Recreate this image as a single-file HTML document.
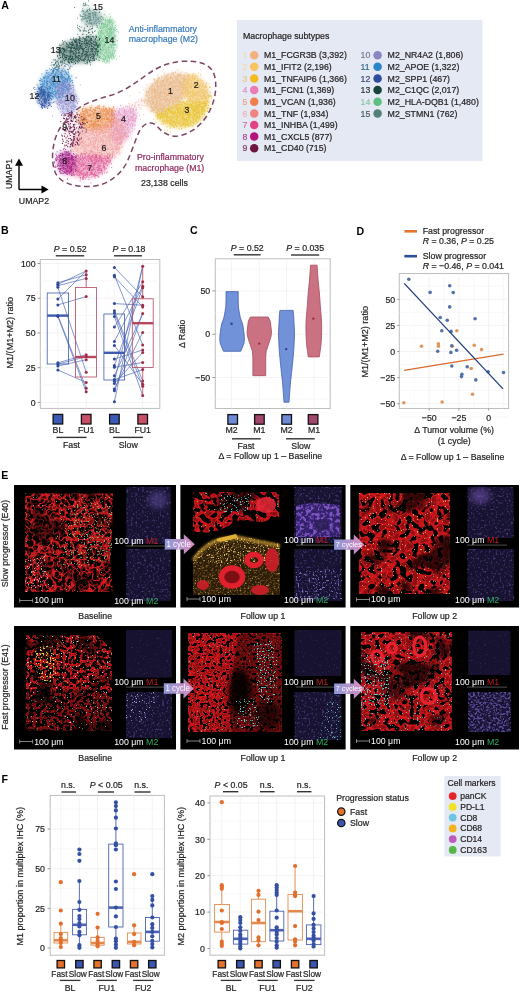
<!DOCTYPE html>
<html><head><meta charset="utf-8"><title>Figure</title>
<style>html,body{margin:0;padding:0;background:#fff;}svg{display:block;}</style></head>
<body><svg width="520" height="994" viewBox="0 0 520 994" font-family="'Liberation Sans', Arial, sans-serif">
<defs><linearGradient id="ag" x1="0" x2="1" y1="0" y2="0"><stop offset="0" stop-color="#8e98d8"/><stop offset="1" stop-color="#d88cbe"/></linearGradient><filter id="blur1" x="-20%" y="-20%" width="140%" height="140%"><feGaussianBlur stdDeviation="1.5"/></filter><filter id="blur2" x="-50%" y="-50%" width="200%" height="200%"><feGaussianBlur stdDeviation="3"/></filter><filter id="f1" x="0" y="0" width="1" height="1" color-interpolation-filters="sRGB"><feTurbulence type="fractalNoise" baseFrequency="0.3" numOctaves="2" seed="3"/><feColorMatrix type="matrix" values="0 0 0 0 0.55 0 0 0 0 0.06 0 0 0 0 0.07 1 0 0 0 0"/><feComponentTransfer><feFuncA type="table" tableValues="0 0 0 0 0 0 0 0 0 0 0 0 0 0 0 0 0 0 0 0 0 0.16 0.31 0.47 0.62 0.75 0.75 0.75 0.75 0.75 0.75 0.75 0.75 0.75 0.75 0.75 0.75 0.75 0.75 0.75 0.75"/></feComponentTransfer></filter><filter id="f2" x="0" y="0" width="1" height="1" color-interpolation-filters="sRGB"><feTurbulence type="fractalNoise" baseFrequency="0.15" numOctaves="2" seed="10"/><feColorMatrix type="matrix" values="0 0 0 0 0.93 0 0 0 0 0.13 0 0 0 0 0.15 1 0 0 0 0"/><feComponentTransfer><feFuncA type="table" tableValues="0 0 0 0 0 0 0 0 0 0 0 0 0 0 0 0 0.18 0.41 0.64 0.86 0.91 0.68 0.45 0.23 0 0 0 0 0 0 0 0 0 0 0 0 0 0 0 0 0"/></feComponentTransfer></filter><filter id="f3" x="0" y="0" width="1" height="1" color-interpolation-filters="sRGB"><feTurbulence type="fractalNoise" baseFrequency="0.75" numOctaves="1" seed="53"/><feColorMatrix type="matrix" values="0 0 0 0 0.55 0 0 0 0 0.75 0 0 0 0 0.5 0 1 0 0 0"/><feComponentTransfer><feFuncA type="table" tableValues="0 0 0 0 0 0 0 0 0 0 0 0 0 0 0 0 0 0 0 0 0 0 0 0 0 0 0 0 0.14 0.5 0.85 0.85 0.85 0.85 0.85 0.85 0.85 0.85 0.85 0.85 0.85"/></feComponentTransfer></filter><filter id="f4" x="0" y="0" width="1" height="1" color-interpolation-filters="sRGB"><feTurbulence type="fractalNoise" baseFrequency="0.035" numOctaves="2" seed="93"/><feColorMatrix type="matrix" values="0 0 0 0 0 0 0 0 0 0 0 0 0 0 0 1 0 0 0 0"/><feComponentTransfer><feFuncA type="table" tableValues="0 0 0 0 0 0 0 0 0 0 0 0 0 0 0 0 0 0 0 0 0 0 0 0 0 0.13 0.25 0.38 0.5 0.5 0.5 0.5 0.5 0.5 0.5 0.5 0.5 0.5 0.5 0.5 0.5"/></feComponentTransfer></filter><filter id="f5" x="0" y="0" width="1" height="1" color-interpolation-filters="sRGB"><feTurbulence type="fractalNoise" baseFrequency="0.7" numOctaves="1" seed="61"/><feColorMatrix type="matrix" values="0 0 0 0 0.55 0 0 0 0 0.8 0 0 0 0 0.5 0 1 0 0 0"/><feComponentTransfer><feFuncA type="table" tableValues="0 0 0 0 0 0 0 0 0 0 0 0 0 0 0 0 0 0 0 0 0 0 0 0 0 0.05 0.3 0.55 0.8 0.8 0.8 0.8 0.8 0.8 0.8 0.8 0.8 0.8 0.8 0.8 0.8"/></feComponentTransfer></filter><filter id="f6" x="0" y="0" width="1" height="1" color-interpolation-filters="sRGB"><feTurbulence type="fractalNoise" baseFrequency="0.7" numOctaves="1" seed="62"/><feColorMatrix type="matrix" values="0 0 0 0 0.8 0 0 0 0 0.85 0 0 0 0 0.85 0 1 0 0 0"/><feComponentTransfer><feFuncA type="table" tableValues="0 0 0 0 0 0 0 0 0 0 0 0 0 0 0 0 0 0 0 0 0 0 0 0 0 0.25 0.5 0.75 0.8 0.8 0.8 0.8 0.8 0.8 0.8 0.8 0.8 0.8 0.8 0.8 0.8"/></feComponentTransfer></filter><filter id="f7" x="0" y="0" width="1" height="1" color-interpolation-filters="sRGB"><feTurbulence type="fractalNoise" baseFrequency="0.45" numOctaves="2" seed="21"/><feColorMatrix type="matrix" values="0 0 0 0 0.42 0 0 0 0 0.34 0 0 0 0 0.7 0 0 1 0 0"/><feComponentTransfer><feFuncA type="table" tableValues="0 0 0 0 0 0 0 0 0 0 0 0 0 0 0 0 0 0 0 0 0 0 0 0.04 0.11 0.18 0.25 0.32 0.39 0.46 0.5 0.5 0.5 0.5 0.5 0.5 0.5 0.5 0.5 0.5 0.5"/></feComponentTransfer></filter><filter id="f8" x="0" y="0" width="1" height="1" color-interpolation-filters="sRGB"><feTurbulence type="fractalNoise" baseFrequency="0.45" numOctaves="2" seed="22"/><feColorMatrix type="matrix" values="0 0 0 0 0.42 0 0 0 0 0.34 0 0 0 0 0.7 0 0 1 0 0"/><feComponentTransfer><feFuncA type="table" tableValues="0 0 0 0 0 0 0 0 0 0 0 0 0 0 0 0 0 0 0 0 0 0 0 0.04 0.11 0.18 0.25 0.32 0.39 0.46 0.5 0.5 0.5 0.5 0.5 0.5 0.5 0.5 0.5 0.5 0.5"/></feComponentTransfer></filter><filter id="f9" x="0" y="0" width="1" height="1" color-interpolation-filters="sRGB"><feTurbulence type="fractalNoise" baseFrequency="0.18" numOctaves="1" seed="5"/><feColorMatrix type="matrix" values="0 0 0 0 0.84 0 0 0 0 0.09 0 0 0 0 0.11 1 0 0 0 0"/><feComponentTransfer><feFuncA type="table" tableValues="0 0 0 0 0 0 0 0 0 0 0 0 0 0 0 0 0 0 0 0 0 0.08 0.47 0.87 0.95 0.95 0.95 0.95 0.95 0.95 0.95 0.95 0.95 0.95 0.95 0.95 0.95 0.95 0.95 0.95 0.95"/></feComponentTransfer></filter><filter id="f10" x="0" y="0" width="1" height="1" color-interpolation-filters="sRGB"><feTurbulence type="fractalNoise" baseFrequency="0.18" numOctaves="1" seed="5"/><feColorMatrix type="matrix" values="0 0 0 0 0.3 0 0 0 0 0.02 0 0 0 0 0.03 1 0 0 0 0"/><feComponentTransfer><feFuncA type="table" tableValues="0 0 0 0 0 0 0 0 0 0 0 0 0 0 0 0 0 0 0 0 0 0 0 0 0 0.04 0.21 0.39 0.5 0.5 0.5 0.5 0.5 0.5 0.5 0.5 0.5 0.5 0.5 0.5 0.5"/></feComponentTransfer></filter><filter id="f11" x="0" y="0" width="1" height="1" color-interpolation-filters="sRGB"><feTurbulence type="fractalNoise" baseFrequency="0.18" numOctaves="1" seed="338"/><feColorMatrix type="matrix" values="0 0 0 0 0.84 0 0 0 0 0.09 0 0 0 0 0.11 1 0 0 0 0"/><feComponentTransfer><feFuncA type="table" tableValues="0 0 0 0 0 0 0 0 0 0 0 0 0 0 0 0 0 0 0 0 0 0.08 0.47 0.87 0.95 0.95 0.95 0.95 0.95 0.95 0.95 0.95 0.95 0.95 0.95 0.95 0.95 0.95 0.95 0.95 0.95"/></feComponentTransfer></filter><filter id="f12" x="0" y="0" width="1" height="1" color-interpolation-filters="sRGB"><feTurbulence type="fractalNoise" baseFrequency="0.18" numOctaves="1" seed="338"/><feColorMatrix type="matrix" values="0 0 0 0 0.3 0 0 0 0 0.02 0 0 0 0 0.03 1 0 0 0 0"/><feComponentTransfer><feFuncA type="table" tableValues="0 0 0 0 0 0 0 0 0 0 0 0 0 0 0 0 0 0 0 0 0 0 0 0 0 0.04 0.21 0.39 0.5 0.5 0.5 0.5 0.5 0.5 0.5 0.5 0.5 0.5 0.5 0.5 0.5"/></feComponentTransfer></filter><filter id="f13" x="0" y="0" width="1" height="1" color-interpolation-filters="sRGB"><feTurbulence type="fractalNoise" baseFrequency="0.75" numOctaves="1" seed="55"/><feColorMatrix type="matrix" values="0 0 0 0 0.55 0 0 0 0 0.75 0 0 0 0 0.5 0 1 0 0 0"/><feComponentTransfer><feFuncA type="table" tableValues="0 0 0 0 0 0 0 0 0 0 0 0 0 0 0 0 0 0 0 0 0 0 0 0 0 0 0 0 0.14 0.5 0.85 0.85 0.85 0.85 0.85 0.85 0.85 0.85 0.85 0.85 0.85"/></feComponentTransfer></filter><filter id="f14" x="0" y="0" width="1" height="1" color-interpolation-filters="sRGB"><feTurbulence type="fractalNoise" baseFrequency="0.035" numOctaves="2" seed="95"/><feColorMatrix type="matrix" values="0 0 0 0 0 0 0 0 0 0 0 0 0 0 0 1 0 0 0 0"/><feComponentTransfer><feFuncA type="table" tableValues="0 0 0 0 0 0 0 0 0 0 0 0 0 0 0 0 0 0 0 0 0 0 0 0.09 0.23 0.38 0.52 0.67 0.7 0.7 0.7 0.7 0.7 0.7 0.7 0.7 0.7 0.7 0.7 0.7 0.7"/></feComponentTransfer></filter><filter id="f15" x="0" y="0" width="1" height="1" color-interpolation-filters="sRGB"><feTurbulence type="fractalNoise" baseFrequency="0.7" numOctaves="1" seed="63"/><feColorMatrix type="matrix" values="0 0 0 0 0.45 0 0 0 0 0.85 0 0 0 0 0.85 0 1 0 0 0"/><feComponentTransfer><feFuncA type="table" tableValues="0 0 0 0 0 0 0 0 0 0 0 0 0 0 0 0 0 0 0 0 0 0 0 0 0 0.28 0.56 0.84 0.9 0.9 0.9 0.9 0.9 0.9 0.9 0.9 0.9 0.9 0.9 0.9 0.9"/></feComponentTransfer></filter><filter id="f16" x="0" y="0" width="1" height="1" color-interpolation-filters="sRGB"><feTurbulence type="fractalNoise" baseFrequency="0.5" numOctaves="2" seed="9"/><feColorMatrix type="matrix" values="0 0 0 0 0.5 0 0 0 0 0.38 0 0 0 0 0.14 1 0 0 0 0"/><feComponentTransfer><feFuncA type="table" tableValues="0 0 0 0 0 0 0 0 0 0 0 0 0 0 0 0 0 0 0 0 0.08 0.17 0.26 0.36 0.45 0.54 0.6 0.6 0.6 0.6 0.6 0.6 0.6 0.6 0.6 0.6 0.6 0.6 0.6 0.6 0.6"/></feComponentTransfer></filter><filter id="f17" x="0" y="0" width="1" height="1" color-interpolation-filters="sRGB"><feTurbulence type="fractalNoise" baseFrequency="0.6" numOctaves="1" seed="19"/><feColorMatrix type="matrix" values="0 0 0 0 0.9 0 0 0 0 0.7 0 0 0 0 0.3 0 1 0 0 0"/><feComponentTransfer><feFuncA type="table" tableValues="0 0 0 0 0 0 0 0 0 0 0 0 0 0 0 0 0 0 0 0 0 0 0 0 0 0 0.07 0.25 0.42 0.59 0.7 0.7 0.7 0.7 0.7 0.7 0.7 0.7 0.7 0.7 0.7"/></feComponentTransfer></filter><filter id="f18" x="0" y="0" width="1" height="1" color-interpolation-filters="sRGB"><feTurbulence type="fractalNoise" baseFrequency="0.7" numOctaves="1" seed="29"/><feColorMatrix type="matrix" values="0 0 0 0 0.98 0 0 0 0 0.88 0 0 0 0 0.5 0 1 0 0 0"/><feComponentTransfer><feFuncA type="table" tableValues="0 0 0 0 0 0 0 0 0 0 0 0 0 0 0 0 0 0 0 0 0 0 0 0 0 0.05 0.3 0.55 0.8 0.8 0.8 0.8 0.8 0.8 0.8 0.8 0.8 0.8 0.8 0.8 0.8"/></feComponentTransfer></filter><filter id="f19" x="0" y="0" width="1" height="1" color-interpolation-filters="sRGB"><feTurbulence type="fractalNoise" baseFrequency="0.45" numOctaves="2" seed="23"/><feColorMatrix type="matrix" values="0 0 0 0 0.42 0 0 0 0 0.34 0 0 0 0 0.7 0 0 1 0 0"/><feComponentTransfer><feFuncA type="table" tableValues="0 0 0 0 0 0 0 0 0 0 0 0 0 0 0 0 0 0 0 0 0 0 0 0.04 0.11 0.18 0.25 0.32 0.39 0.46 0.5 0.5 0.5 0.5 0.5 0.5 0.5 0.5 0.5 0.5 0.5"/></feComponentTransfer></filter><filter id="f20" x="0" y="0" width="1" height="1" color-interpolation-filters="sRGB"><feTurbulence type="fractalNoise" baseFrequency="0.3" numOctaves="3" seed="71"/><feColorMatrix type="matrix" values="0 0 0 0 0.56 0 0 0 0 0.38 0 0 0 0 0.84 1 0 0 0 0"/><feComponentTransfer><feFuncA type="table" tableValues="0 0 0 0 0 0 0 0 0 0 0 0 0 0 0 0 0 0 0 0.1 0.2 0.3 0.4 0.5 0.6 0.7 0.8 0.8 0.8 0.8 0.8 0.8 0.8 0.8 0.8 0.8 0.8 0.8 0.8 0.8 0.8"/></feComponentTransfer></filter><filter id="f21" x="0" y="0" width="1" height="1" color-interpolation-filters="sRGB"><feTurbulence type="fractalNoise" baseFrequency="0.45" numOctaves="2" seed="24"/><feColorMatrix type="matrix" values="0 0 0 0 0.42 0 0 0 0 0.34 0 0 0 0 0.7 0 0 1 0 0"/><feComponentTransfer><feFuncA type="table" tableValues="0 0 0 0 0 0 0 0 0 0 0 0 0 0 0 0 0 0 0 0 0 0 0 0.04 0.11 0.18 0.25 0.32 0.39 0.46 0.5 0.5 0.5 0.5 0.5 0.5 0.5 0.5 0.5 0.5 0.5"/></feComponentTransfer></filter><filter id="f22" x="0" y="0" width="1" height="1" color-interpolation-filters="sRGB"><feTurbulence type="fractalNoise" baseFrequency="0.55" numOctaves="1" seed="72"/><feColorMatrix type="matrix" values="0 0 0 0 0.55 0 0 0 0 0.5 0 0 0 0 0.85 0 0 1 0 0"/><feComponentTransfer><feFuncA type="table" tableValues="0 0 0 0 0 0 0 0 0 0 0 0 0 0 0 0 0 0 0 0 0 0 0 0 0 0.2 0.4 0.6 0.8 0.8 0.8 0.8 0.8 0.8 0.8 0.8 0.8 0.8 0.8 0.8 0.8"/></feComponentTransfer></filter><filter id="f23" x="0" y="0" width="1" height="1" color-interpolation-filters="sRGB"><feTurbulence type="fractalNoise" baseFrequency="0.16" numOctaves="1" seed="7"/><feColorMatrix type="matrix" values="0 0 0 0 0.84 0 0 0 0 0.09 0 0 0 0 0.11 1 0 0 0 0"/><feComponentTransfer><feFuncA type="table" tableValues="0 0 0 0 0 0 0 0 0 0 0 0 0 0 0 0 0 0 0 0 0.32 0.71 0.95 0.95 0.95 0.95 0.95 0.95 0.95 0.95 0.95 0.95 0.95 0.95 0.95 0.95 0.95 0.95 0.95 0.95 0.95"/></feComponentTransfer></filter><filter id="f24" x="0" y="0" width="1" height="1" color-interpolation-filters="sRGB"><feTurbulence type="fractalNoise" baseFrequency="0.16" numOctaves="1" seed="7"/><feColorMatrix type="matrix" values="0 0 0 0 0.3 0 0 0 0 0.02 0 0 0 0 0.03 1 0 0 0 0"/><feComponentTransfer><feFuncA type="table" tableValues="0 0 0 0 0 0 0 0 0 0 0 0 0 0 0 0 0 0 0 0 0 0 0 0 0.14 0.32 0.5 0.5 0.5 0.5 0.5 0.5 0.5 0.5 0.5 0.5 0.5 0.5 0.5 0.5 0.5"/></feComponentTransfer></filter><filter id="f25" x="0" y="0" width="1" height="1" color-interpolation-filters="sRGB"><feTurbulence type="fractalNoise" baseFrequency="0.16" numOctaves="1" seed="340"/><feColorMatrix type="matrix" values="0 0 0 0 0.84 0 0 0 0 0.09 0 0 0 0 0.11 1 0 0 0 0"/><feComponentTransfer><feFuncA type="table" tableValues="0 0 0 0 0 0 0 0 0 0 0 0 0 0 0 0 0 0 0 0 0.32 0.71 0.95 0.95 0.95 0.95 0.95 0.95 0.95 0.95 0.95 0.95 0.95 0.95 0.95 0.95 0.95 0.95 0.95 0.95 0.95"/></feComponentTransfer></filter><filter id="f26" x="0" y="0" width="1" height="1" color-interpolation-filters="sRGB"><feTurbulence type="fractalNoise" baseFrequency="0.16" numOctaves="1" seed="340"/><feColorMatrix type="matrix" values="0 0 0 0 0.3 0 0 0 0 0.02 0 0 0 0 0.03 1 0 0 0 0"/><feComponentTransfer><feFuncA type="table" tableValues="0 0 0 0 0 0 0 0 0 0 0 0 0 0 0 0 0 0 0 0 0 0 0 0 0.14 0.32 0.5 0.5 0.5 0.5 0.5 0.5 0.5 0.5 0.5 0.5 0.5 0.5 0.5 0.5 0.5"/></feComponentTransfer></filter><filter id="f27" x="0" y="0" width="1" height="1" color-interpolation-filters="sRGB"><feTurbulence type="fractalNoise" baseFrequency="0.75" numOctaves="1" seed="57"/><feColorMatrix type="matrix" values="0 0 0 0 0.85 0 0 0 0 0.8 0 0 0 0 0.45 0 1 0 0 0"/><feComponentTransfer><feFuncA type="table" tableValues="0 0 0 0 0 0 0 0 0 0 0 0 0 0 0 0 0 0 0 0 0 0 0 0 0 0 0 0.21 0.57 0.85 0.85 0.85 0.85 0.85 0.85 0.85 0.85 0.85 0.85 0.85 0.85"/></feComponentTransfer></filter><filter id="f28" x="0" y="0" width="1" height="1" color-interpolation-filters="sRGB"><feTurbulence type="fractalNoise" baseFrequency="0.035" numOctaves="2" seed="97"/><feColorMatrix type="matrix" values="0 0 0 0 0 0 0 0 0 0 0 0 0 0 0 1 0 0 0 0"/><feComponentTransfer><feFuncA type="table" tableValues="0 0 0 0 0 0 0 0 0 0 0 0 0 0 0 0 0 0 0 0 0 0 0 0.09 0.23 0.38 0.52 0.67 0.7 0.7 0.7 0.7 0.7 0.7 0.7 0.7 0.7 0.7 0.7 0.7 0.7"/></feComponentTransfer></filter><filter id="f29" x="0" y="0" width="1" height="1" color-interpolation-filters="sRGB"><feTurbulence type="fractalNoise" baseFrequency="0.45" numOctaves="2" seed="25"/><feColorMatrix type="matrix" values="0 0 0 0 0.42 0 0 0 0 0.34 0 0 0 0 0.7 0 0 1 0 0"/><feComponentTransfer><feFuncA type="table" tableValues="0 0 0 0 0 0 0 0 0 0 0 0 0 0 0 0 0 0 0 0 0 0 0 0.04 0.11 0.18 0.25 0.32 0.39 0.46 0.5 0.5 0.5 0.5 0.5 0.5 0.5 0.5 0.5 0.5 0.5"/></feComponentTransfer></filter><filter id="f30" x="0" y="0" width="1" height="1" color-interpolation-filters="sRGB"><feTurbulence type="fractalNoise" baseFrequency="0.45" numOctaves="2" seed="26"/><feColorMatrix type="matrix" values="0 0 0 0 0.42 0 0 0 0 0.34 0 0 0 0 0.7 0 0 1 0 0"/><feComponentTransfer><feFuncA type="table" tableValues="0 0 0 0 0 0 0 0 0 0 0 0 0 0 0 0 0 0 0 0 0 0 0 0.04 0.11 0.18 0.25 0.32 0.39 0.46 0.5 0.5 0.5 0.5 0.5 0.5 0.5 0.5 0.5 0.5 0.5"/></feComponentTransfer></filter><filter id="f31" x="0" y="0" width="1" height="1" color-interpolation-filters="sRGB"><feTurbulence type="fractalNoise" baseFrequency="0.3" numOctaves="1" seed="13"/><feColorMatrix type="matrix" values="0 0 0 0 0.84 0 0 0 0 0.09 0 0 0 0 0.11 1 0 0 0 0"/><feComponentTransfer><feFuncA type="table" tableValues="0 0 0 0 0 0 0 0 0 0 0 0 0 0 0 0 0 0 0 0 0 0 0.32 0.71 0.95 0.95 0.95 0.95 0.95 0.95 0.95 0.95 0.95 0.95 0.95 0.95 0.95 0.95 0.95 0.95 0.95"/></feComponentTransfer></filter><filter id="f32" x="0" y="0" width="1" height="1" color-interpolation-filters="sRGB"><feTurbulence type="fractalNoise" baseFrequency="0.3" numOctaves="1" seed="13"/><feColorMatrix type="matrix" values="0 0 0 0 0.3 0 0 0 0 0.02 0 0 0 0 0.03 1 0 0 0 0"/><feComponentTransfer><feFuncA type="table" tableValues="0 0 0 0 0 0 0 0 0 0 0 0 0 0 0 0 0 0 0 0 0 0 0 0 0 0 0.14 0.32 0.5 0.5 0.5 0.5 0.5 0.5 0.5 0.5 0.5 0.5 0.5 0.5 0.5"/></feComponentTransfer></filter><filter id="f33" x="0" y="0" width="1" height="1" color-interpolation-filters="sRGB"><feTurbulence type="fractalNoise" baseFrequency="0.3" numOctaves="1" seed="346"/><feColorMatrix type="matrix" values="0 0 0 0 0.84 0 0 0 0 0.09 0 0 0 0 0.11 1 0 0 0 0"/><feComponentTransfer><feFuncA type="table" tableValues="0 0 0 0 0 0 0 0 0 0 0 0 0 0 0 0 0 0 0 0 0 0 0.32 0.71 0.95 0.95 0.95 0.95 0.95 0.95 0.95 0.95 0.95 0.95 0.95 0.95 0.95 0.95 0.95 0.95 0.95"/></feComponentTransfer></filter><filter id="f34" x="0" y="0" width="1" height="1" color-interpolation-filters="sRGB"><feTurbulence type="fractalNoise" baseFrequency="0.3" numOctaves="1" seed="346"/><feColorMatrix type="matrix" values="0 0 0 0 0.3 0 0 0 0 0.02 0 0 0 0 0.03 1 0 0 0 0"/><feComponentTransfer><feFuncA type="table" tableValues="0 0 0 0 0 0 0 0 0 0 0 0 0 0 0 0 0 0 0 0 0 0 0 0 0 0 0.14 0.32 0.5 0.5 0.5 0.5 0.5 0.5 0.5 0.5 0.5 0.5 0.5 0.5 0.5"/></feComponentTransfer></filter><filter id="f35" x="0" y="0" width="1" height="1" color-interpolation-filters="sRGB"><feTurbulence type="fractalNoise" baseFrequency="0.75" numOctaves="1" seed="63"/><feColorMatrix type="matrix" values="0 0 0 0 0.55 0 0 0 0 0.75 0 0 0 0 0.5 0 1 0 0 0"/><feComponentTransfer><feFuncA type="table" tableValues="0 0 0 0 0 0 0 0 0 0 0 0 0 0 0 0 0 0 0 0 0 0 0 0 0 0 0 0 0.14 0.5 0.85 0.85 0.85 0.85 0.85 0.85 0.85 0.85 0.85 0.85 0.85"/></feComponentTransfer></filter><filter id="f36" x="0" y="0" width="1" height="1" color-interpolation-filters="sRGB"><feTurbulence type="fractalNoise" baseFrequency="0.035" numOctaves="2" seed="103"/><feColorMatrix type="matrix" values="0 0 0 0 0 0 0 0 0 0 0 0 0 0 0 1 0 0 0 0"/><feComponentTransfer><feFuncA type="table" tableValues="0 0 0 0 0 0 0 0 0 0 0 0 0 0 0 0 0 0 0 0 0 0 0 0.09 0.23 0.38 0.52 0.67 0.7 0.7 0.7 0.7 0.7 0.7 0.7 0.7 0.7 0.7 0.7 0.7 0.7"/></feComponentTransfer></filter><filter id="f37" x="0" y="0" width="1" height="1" color-interpolation-filters="sRGB"><feTurbulence type="fractalNoise" baseFrequency="0.6" numOctaves="1" seed="64"/><feColorMatrix type="matrix" values="0 0 0 0 0.85 0 0 0 0 0.85 0 0 0 0 0.3 0 1 0 0 0"/><feComponentTransfer><feFuncA type="table" tableValues="0 0 0 0 0 0 0 0 0 0 0 0 0 0 0 0 0 0 0 0 0 0 0 0 0.16 0.55 0.95 0.95 0.95 0.95 0.95 0.95 0.95 0.95 0.95 0.95 0.95 0.95 0.95 0.95 0.95"/></feComponentTransfer></filter><filter id="f38" x="0" y="0" width="1" height="1" color-interpolation-filters="sRGB"><feTurbulence type="fractalNoise" baseFrequency="0.8" numOctaves="1" seed="65"/><feColorMatrix type="matrix" values="0 0 0 0 0.8 0 0 0 0 0.9 0 0 0 0 0.85 0 1 0 0 0"/><feComponentTransfer><feFuncA type="table" tableValues="0 0 0 0 0 0 0 0 0 0 0 0 0 0 0 0 0 0 0 0 0 0 0 0 0 0 0 0 0.15 0.53 0.9 0.9 0.9 0.9 0.9 0.9 0.9 0.9 0.9 0.9 0.9"/></feComponentTransfer></filter><filter id="f39" x="0" y="0" width="1" height="1" color-interpolation-filters="sRGB"><feTurbulence type="fractalNoise" baseFrequency="0.45" numOctaves="2" seed="31"/><feColorMatrix type="matrix" values="0 0 0 0 0.42 0 0 0 0 0.34 0 0 0 0 0.7 0 0 1 0 0"/><feComponentTransfer><feFuncA type="table" tableValues="0 0 0 0 0 0 0 0 0 0 0 0 0 0 0 0 0 0 0 0 0 0 0 0 0 0 0 0.03 0.09 0.14 0.19 0.25 0.3 0.3 0.3 0.3 0.3 0.3 0.3 0.3 0.3"/></feComponentTransfer></filter><filter id="f40" x="0" y="0" width="1" height="1" color-interpolation-filters="sRGB"><feTurbulence type="fractalNoise" baseFrequency="0.45" numOctaves="2" seed="32"/><feColorMatrix type="matrix" values="0 0 0 0 0.42 0 0 0 0 0.34 0 0 0 0 0.7 0 0 1 0 0"/><feComponentTransfer><feFuncA type="table" tableValues="0 0 0 0 0 0 0 0 0 0 0 0 0 0 0 0 0 0 0 0 0 0 0 0.04 0.11 0.18 0.25 0.32 0.39 0.46 0.5 0.5 0.5 0.5 0.5 0.5 0.5 0.5 0.5 0.5 0.5"/></feComponentTransfer></filter><filter id="f41" x="0" y="0" width="1" height="1" color-interpolation-filters="sRGB"><feTurbulence type="fractalNoise" baseFrequency="0.8" numOctaves="1" seed="73"/><feColorMatrix type="matrix" values="0 0 0 0 0.75 0 0 0 0 0.8 0 0 0 0 0.95 0 1 0 0 0"/><feComponentTransfer><feFuncA type="table" tableValues="0 0 0 0 0 0 0 0 0 0 0 0 0 0 0 0 0 0 0 0 0 0 0 0 0 0 0 0.29 0.57 0.8 0.8 0.8 0.8 0.8 0.8 0.8 0.8 0.8 0.8 0.8 0.8"/></feComponentTransfer></filter><filter id="f42" x="0" y="0" width="1" height="1" color-interpolation-filters="sRGB"><feTurbulence type="fractalNoise" baseFrequency="0.3" numOctaves="1" seed="15"/><feColorMatrix type="matrix" values="0 0 0 0 0.84 0 0 0 0 0.09 0 0 0 0 0.11 1 0 0 0 0"/><feComponentTransfer><feFuncA type="table" tableValues="0 0 0 0 0 0 0 0 0 0 0 0 0 0 0 0 0 0 0 0.08 0.47 0.87 0.95 0.95 0.95 0.95 0.95 0.95 0.95 0.95 0.95 0.95 0.95 0.95 0.95 0.95 0.95 0.95 0.95 0.95 0.95"/></feComponentTransfer></filter><filter id="f43" x="0" y="0" width="1" height="1" color-interpolation-filters="sRGB"><feTurbulence type="fractalNoise" baseFrequency="0.3" numOctaves="1" seed="15"/><feColorMatrix type="matrix" values="0 0 0 0 0.3 0 0 0 0 0.02 0 0 0 0 0.03 1 0 0 0 0"/><feComponentTransfer><feFuncA type="table" tableValues="0 0 0 0 0 0 0 0 0 0 0 0 0 0 0 0 0 0 0 0 0 0 0 0.04 0.21 0.39 0.5 0.5 0.5 0.5 0.5 0.5 0.5 0.5 0.5 0.5 0.5 0.5 0.5 0.5 0.5"/></feComponentTransfer></filter><filter id="f44" x="0" y="0" width="1" height="1" color-interpolation-filters="sRGB"><feTurbulence type="fractalNoise" baseFrequency="0.3" numOctaves="1" seed="348"/><feColorMatrix type="matrix" values="0 0 0 0 0.84 0 0 0 0 0.09 0 0 0 0 0.11 1 0 0 0 0"/><feComponentTransfer><feFuncA type="table" tableValues="0 0 0 0 0 0 0 0 0 0 0 0 0 0 0 0 0 0 0 0.08 0.47 0.87 0.95 0.95 0.95 0.95 0.95 0.95 0.95 0.95 0.95 0.95 0.95 0.95 0.95 0.95 0.95 0.95 0.95 0.95 0.95"/></feComponentTransfer></filter><filter id="f45" x="0" y="0" width="1" height="1" color-interpolation-filters="sRGB"><feTurbulence type="fractalNoise" baseFrequency="0.3" numOctaves="1" seed="348"/><feColorMatrix type="matrix" values="0 0 0 0 0.3 0 0 0 0 0.02 0 0 0 0 0.03 1 0 0 0 0"/><feComponentTransfer><feFuncA type="table" tableValues="0 0 0 0 0 0 0 0 0 0 0 0 0 0 0 0 0 0 0 0 0 0 0 0.04 0.21 0.39 0.5 0.5 0.5 0.5 0.5 0.5 0.5 0.5 0.5 0.5 0.5 0.5 0.5 0.5 0.5"/></feComponentTransfer></filter><filter id="f46" x="0" y="0" width="1" height="1" color-interpolation-filters="sRGB"><feTurbulence type="fractalNoise" baseFrequency="0.75" numOctaves="1" seed="65"/><feColorMatrix type="matrix" values="0 0 0 0 0.55 0 0 0 0 0.75 0 0 0 0 0.5 0 1 0 0 0"/><feComponentTransfer><feFuncA type="table" tableValues="0 0 0 0 0 0 0 0 0 0 0 0 0 0 0 0 0 0 0 0 0 0 0 0 0 0 0 0 0.14 0.5 0.85 0.85 0.85 0.85 0.85 0.85 0.85 0.85 0.85 0.85 0.85"/></feComponentTransfer></filter><filter id="f47" x="0" y="0" width="1" height="1" color-interpolation-filters="sRGB"><feTurbulence type="fractalNoise" baseFrequency="0.7" numOctaves="1" seed="66"/><feColorMatrix type="matrix" values="0 0 0 0 0.45 0 0 0 0 0.85 0 0 0 0 0.85 0 1 0 0 0"/><feComponentTransfer><feFuncA type="table" tableValues="0 0 0 0 0 0 0 0 0 0 0 0 0 0 0 0 0 0 0 0 0 0 0 0 0 0.32 0.64 0.9 0.9 0.9 0.9 0.9 0.9 0.9 0.9 0.9 0.9 0.9 0.9 0.9 0.9"/></feComponentTransfer></filter><filter id="f48" x="0" y="0" width="1" height="1" color-interpolation-filters="sRGB"><feTurbulence type="fractalNoise" baseFrequency="0.45" numOctaves="2" seed="33"/><feColorMatrix type="matrix" values="0 0 0 0 0.42 0 0 0 0 0.34 0 0 0 0 0.7 0 0 1 0 0"/><feComponentTransfer><feFuncA type="table" tableValues="0 0 0 0 0 0 0 0 0 0 0 0 0 0 0 0 0 0 0 0 0 0 0 0 0 0 0 0.03 0.09 0.14 0.19 0.25 0.3 0.3 0.3 0.3 0.3 0.3 0.3 0.3 0.3"/></feComponentTransfer></filter><filter id="f49" x="0" y="0" width="1" height="1" color-interpolation-filters="sRGB"><feTurbulence type="fractalNoise" baseFrequency="0.45" numOctaves="2" seed="34"/><feColorMatrix type="matrix" values="0 0 0 0 0.42 0 0 0 0 0.34 0 0 0 0 0.7 0 0 1 0 0"/><feComponentTransfer><feFuncA type="table" tableValues="0 0 0 0 0 0 0 0 0 0 0 0 0 0 0 0 0 0 0 0 0 0 0 0.04 0.11 0.18 0.25 0.32 0.39 0.46 0.5 0.5 0.5 0.5 0.5 0.5 0.5 0.5 0.5 0.5 0.5"/></feComponentTransfer></filter><filter id="f50" x="0" y="0" width="1" height="1" color-interpolation-filters="sRGB"><feTurbulence type="fractalNoise" baseFrequency="0.8" numOctaves="1" seed="74"/><feColorMatrix type="matrix" values="0 0 0 0 0.45 0 0 0 0 0.85 0 0 0 0 0.85 0 1 0 0 0"/><feComponentTransfer><feFuncA type="table" tableValues="0 0 0 0 0 0 0 0 0 0 0 0 0 0 0 0 0 0 0 0 0 0 0 0 0 0.05 0.3 0.55 0.8 0.8 0.8 0.8 0.8 0.8 0.8 0.8 0.8 0.8 0.8 0.8 0.8"/></feComponentTransfer></filter><filter id="f51" x="0" y="0" width="1" height="1" color-interpolation-filters="sRGB"><feTurbulence type="fractalNoise" baseFrequency="0.2" numOctaves="1" seed="17"/><feColorMatrix type="matrix" values="0 0 0 0 0.84 0 0 0 0 0.09 0 0 0 0 0.11 1 0 0 0 0"/><feComponentTransfer><feFuncA type="table" tableValues="0 0 0 0 0 0 0 0 0 0 0 0 0 0 0 0 0 0 0 0 0.32 0.71 0.95 0.95 0.95 0.95 0.95 0.95 0.95 0.95 0.95 0.95 0.95 0.95 0.95 0.95 0.95 0.95 0.95 0.95 0.95"/></feComponentTransfer></filter><filter id="f52" x="0" y="0" width="1" height="1" color-interpolation-filters="sRGB"><feTurbulence type="fractalNoise" baseFrequency="0.2" numOctaves="1" seed="17"/><feColorMatrix type="matrix" values="0 0 0 0 0.3 0 0 0 0 0.02 0 0 0 0 0.03 1 0 0 0 0"/><feComponentTransfer><feFuncA type="table" tableValues="0 0 0 0 0 0 0 0 0 0 0 0 0 0 0 0 0 0 0 0 0 0 0 0 0.14 0.32 0.5 0.5 0.5 0.5 0.5 0.5 0.5 0.5 0.5 0.5 0.5 0.5 0.5 0.5 0.5"/></feComponentTransfer></filter><filter id="f53" x="0" y="0" width="1" height="1" color-interpolation-filters="sRGB"><feTurbulence type="fractalNoise" baseFrequency="0.2" numOctaves="1" seed="350"/><feColorMatrix type="matrix" values="0 0 0 0 0.84 0 0 0 0 0.09 0 0 0 0 0.11 1 0 0 0 0"/><feComponentTransfer><feFuncA type="table" tableValues="0 0 0 0 0 0 0 0 0 0 0 0 0 0 0 0 0 0 0 0 0.32 0.71 0.95 0.95 0.95 0.95 0.95 0.95 0.95 0.95 0.95 0.95 0.95 0.95 0.95 0.95 0.95 0.95 0.95 0.95 0.95"/></feComponentTransfer></filter><filter id="f54" x="0" y="0" width="1" height="1" color-interpolation-filters="sRGB"><feTurbulence type="fractalNoise" baseFrequency="0.2" numOctaves="1" seed="350"/><feColorMatrix type="matrix" values="0 0 0 0 0.3 0 0 0 0 0.02 0 0 0 0 0.03 1 0 0 0 0"/><feComponentTransfer><feFuncA type="table" tableValues="0 0 0 0 0 0 0 0 0 0 0 0 0 0 0 0 0 0 0 0 0 0 0 0 0.14 0.32 0.5 0.5 0.5 0.5 0.5 0.5 0.5 0.5 0.5 0.5 0.5 0.5 0.5 0.5 0.5"/></feComponentTransfer></filter><filter id="f55" x="0" y="0" width="1" height="1" color-interpolation-filters="sRGB"><feTurbulence type="fractalNoise" baseFrequency="0.75" numOctaves="1" seed="67"/><feColorMatrix type="matrix" values="0 0 0 0 0.45 0 0 0 0 0.85 0 0 0 0 0.85 0 1 0 0 0"/><feComponentTransfer><feFuncA type="table" tableValues="0 0 0 0 0 0 0 0 0 0 0 0 0 0 0 0 0 0 0 0 0 0 0 0 0 0 0 0.2 0.53 0.8 0.8 0.8 0.8 0.8 0.8 0.8 0.8 0.8 0.8 0.8 0.8"/></feComponentTransfer></filter><filter id="f56" x="0" y="0" width="1" height="1" color-interpolation-filters="sRGB"><feTurbulence type="fractalNoise" baseFrequency="0.035" numOctaves="2" seed="107"/><feColorMatrix type="matrix" values="0 0 0 0 0 0 0 0 0 0 0 0 0 0 0 1 0 0 0 0"/><feComponentTransfer><feFuncA type="table" tableValues="0 0 0 0 0 0 0 0 0 0 0 0 0 0 0 0 0 0 0 0 0 0 0 0.09 0.23 0.38 0.52 0.67 0.7 0.7 0.7 0.7 0.7 0.7 0.7 0.7 0.7 0.7 0.7 0.7 0.7"/></feComponentTransfer></filter><filter id="f57" x="0" y="0" width="1" height="1" color-interpolation-filters="sRGB"><feTurbulence type="fractalNoise" baseFrequency="0.7" numOctaves="1" seed="67"/><feColorMatrix type="matrix" values="0 0 0 0 0.45 0 0 0 0 0.85 0 0 0 0 0.85 0 1 0 0 0"/><feComponentTransfer><feFuncA type="table" tableValues="0 0 0 0 0 0 0 0 0 0 0 0 0 0 0 0 0 0 0 0 0 0 0 0 0 0.32 0.64 0.9 0.9 0.9 0.9 0.9 0.9 0.9 0.9 0.9 0.9 0.9 0.9 0.9 0.9"/></feComponentTransfer></filter><filter id="f58" x="0" y="0" width="1" height="1" color-interpolation-filters="sRGB"><feTurbulence type="fractalNoise" baseFrequency="0.45" numOctaves="2" seed="35"/><feColorMatrix type="matrix" values="0 0 0 0 0.42 0 0 0 0 0.34 0 0 0 0 0.7 0 0 1 0 0"/><feComponentTransfer><feFuncA type="table" tableValues="0 0 0 0 0 0 0 0 0 0 0 0 0 0 0 0 0 0 0 0 0 0 0 0 0 0 0 0.03 0.09 0.14 0.19 0.25 0.3 0.3 0.3 0.3 0.3 0.3 0.3 0.3 0.3"/></feComponentTransfer></filter><filter id="f59" x="0" y="0" width="1" height="1" color-interpolation-filters="sRGB"><feTurbulence type="fractalNoise" baseFrequency="0.45" numOctaves="2" seed="36"/><feColorMatrix type="matrix" values="0 0 0 0 0.42 0 0 0 0 0.34 0 0 0 0 0.7 0 0 1 0 0"/><feComponentTransfer><feFuncA type="table" tableValues="0 0 0 0 0 0 0 0 0 0 0 0 0 0 0 0 0 0 0 0.1 0.19 0.29 0.38 0.48 0.57 0.67 0.76 0.8 0.8 0.8 0.8 0.8 0.8 0.8 0.8 0.8 0.8 0.8 0.8 0.8 0.8"/></feComponentTransfer></filter></defs>
<text x="1.2" y="8.9" font-size="10.6" fill="#000" font-weight="bold">A</text>
<filter id="ub" x="-20%" y="-20%" width="140%" height="140%"><feGaussianBlur stdDeviation="2"/></filter>
<g filter="url(#ub)">
<path d="M82.0 12.0L88.0 9.0L96.0 10.0L102.0 14.0L103.0 21.0L97.0 26.0L88.0 26.0L82.0 21.0Z" fill="#8bada8" opacity="0.7"/>
<path d="M83.0 3.0L86.0 3.0L87.0 8.0L85.0 9.0Z" fill="#789693" opacity="0.3"/>
<path d="M52.0 62.0L58.0 58.0L64.0 62.0L60.0 70.0L53.0 70.0Z" fill="#698b85" opacity="0.2"/>
<path d="M104.0 16.0L110.0 15.0L113.0 20.0L108.0 24.0L102.0 22.0Z" fill="#bbe3c6" opacity="0.25"/>
<path d="M79.0 26.0L88.0 24.0L93.0 30.0L92.0 38.0L82.0 40.0L78.0 34.0Z" fill="#6d8e88" opacity="0.12"/>
<path d="M98.0 28.0L104.0 22.0L110.0 18.0L114.0 22.0L116.0 32.0L116.0 45.0L114.0 56.0L107.0 62.0L99.0 60.0L97.0 48.0L97.0 36.0Z" fill="#a5d9b5" opacity="0.7"/>
<path d="M57.0 51.0L62.0 44.0L72.0 40.0L84.0 38.0L94.0 36.0L99.0 40.0L99.0 54.0L94.0 61.0L84.0 63.0L70.0 63.0L60.0 60.0Z" fill="#61817c" opacity="0.7"/>
<path d="M53.0 62.0L62.0 60.0L74.0 63.0L70.0 72.0L58.0 72.0Z" fill="#8ba5bc" opacity="0.12"/>
<path d="M40.0 80.0L46.0 72.0L56.0 69.0L66.0 71.0L72.0 78.0L70.0 90.0L60.0 98.0L46.0 100.0L38.0 94.0Z" fill="#77abd8" opacity="0.7"/>
<path d="M38.0 90.0L44.0 88.0L50.0 94.0L50.0 106.0L42.0 107.0L37.0 100.0Z" fill="#6d87bd" opacity="0.7"/>
<path d="M57.0 86.0L64.0 80.0L72.0 84.0L77.0 96.0L77.0 108.0L72.0 114.0L62.0 114.0L57.0 104.0Z" fill="#b0b0de" opacity="0.7"/>
<path d="M144.0 100.0L148.0 88.0L157.0 79.0L168.0 74.0L180.0 73.0L188.0 75.0L186.0 90.0L180.0 102.0L168.0 110.0L158.0 114.0L150.0 110.0Z" fill="#efcdab" opacity="0.85"/>
<path d="M186.0 75.0L194.0 75.0L203.0 80.0L209.0 88.0L210.0 99.0L198.0 103.0L186.0 100.0L182.0 90.0Z" fill="#f4d595" opacity="0.85"/>
<path d="M156.0 114.0L168.0 108.0L182.0 102.0L198.0 102.0L210.0 98.0L207.0 110.0L201.0 120.0L192.0 126.0L180.0 128.6L168.0 126.0L158.0 120.0Z" fill="#eed26b" opacity="0.85"/>
<path d="M128.0 104.0L138.0 100.0L146.0 98.0L146.0 106.0L136.0 110.0L128.0 110.0Z" fill="#f3cec7" opacity="0.15"/>
<path d="M110.0 112.0L122.0 108.0L134.0 108.0L137.0 114.0L134.0 128.0L127.0 140.0L118.0 146.0L112.0 140.0L112.0 124.0Z" fill="#ebb4d7" opacity="0.7"/>
<path d="M79.0 112.0L82.0 108.0L100.0 107.5L113.0 108.5L116.0 116.0L112.0 126.0L104.0 131.0L92.0 131.0L84.0 128.0L79.0 120.0Z" fill="#efad7e" opacity="0.7"/>
<path d="M80.0 128.0L96.0 129.0L108.0 125.0L116.0 118.0L125.0 126.0L125.0 140.0L119.0 153.0L110.0 160.0L96.0 158.0L80.0 156.0L72.0 150.0L74.0 140.0Z" fill="#f4bebc" opacity="0.7"/>
<path d="M62.0 160.0L74.0 156.0L90.0 154.0L104.0 156.0L112.0 158.0L106.0 170.0L96.0 177.0L80.0 178.0L66.0 174.0Z" fill="#e98fb8" opacity="0.7"/>
<path d="M57.0 158.0L60.0 152.0L68.0 150.0L75.0 156.0L76.0 166.0L72.0 174.0L62.0 174.0L57.0 166.0Z" fill="#bc64ad" opacity="0.7"/>
<path d="M64.0 114.0L72.0 112.0L82.0 116.0L84.0 128.0L80.0 140.0L74.0 148.0L66.0 146.0L63.0 132.0Z" fill="#965e7e" opacity="0.12"/>
</g>
<g fill="none" stroke-linecap="round">
<path stroke="#5a8a84" stroke-width="1.0" d="M87.8 11.5h0M96.8 10.3h0M92.9 15.5h0M82.9 18.7h0M80.3 15.9h0M90.3 20.0h0M82.6 16.6h0M94.8 23.0h0M95.7 13.0h0M99.7 11.2h0M83.3 10.7h0M89.4 20.2h0M87.6 17.5h0M95.5 15.7h0M93.1 10.6h0M81.3 11.7h0M95.6 14.7h0M89.3 16.6h0M89.4 13.6h0M98.6 19.7h0M86.9 21.2h0M92.8 19.8h0M96.1 15.0h0M91.0 19.8h0M85.9 17.7h0M82.8 19.1h0M98.6 18.8h0M99.3 12.3h0M96.1 20.9h0M93.4 16.9h0M95.4 30.8h0M87.7 21.4h0M97.2 25.6h0M100.2 17.3h0M89.4 20.0h0M83.2 16.6h0M82.4 10.8h0M85.1 16.4h0M90.3 23.8h0M82.5 17.0h0M92.8 25.1h0M101.7 23.7h0M90.3 18.4h0M90.5 23.3h0M81.4 16.4h0M85.9 18.5h0M95.0 13.7h0M81.3 19.5h0M89.6 20.4h0M99.4 23.4h0M95.0 14.3h0M105.6 20.4h0M102.7 23.3h0M90.3 13.6h0M87.4 20.8h0M85.0 12.0h0M88.9 5.8h0M83.4 14.1h0M94.2 12.1h0M88.2 18.1h0M90.3 14.3h0M89.7 17.9h0M90.4 14.2h0M93.2 12.6h0M95.0 24.0h0M98.6 21.8h0M87.2 15.7h0M86.3 22.0h0M91.1 20.1h0M88.8 13.9h0M96.4 23.9h0M99.4 21.4h0M86.0 14.7h0M89.4 9.5h0M85.1 12.5h0M90.4 20.2h0M103.1 18.1h0M104.3 14.3h0M86.8 11.2h0M88.7 13.1h0M97.0 23.3h0M100.4 18.0h0M95.5 21.9h0M81.8 19.9h0M101.4 24.3h0M97.2 18.7h0M80.6 15.9h0M89.1 23.7h0M89.5 21.8h0M95.0 11.9h0M84.6 13.8h0M85.2 24.1h0M100.6 21.3h0M90.1 16.0h0M103.5 23.9h0M93.5 23.9h0M91.2 22.6h0M96.8 12.7h0M85.4 15.1h0M89.5 22.2h0M88.3 16.0h0M90.8 17.3h0M99.1 20.0h0M94.1 23.1h0M94.8 17.1h0M90.5 10.9h0M85.2 17.8h0M97.0 19.8h0M96.2 25.1h0M91.9 24.5h0M83.8 18.7h0M84.9 16.1h0M96.1 20.0h0M91.5 23.4h0M101.5 16.6h0M95.9 17.0h0M93.9 20.0h0M93.5 17.5h0M91.8 23.7h0M99.2 24.0h0M87.4 17.9h0M84.7 18.2h0M87.3 12.0h0M82.0 21.1h0M101.4 30.8h0M86.4 18.9h0M95.2 12.6h0M90.5 16.7h0M85.4 15.2h0M94.7 15.2h0M89.2 14.0h0M93.5 18.2h0M80.0 14.7h0M95.3 19.3h0M83.1 11.3h0M87.3 10.5h0M90.3 26.4h0M99.1 12.4h0M94.0 21.8h0M93.3 14.6h0M97.1 22.5h0M92.3 12.7h0M97.2 27.5h0M89.4 8.4h0M92.9 13.8h0M86.3 11.4h0M77.5 18.2h0M88.4 16.8h0M102.2 17.3h0M92.8 13.4h0M89.6 10.4h0M96.8 17.5h0M84.9 19.1h0M98.8 17.3h0M91.9 23.0h0M88.8 18.8h0M97.2 26.2h0M88.2 23.8h0M98.1 19.4h0M89.5 16.1h0M87.3 21.5h0M87.2 10.8h0M101.6 19.5h0M85.3 14.8h0M88.3 17.0h0M83.2 14.0h0M86.5 24.3h0M103.2 19.3h0M89.1 14.7h0M83.3 11.8h0"/>
<path stroke="#3f6a66" stroke-width="1.0" d="M83.5 3.9h0M83.8 3.4h0M86.9 5.1h0M85.4 4.5h0M83.3 5.7h0M84.6 5.3h0M88.0 9.6h0M85.5 3.2h0M82.7 8.9h0M88.6 0.9h0M85.1 5.6h0M74.7 7.5h0"/>
<path stroke="#2a5a52" stroke-width="1.0" d="M51.8 62.5h0M62.8 61.7h0M58.0 66.7h0M54.2 60.0h0M55.6 62.9h0M53.7 71.4h0M61.9 76.8h0M54.0 68.5h0M55.7 63.5h0M60.6 61.4h0M64.2 63.5h0M56.8 65.0h0M54.5 68.0h0M53.6 65.2h0M61.2 62.1h0M59.2 68.7h0M58.0 60.2h0M60.6 62.9h0M61.9 70.4h0M58.2 63.6h0M58.2 62.4h0M59.5 65.9h0M55.5 59.8h0M56.8 66.7h0M61.9 61.1h0M57.6 61.6h0M53.5 69.9h0M53.2 64.6h0M56.5 61.3h0M58.3 64.5h0M58.1 66.8h0M56.2 67.2h0M51.2 65.2h0M55.5 62.8h0M53.3 70.3h0M54.8 64.5h0M58.8 68.1h0M60.4 61.7h0M61.7 65.7h0M59.3 65.9h0"/>
<path stroke="#9fd8ae" stroke-width="1.0" d="M105.5 18.4h0M107.6 21.1h0M101.1 20.7h0M104.2 23.7h0M109.5 18.8h0M106.7 17.1h0M106.7 20.9h0M105.2 11.2h0M109.5 14.3h0M105.4 24.9h0M102.3 20.4h0M107.1 21.0h0M108.3 21.4h0M104.3 14.9h0M107.8 19.5h0M99.8 19.2h0M109.7 20.0h0M105.1 18.5h0M102.4 16.9h0M107.6 22.4h0M103.2 17.7h0M109.3 22.3h0M105.7 15.9h0M109.2 20.0h0M104.0 20.9h0"/>
<path stroke="#2f5e56" stroke-width="1.0" d="M86.3 31.1h0M89.7 29.1h0M77.4 27.3h0M92.1 28.8h0M88.4 32.8h0M79.4 26.4h0M90.0 38.5h0M84.9 30.6h0M87.1 26.3h0M92.2 31.4h0M83.6 31.2h0M89.7 32.6h0M80.7 30.8h0M82.8 34.5h0M83.2 30.4h0M83.0 34.0h0M87.4 26.3h0M77.4 25.3h0M84.5 28.9h0M88.1 36.7h0M83.5 38.2h0M92.3 26.8h0M88.3 30.9h0M92.7 32.6h0M81.2 27.1h0M78.2 28.6h0M94.5 31.3h0M91.9 28.5h0M92.8 32.9h0M88.2 36.0h0M95.9 36.1h0M92.3 28.4h0M88.5 32.7h0M88.8 30.3h0M98.1 37.1h0M84.3 28.0h0M80.0 30.9h0M79.2 29.1h0M80.0 30.2h0M85.1 31.0h0M90.3 41.8h0M86.7 34.7h0M90.9 29.4h0M84.2 38.5h0M77.7 34.3h0"/>
<path stroke="#7fca96" stroke-width="1.0" d="M107.1 40.5h0M105.6 50.4h0M101.5 53.5h0M103.3 46.7h0M110.3 36.3h0M107.7 55.8h0M106.9 31.3h0M111.8 56.4h0M104.4 45.6h0M109.6 30.9h0M108.2 56.4h0M104.0 49.1h0M108.8 57.6h0M110.7 31.5h0M107.3 44.0h0M110.7 56.5h0M115.5 55.8h0M106.8 30.8h0M114.6 53.3h0M109.3 58.7h0M113.0 53.3h0M100.6 56.5h0M114.8 29.3h0M110.0 45.6h0M111.7 29.0h0M100.7 49.5h0M112.1 38.2h0M99.8 52.1h0M112.8 28.2h0M108.0 56.0h0M112.4 42.1h0M105.5 42.7h0M99.6 26.2h0M100.1 52.1h0M103.6 41.0h0M104.8 41.6h0M111.2 33.6h0M99.4 44.8h0M112.7 23.4h0M109.8 30.4h0M117.2 40.5h0M108.1 28.8h0M111.8 37.4h0M101.4 24.2h0M108.9 57.1h0M104.2 55.6h0M109.1 33.1h0M101.3 41.5h0M109.3 61.5h0M109.5 35.5h0M105.1 24.8h0M101.6 32.3h0M112.1 52.1h0M107.9 28.9h0M105.9 52.6h0M98.7 32.6h0M104.6 27.2h0M108.1 19.7h0M109.7 27.8h0M102.1 58.6h0M98.7 33.9h0M98.6 59.4h0M111.7 46.9h0M107.6 31.5h0M111.2 38.1h0M109.8 23.0h0M111.8 41.3h0M97.0 56.1h0M102.0 34.6h0M99.1 28.2h0M113.0 32.0h0M102.6 40.9h0M105.2 59.1h0M111.8 28.1h0M105.6 30.6h0M100.2 27.9h0M102.2 23.3h0M109.9 32.5h0M113.5 32.9h0M112.4 42.2h0M96.0 35.5h0M115.5 28.0h0M110.4 16.6h0M100.6 52.4h0M109.3 27.8h0M107.3 39.1h0M103.2 30.3h0M109.9 49.6h0M110.8 44.7h0M110.5 38.6h0M110.0 17.8h0M109.0 33.7h0M113.4 55.7h0M114.0 38.6h0M118.4 32.1h0M102.2 53.7h0M101.7 25.2h0M103.8 45.2h0M99.1 43.5h0M106.0 41.1h0M100.8 49.0h0M112.4 59.3h0M103.4 49.7h0M107.0 51.8h0M115.3 41.7h0M105.9 41.0h0M98.3 60.8h0M111.6 22.6h0M98.8 44.7h0M108.3 42.9h0M108.0 23.1h0M113.2 48.9h0M108.8 42.4h0M109.2 22.2h0M106.8 57.9h0M100.4 42.9h0M112.5 23.7h0M105.1 36.9h0M115.2 39.3h0M104.9 59.2h0M113.1 32.6h0M100.9 31.7h0M104.2 61.5h0M113.6 57.7h0M99.8 41.6h0M99.2 35.7h0M108.6 34.1h0M108.9 22.3h0M104.0 39.6h0M114.3 45.1h0M113.6 56.4h0M110.4 28.5h0M112.5 31.7h0M105.4 58.7h0M107.9 29.2h0M105.5 37.0h0M114.2 31.2h0M103.0 49.5h0M99.5 44.0h0M108.1 41.1h0M101.7 37.5h0M107.8 25.5h0M101.2 37.0h0M103.0 28.3h0M98.9 44.0h0M112.8 44.3h0M104.4 44.1h0M99.1 47.7h0M104.3 44.4h0M108.8 38.5h0M99.4 30.8h0M101.3 43.0h0M105.1 44.9h0M113.7 29.5h0M112.7 38.8h0M100.9 52.2h0M115.7 36.0h0M98.8 37.1h0M105.5 49.7h0M98.6 28.6h0M96.8 27.0h0M105.4 44.6h0M108.5 47.8h0M111.3 39.9h0M111.7 47.7h0M113.2 38.5h0M119.8 56.2h0M111.5 46.6h0M107.0 61.9h0M104.6 36.5h0M111.5 55.0h0M109.2 32.5h0M107.5 34.5h0M109.1 28.6h0M102.1 40.8h0M106.0 32.2h0M114.1 57.1h0M105.2 36.5h0M100.8 32.7h0M98.8 42.5h0M107.7 24.2h0M113.0 29.9h0M112.8 54.5h0M105.6 59.2h0M105.9 42.1h0M108.0 46.6h0M103.1 40.8h0M111.0 35.1h0M104.8 45.7h0M105.3 62.9h0M110.3 40.0h0M100.4 35.6h0M100.7 42.4h0M112.6 53.0h0M114.2 38.3h0M101.6 50.0h0M114.6 34.4h0M108.5 52.9h0M100.8 31.9h0M106.0 21.1h0M114.0 45.2h0M113.9 36.1h0M102.4 33.6h0M110.0 44.4h0M102.0 26.5h0M108.2 43.6h0M108.6 21.7h0M107.0 52.4h0M102.2 47.1h0M111.5 37.9h0M110.7 28.3h0M106.8 41.0h0M99.0 46.2h0M107.0 61.0h0M109.1 36.5h0M115.2 21.9h0M105.6 57.6h0M108.0 54.9h0M111.5 33.7h0M111.7 33.3h0M101.6 28.8h0M97.2 55.8h0M109.5 35.4h0M103.5 34.2h0M107.8 61.6h0M102.1 44.7h0M102.8 60.1h0M113.4 29.6h0M109.5 59.8h0M108.1 60.6h0M100.9 33.8h0M111.6 28.6h0M105.0 56.1h0M106.4 51.4h0M101.5 22.0h0M104.3 24.9h0M116.7 29.5h0M106.1 20.2h0M106.8 35.4h0M96.4 54.3h0M102.3 28.1h0M100.2 33.3h0M110.1 32.3h0M100.0 47.3h0M104.1 26.0h0M111.0 21.1h0M104.8 52.6h0M112.2 25.6h0M104.2 48.7h0M104.3 60.8h0M103.6 59.4h0M106.4 27.4h0M105.5 23.9h0M111.2 30.4h0M112.3 44.5h0M106.7 29.5h0M108.9 29.4h0M112.6 25.1h0M107.0 40.9h0M102.8 50.2h0M104.4 46.6h0M107.3 31.9h0M104.1 19.8h0M98.4 55.3h0M106.4 43.5h0M100.4 42.4h0M108.0 42.0h0M100.7 28.6h0M98.1 49.9h0M101.4 36.4h0M114.1 50.3h0M114.5 58.1h0M99.3 32.1h0M100.0 47.5h0M115.2 30.4h0M105.8 47.4h0M111.9 27.1h0M113.0 34.9h0M105.8 22.6h0M100.1 58.4h0M113.1 47.7h0M100.6 27.1h0M103.0 33.1h0M103.8 27.9h0M109.5 25.2h0M111.3 42.4h0M110.6 29.5h0M102.9 38.8h0M106.9 54.7h0M114.3 42.1h0M100.2 52.9h0M100.8 58.4h0M111.6 20.2h0M111.6 34.1h0M110.3 56.3h0M109.3 37.2h0M114.8 51.7h0M112.6 55.7h0M109.4 39.5h0M96.5 46.9h0M107.3 41.5h0M110.0 20.2h0M110.1 52.4h0M101.4 40.5h0M117.1 45.0h0M107.7 33.4h0M96.1 35.4h0M103.2 25.0h0M106.3 26.3h0M110.9 47.6h0M102.5 28.2h0M108.7 36.7h0M114.6 35.8h0M102.7 56.2h0M99.1 40.3h0M104.3 55.4h0M108.1 48.4h0M108.0 47.4h0M109.1 36.7h0M109.3 53.1h0M101.0 31.4h0M103.7 27.2h0M100.9 30.8h0M100.0 49.1h0M105.9 24.5h0M105.0 38.3h0M105.9 26.7h0M99.0 49.0h0M114.8 45.2h0M95.8 36.9h0M105.8 26.4h0M113.8 44.5h0M107.5 59.6h0M107.4 26.4h0M113.9 27.9h0M100.5 45.7h0M101.1 51.2h0M116.9 59.3h0M102.9 25.0h0M111.9 33.2h0M100.1 43.7h0M106.3 53.5h0M110.3 45.6h0M112.6 50.6h0M106.8 43.1h0M96.7 37.2h0M110.1 19.8h0M112.3 26.9h0M104.4 59.6h0M106.2 26.2h0M111.9 54.1h0M104.5 41.6h0M103.0 47.0h0M106.0 39.7h0M103.3 39.7h0M111.6 58.2h0M113.3 22.9h0M102.6 38.7h0M107.3 32.4h0M105.3 37.8h0M114.1 43.6h0M112.2 21.2h0M111.3 44.9h0M104.0 44.3h0M113.9 36.2h0M109.6 31.8h0M101.6 58.2h0M109.8 37.0h0M94.5 53.4h0M104.6 42.6h0M106.9 35.7h0M108.7 35.5h0M117.1 47.0h0M98.6 55.1h0M110.6 31.5h0M105.2 40.8h0M101.5 43.3h0M106.2 48.1h0M108.0 20.7h0M105.3 57.4h0M108.3 50.2h0M111.1 24.5h0M99.1 55.5h0M103.4 26.5h0M112.3 43.3h0M110.3 21.6h0M113.3 20.8h0M99.2 35.0h0M98.6 45.3h0M101.2 32.8h0M111.7 37.3h0M115.6 44.6h0M114.0 45.2h0M102.8 48.0h0M110.9 57.7h0M110.0 55.2h0M99.7 36.0h0M112.2 19.1h0M109.9 23.1h0M108.0 55.5h0M102.3 61.7h0M109.9 29.4h0M100.3 37.6h0M112.8 41.7h0M97.1 53.2h0M102.2 44.5h0M102.0 40.4h0M105.0 23.8h0M111.0 39.8h0M110.2 54.0h0M104.1 25.4h0M103.5 54.6h0M100.4 53.8h0M110.4 39.8h0M107.7 24.4h0M111.0 33.4h0M115.3 50.5h0M99.0 36.3h0M100.0 58.1h0M109.6 20.1h0M100.2 33.9h0M105.8 45.0h0M104.2 32.8h0M99.9 46.1h0M106.9 62.8h0M110.1 29.7h0M103.2 41.7h0M99.3 44.7h0M109.4 57.2h0M109.1 51.4h0M114.2 51.7h0M108.7 47.1h0M106.8 27.4h0M113.7 54.2h0M114.1 47.9h0M101.7 49.9h0M114.1 38.1h0M111.9 34.9h0M108.4 38.0h0M98.3 34.3h0M105.9 33.6h0M100.4 27.1h0M103.7 23.8h0M104.6 35.5h0M109.4 34.7h0M102.9 33.2h0M111.9 46.2h0M117.2 31.3h0M113.1 45.4h0M104.5 52.8h0M105.1 56.6h0M97.0 40.2h0M111.0 28.4h0M98.7 31.6h0M111.2 29.1h0M104.2 26.0h0M110.9 55.4h0M108.0 25.0h0M109.4 21.3h0M112.0 57.6h0M101.1 22.3h0M98.3 40.2h0M111.3 45.6h0M114.7 27.4h0M103.2 50.8h0M109.1 38.2h0M111.9 33.1h0M100.3 35.8h0M96.6 45.4h0M102.2 39.9h0M109.1 29.8h0M112.9 41.2h0M109.3 47.5h0M110.6 22.0h0M111.3 36.1h0M106.7 42.5h0M107.9 49.6h0M110.1 33.7h0M110.4 26.7h0M110.6 52.2h0M111.0 31.3h0M105.0 29.9h0M107.0 60.6h0M103.7 46.3h0M111.5 32.9h0M109.9 20.2h0M99.0 39.5h0M106.9 25.0h0M115.2 36.6h0M110.2 54.8h0M111.3 29.9h0M117.6 40.7h0M110.8 33.7h0M115.0 37.0h0M103.4 58.5h0M97.6 50.1h0M95.7 45.9h0M106.0 56.7h0M98.1 45.1h0M104.1 60.0h0M115.1 44.2h0M104.4 27.5h0M103.3 38.1h0M101.3 27.3h0M113.2 45.1h0M100.2 42.2h0M100.0 53.4h0M114.8 30.5h0M111.8 54.1h0M102.5 31.8h0M107.0 57.6h0M100.5 47.3h0M108.5 36.4h0M108.8 57.6h0M103.3 59.0h0M106.4 50.3h0M115.4 25.5h0M97.5 50.9h0M110.6 22.7h0M109.2 63.0h0"/>
<path stroke="#1e4c45" stroke-width="1.0" d="M71.5 42.6h0M64.2 48.8h0M99.4 38.7h0M93.4 44.4h0M64.7 56.8h0M70.7 39.2h0M75.1 56.5h0M94.4 49.0h0M85.0 59.3h0M100.0 44.8h0M94.7 59.6h0M66.3 43.8h0M69.2 52.2h0M64.2 66.1h0M75.4 51.6h0M94.2 58.3h0M69.3 58.4h0M86.8 54.3h0M91.6 40.3h0M85.5 47.0h0M89.6 40.2h0M80.7 45.9h0M92.3 46.7h0M94.3 60.1h0M94.0 42.0h0M92.7 58.5h0M84.8 54.6h0M79.4 45.7h0M71.0 56.4h0M89.5 60.7h0M66.3 46.5h0M91.9 40.5h0M85.7 43.7h0M71.5 48.5h0M69.9 56.2h0M92.0 48.7h0M90.6 57.7h0M68.0 61.5h0M79.6 40.3h0M81.5 55.0h0M78.1 50.8h0M72.9 60.3h0M92.5 36.5h0M73.0 45.6h0M92.1 48.5h0M58.8 51.9h0M75.8 54.1h0M79.6 60.6h0M89.3 46.2h0M66.3 55.5h0M91.4 45.7h0M72.4 44.8h0M84.3 58.3h0M67.1 44.9h0M66.8 57.2h0M63.9 52.0h0M79.9 53.3h0M98.0 51.7h0M88.8 41.0h0M92.7 49.8h0M89.6 60.6h0M73.0 60.2h0M76.4 60.9h0M79.0 61.3h0M80.0 38.5h0M84.9 54.6h0M72.7 51.5h0M69.6 43.9h0M74.5 47.8h0M86.1 56.6h0M68.1 45.4h0M78.4 39.4h0M80.5 59.2h0M64.6 51.4h0M85.0 51.9h0M88.0 56.0h0M68.6 58.4h0M98.4 46.0h0M90.1 55.3h0M62.2 50.7h0M84.0 61.0h0M72.6 56.6h0M71.9 47.6h0M81.5 43.8h0M69.9 50.6h0M62.3 48.2h0M78.0 62.9h0M77.4 61.5h0M75.5 39.1h0M79.6 40.8h0M87.0 63.9h0M73.8 44.6h0M74.5 46.1h0M85.8 44.6h0M63.3 58.6h0M93.1 56.2h0M70.7 52.9h0M98.7 45.6h0M74.5 42.2h0M83.8 52.7h0M87.2 62.8h0M60.2 47.2h0M93.4 56.3h0M82.7 53.6h0M72.3 62.5h0M80.6 47.9h0M93.5 58.0h0M77.5 47.0h0M74.6 58.9h0M70.4 50.6h0M97.6 51.9h0M79.8 43.6h0M72.9 51.4h0M90.7 41.8h0M72.1 45.6h0M68.4 62.6h0M79.5 43.0h0M71.6 58.8h0M64.9 57.0h0M57.4 55.7h0M88.3 57.9h0M81.4 60.3h0M76.6 40.8h0M90.5 57.5h0M94.4 56.1h0M82.5 59.9h0M89.8 55.2h0M65.1 50.1h0M84.6 60.8h0M75.5 63.4h0M75.8 45.0h0M67.0 44.1h0M86.0 40.8h0M69.9 52.1h0M68.9 47.0h0M74.8 55.0h0M84.6 48.5h0M91.7 50.7h0M74.5 47.3h0M96.2 51.3h0M72.9 51.9h0M91.8 48.6h0M75.4 55.2h0M85.1 55.8h0M74.9 61.9h0M86.4 39.1h0M72.2 41.6h0M96.1 58.8h0M92.2 60.4h0M70.3 57.6h0M66.8 50.9h0M58.9 58.8h0M77.7 44.1h0M95.5 39.0h0M99.4 57.2h0M64.9 54.9h0M81.1 59.2h0M82.2 49.4h0M96.3 37.5h0M90.9 36.4h0M95.6 49.8h0M87.1 40.5h0M88.0 51.7h0M63.0 48.3h0M85.8 40.9h0M83.8 43.2h0M71.2 61.6h0M74.0 52.6h0M88.2 59.4h0M78.5 59.6h0M71.9 62.3h0M76.9 39.5h0M91.5 38.7h0M98.3 51.1h0M89.6 37.0h0M82.9 43.6h0M66.6 58.7h0M62.6 56.7h0M90.9 34.5h0M75.7 48.9h0M87.1 55.1h0M70.6 59.7h0M96.3 37.0h0M63.5 48.7h0M73.3 39.4h0M96.2 50.2h0M89.3 44.2h0M96.3 44.1h0M98.5 51.3h0M82.9 49.9h0M91.4 46.5h0M91.6 54.6h0M88.9 43.4h0M77.9 57.2h0M62.7 53.8h0M80.9 47.9h0M77.5 48.8h0M69.0 46.7h0M78.3 58.1h0M80.3 40.6h0M95.5 45.0h0M62.8 62.8h0M97.0 45.1h0M82.1 46.8h0M82.9 49.6h0M97.1 55.4h0M71.4 59.9h0M83.2 49.1h0M93.2 55.1h0M70.9 51.9h0M69.3 63.3h0M80.9 39.0h0M80.0 37.7h0M93.0 54.3h0M83.0 60.5h0M97.7 54.8h0M97.8 40.8h0M75.6 60.2h0M83.4 59.7h0M65.5 57.7h0M69.1 62.3h0M74.9 40.0h0M97.5 47.6h0M91.6 39.3h0M62.3 57.6h0M72.3 56.3h0M97.7 51.3h0M85.0 39.8h0M87.6 52.7h0M69.8 59.5h0M80.6 57.9h0M65.0 49.7h0M79.0 49.6h0M73.5 53.5h0M76.5 43.8h0M88.1 43.0h0M91.3 43.2h0M60.2 49.3h0M71.5 44.5h0M89.3 41.4h0M87.9 57.3h0M76.5 44.7h0M95.1 52.0h0M63.2 55.3h0M73.2 45.4h0M77.8 58.7h0M70.8 43.9h0M95.4 52.8h0M74.5 41.2h0M89.9 54.2h0M62.8 54.5h0M60.5 48.7h0M85.7 57.0h0M77.1 40.1h0M87.1 45.9h0M85.6 39.0h0M73.4 48.5h0M69.3 42.6h0M84.6 41.8h0M75.6 55.9h0M73.4 38.1h0M60.4 50.5h0M61.4 52.2h0M75.0 40.7h0M82.0 48.8h0M89.6 44.9h0M79.4 39.2h0M76.5 41.7h0M86.2 53.5h0M79.5 58.3h0M59.5 53.6h0M99.2 39.4h0M78.6 55.7h0M70.4 56.8h0M69.0 58.7h0M69.4 62.6h0M59.6 55.0h0M92.7 53.4h0M66.2 55.2h0M86.4 41.0h0M76.7 53.6h0M72.1 59.1h0M98.4 45.2h0M98.0 57.0h0M93.8 54.7h0M97.6 53.9h0M96.1 53.4h0M64.2 49.3h0M76.4 42.9h0M71.5 50.1h0M79.7 42.4h0M70.6 47.2h0M80.0 43.1h0M84.6 43.4h0M79.7 43.7h0M88.2 56.6h0M90.6 48.8h0M65.8 64.0h0M80.4 45.7h0M70.9 47.6h0M90.3 57.7h0M73.4 59.7h0M67.0 47.9h0M73.1 43.9h0M70.8 57.9h0M95.5 38.9h0M66.9 56.9h0M85.6 53.9h0M82.7 54.2h0M97.0 49.6h0M90.7 64.8h0M91.2 42.7h0M91.8 51.7h0M80.8 45.3h0M68.1 50.9h0M86.2 54.3h0M91.0 60.5h0M76.4 50.2h0M68.3 61.9h0M70.2 60.1h0M91.1 46.0h0M93.4 60.1h0M75.7 42.0h0M91.5 43.7h0M64.5 60.5h0M75.3 47.0h0M82.2 44.9h0M73.0 58.1h0M71.8 55.0h0M84.6 41.0h0M81.8 44.1h0M65.0 57.8h0M95.5 42.9h0M78.4 52.5h0M70.6 51.2h0M83.7 51.3h0M68.4 47.5h0M71.0 59.4h0M65.3 59.6h0M72.3 51.7h0M90.8 60.0h0M68.3 59.3h0M69.8 68.6h0M64.8 50.4h0M87.2 62.3h0M79.4 48.1h0M88.2 36.3h0M68.5 56.3h0M75.2 63.0h0M60.1 47.7h0M63.8 52.9h0M77.0 42.5h0M86.5 49.8h0M96.9 43.4h0M79.7 49.6h0M72.9 58.6h0M64.4 60.9h0M67.8 46.8h0M88.5 48.0h0M97.4 46.3h0M60.8 51.9h0M79.0 48.2h0M72.2 59.0h0M75.0 49.0h0M97.3 45.4h0M75.7 41.9h0M85.5 51.4h0M76.4 47.0h0M67.6 55.7h0M76.7 57.9h0M77.0 55.9h0M97.7 51.7h0M88.0 49.2h0M78.5 41.0h0M64.5 54.7h0M86.7 42.9h0M87.7 43.4h0M82.2 38.9h0M77.6 45.8h0M79.2 36.6h0M78.7 50.6h0M61.0 45.4h0M86.6 51.5h0M85.2 57.8h0M80.2 41.3h0M76.5 56.6h0M79.4 55.7h0M74.1 50.5h0M85.3 38.5h0M87.1 43.2h0M90.9 40.4h0M86.7 47.4h0M75.8 57.0h0M88.6 50.1h0M94.0 42.2h0M94.9 45.4h0M84.4 39.3h0M63.7 44.0h0M68.8 62.2h0M94.2 60.5h0M99.9 45.8h0M91.5 43.6h0M93.3 58.6h0M88.3 41.7h0M79.5 52.3h0M91.6 38.4h0M85.3 47.5h0M92.9 48.6h0M70.1 55.2h0M92.6 43.9h0M88.0 44.6h0M94.5 48.3h0M76.4 48.5h0M87.8 60.1h0M72.3 42.4h0M70.2 54.1h0M86.2 45.0h0M78.1 40.0h0M95.9 49.2h0M79.9 55.8h0M65.7 57.5h0M72.5 58.0h0M83.2 48.7h0M73.0 53.6h0M64.2 50.9h0M66.0 59.3h0M82.8 52.0h0M82.9 37.3h0M96.3 42.6h0M91.8 56.6h0M85.7 57.0h0M73.8 54.3h0M96.3 36.6h0M62.2 44.1h0M74.8 40.1h0M66.1 59.7h0M72.0 39.8h0M64.1 51.6h0M63.7 49.3h0M78.1 47.6h0M80.1 58.8h0M88.5 55.0h0M79.5 40.1h0M90.6 44.3h0M86.5 43.3h0M82.6 53.2h0M74.7 48.5h0M60.4 52.2h0M87.8 39.7h0M82.4 56.8h0M60.5 57.7h0M91.4 39.7h0M78.1 45.9h0M70.3 48.4h0M72.8 56.7h0M87.8 36.8h0M88.6 59.2h0M99.5 40.1h0M71.2 61.6h0M73.0 44.4h0M79.9 46.5h0M78.0 60.5h0M92.8 49.6h0M63.7 42.3h0M96.8 44.2h0M87.6 52.1h0M76.4 52.3h0M65.8 50.2h0M94.8 40.0h0M71.5 62.4h0M93.6 47.6h0M91.2 49.7h0M62.4 40.9h0M83.0 55.5h0M63.8 53.9h0M82.0 53.5h0M69.9 56.4h0M84.6 43.3h0M87.2 45.8h0M80.7 57.1h0M62.4 56.0h0M73.9 40.6h0M75.4 49.9h0M80.6 45.2h0M96.3 48.8h0M75.8 42.6h0M97.5 46.8h0M92.0 56.9h0M74.2 53.9h0M95.7 41.4h0M75.7 57.4h0M76.7 45.4h0M71.0 51.4h0M75.4 63.7h0M70.6 48.7h0M86.7 37.6h0M93.9 37.3h0M70.5 56.0h0M62.9 49.1h0M79.3 37.9h0M93.4 46.8h0M64.9 41.3h0M90.5 38.1h0M86.5 36.7h0M95.9 48.6h0M83.9 59.5h0M83.9 50.2h0M86.4 42.6h0M76.0 40.9h0M75.5 41.8h0M81.5 46.9h0M71.3 52.2h0M60.4 57.4h0M76.3 38.9h0M61.5 48.9h0M78.7 53.2h0M73.5 47.8h0M96.6 43.8h0M69.5 57.1h0M78.0 42.4h0M95.5 54.3h0M92.4 51.1h0M59.1 58.1h0M85.2 40.1h0M78.7 55.7h0M60.0 52.4h0M58.7 49.7h0M85.0 54.8h0M95.0 45.9h0M77.5 44.7h0M86.5 55.4h0M84.8 45.6h0M82.5 48.2h0M100.5 49.3h0M86.2 37.0h0M87.4 54.9h0M94.9 44.6h0M88.9 47.0h0M70.3 44.4h0M81.5 56.3h0M94.5 55.2h0M82.7 41.5h0M59.9 55.5h0M66.0 57.3h0M68.7 60.1h0M70.7 44.7h0M76.4 46.7h0M96.6 49.0h0M62.7 56.1h0M81.7 48.4h0M66.1 42.6h0M96.8 45.9h0M63.1 59.8h0M86.7 52.8h0M78.6 58.0h0M64.9 50.8h0M71.4 46.7h0M66.6 57.6h0M81.8 55.0h0M83.3 51.0h0M93.3 57.3h0M80.8 46.3h0M98.7 47.4h0M59.4 45.1h0M90.1 62.7h0M82.4 53.5h0M96.7 59.2h0M78.7 47.2h0M88.1 49.3h0M61.2 53.2h0M93.4 42.0h0M85.1 63.5h0M79.4 42.6h0M77.8 56.8h0M81.7 41.6h0M100.0 38.4h0M62.8 48.4h0M74.0 61.3h0M75.5 58.1h0M90.7 51.7h0M68.8 45.0h0M79.0 48.8h0M87.4 43.4h0M69.5 47.5h0M99.6 39.5h0M75.4 59.8h0M88.0 60.1h0M92.7 51.8h0M72.8 43.6h0M77.3 49.2h0M72.1 45.8h0M57.6 56.7h0M88.9 51.9h0M62.9 53.6h0M88.4 37.5h0M99.3 60.3h0M68.1 60.2h0M89.5 61.4h0M66.1 52.3h0M72.2 47.6h0M90.2 54.0h0M70.9 50.2h0M93.7 53.9h0M94.2 51.8h0M75.9 53.1h0M87.2 61.0h0M80.9 48.1h0M83.1 50.7h0M87.2 62.3h0M93.1 36.4h0M90.5 39.8h0M85.6 59.4h0M67.0 49.0h0M64.7 55.9h0M78.6 52.6h0M72.0 51.4h0M99.2 44.0h0M76.0 49.2h0M71.5 58.7h0M63.7 49.4h0"/>
<path stroke="#5a7fa0" stroke-width="1.0" d="M70.7 66.0h0M62.6 64.0h0M60.3 61.3h0M64.2 62.6h0M67.4 69.4h0M58.8 67.5h0M55.8 69.2h0M60.1 73.9h0M61.7 64.3h0M63.1 71.4h0M56.1 62.6h0M56.2 72.3h0M55.5 67.9h0M67.0 64.5h0M56.6 65.4h0M73.7 64.4h0M64.9 65.9h0M62.4 60.4h0M70.6 66.9h0M61.6 62.5h0M70.1 64.1h0M65.3 66.1h0M67.5 64.3h0M55.2 60.9h0M67.6 69.5h0M72.0 66.3h0M54.6 65.5h0M57.5 65.9h0M55.6 67.3h0M63.8 68.1h0M73.4 62.8h0M69.9 61.2h0M69.4 67.1h0M58.8 71.9h0M61.4 72.0h0M68.3 71.1h0M68.5 65.7h0M57.4 69.7h0M68.3 69.4h0M53.2 59.7h0"/>
<path stroke="#3d87c8" stroke-width="1.0" d="M43.8 77.3h0M47.2 70.4h0M62.9 79.1h0M67.0 87.8h0M65.1 71.1h0M65.6 85.0h0M58.4 74.6h0M62.4 81.5h0M62.3 88.5h0M43.3 77.9h0M58.7 85.1h0M59.4 80.3h0M53.7 83.9h0M64.1 69.8h0M55.1 76.7h0M57.7 76.4h0M45.7 75.3h0M67.3 81.8h0M45.2 89.0h0M60.8 72.5h0M53.6 86.6h0M60.4 77.1h0M68.5 91.6h0M42.3 93.8h0M64.8 77.3h0M63.1 93.9h0M68.3 78.9h0M64.5 89.3h0M52.5 96.7h0M63.8 83.8h0M51.1 83.1h0M60.2 72.4h0M46.4 95.2h0M69.4 85.9h0M61.5 84.5h0M57.5 91.7h0M51.4 69.4h0M46.9 94.7h0M37.5 94.1h0M46.8 97.9h0M54.0 84.0h0M69.4 85.4h0M58.4 69.1h0M41.4 95.2h0M46.6 99.0h0M60.7 77.4h0M62.3 78.5h0M57.2 69.6h0M55.3 91.7h0M48.5 74.4h0M49.9 94.0h0M57.0 73.0h0M46.3 82.9h0M52.5 71.5h0M65.8 93.9h0M47.3 84.7h0M54.3 101.9h0M47.5 97.9h0M46.9 83.7h0M45.7 91.2h0M65.7 90.9h0M63.6 83.9h0M68.1 74.0h0M58.4 95.0h0M64.0 87.4h0M40.4 84.2h0M49.2 89.0h0M54.0 82.0h0M57.1 85.7h0M70.4 78.6h0M46.1 73.4h0M43.1 94.6h0M52.7 96.3h0M76.0 78.0h0M53.3 69.6h0M46.9 82.6h0M61.9 77.0h0M42.4 81.6h0M40.1 94.7h0M61.7 75.1h0M66.4 72.3h0M45.4 95.5h0M47.3 88.6h0M42.5 90.0h0M60.9 74.9h0M51.1 74.8h0M68.9 89.6h0M62.1 86.8h0M65.4 84.1h0M59.4 84.1h0M62.9 84.4h0M45.0 86.3h0M55.4 94.0h0M61.8 76.0h0M55.2 87.3h0M56.0 83.0h0M56.0 90.7h0M70.9 85.8h0M67.6 89.5h0M47.8 81.3h0M52.4 78.7h0M50.6 85.9h0M48.8 96.3h0M69.4 77.2h0M42.3 93.7h0M53.1 79.4h0M53.7 93.9h0M61.9 73.0h0M45.8 78.0h0M43.4 85.5h0M42.7 89.8h0M51.0 75.5h0M61.1 77.7h0M49.2 78.8h0M61.9 75.8h0M58.5 70.3h0M46.3 79.7h0M57.0 70.4h0M65.8 90.0h0M47.3 75.8h0M43.6 84.0h0M44.3 98.6h0M65.5 78.7h0M44.8 81.1h0M65.1 70.9h0M64.9 86.1h0M62.9 81.9h0M59.2 88.4h0M61.4 76.8h0M48.9 72.5h0M67.7 91.1h0M41.9 91.1h0M47.1 94.7h0M64.1 92.2h0M60.5 88.1h0M67.5 80.5h0M55.2 87.8h0M68.7 90.0h0M55.7 91.2h0M55.3 69.4h0M57.7 83.4h0M52.7 81.9h0M46.3 77.3h0M54.5 95.9h0M40.4 93.4h0M64.0 92.8h0M51.8 73.1h0M62.0 80.0h0M42.1 87.8h0M53.0 98.9h0M58.7 93.4h0M57.2 93.0h0M56.6 87.1h0M61.4 88.2h0M59.8 76.4h0M53.4 92.2h0M59.3 97.1h0M40.3 93.5h0M54.4 70.1h0M46.9 85.4h0M57.7 91.2h0M42.9 95.0h0M70.8 81.1h0M46.0 70.5h0M46.8 81.5h0M50.8 90.2h0M65.5 72.9h0M49.2 88.0h0M57.1 71.3h0M42.4 93.7h0M53.0 73.5h0M51.5 78.5h0M66.2 73.0h0M55.1 81.0h0M57.2 82.9h0M52.1 88.6h0M50.6 87.4h0M40.6 80.7h0M54.1 91.6h0M65.6 91.8h0M52.2 88.3h0M45.1 89.7h0M42.6 83.4h0M59.3 94.8h0M72.4 82.5h0M58.6 97.1h0M63.4 80.4h0M41.7 89.1h0M55.6 88.8h0M43.2 86.9h0M71.8 76.0h0M62.6 77.7h0M53.0 83.5h0M51.2 73.4h0M70.1 79.6h0M70.1 84.9h0M62.0 83.6h0M46.2 87.5h0M48.2 95.6h0M39.2 89.0h0M49.2 81.9h0M57.6 86.7h0M43.7 93.2h0M57.2 92.2h0M73.1 87.7h0M59.4 87.4h0M42.7 84.9h0M72.7 80.7h0M40.3 84.5h0M38.0 87.6h0M44.8 77.6h0M64.7 96.8h0M37.0 89.2h0M57.1 82.8h0M49.3 86.1h0M48.7 94.9h0M54.3 85.9h0M68.5 72.4h0M53.2 84.2h0M50.0 84.1h0M42.0 93.3h0M55.6 74.6h0M43.9 83.5h0M45.1 94.2h0M50.1 95.6h0M47.4 94.9h0M40.7 90.7h0M55.2 75.7h0M63.4 86.6h0M40.4 78.8h0M64.9 83.4h0M45.1 77.0h0M42.2 86.3h0M57.9 88.2h0M63.8 85.8h0M49.1 91.8h0M51.8 73.3h0M63.0 83.9h0M66.3 87.5h0M64.2 81.3h0M71.4 88.7h0M69.4 86.3h0M62.3 85.7h0M61.7 87.4h0M44.2 81.7h0M47.7 78.5h0M66.7 88.6h0M62.8 94.0h0M52.6 82.0h0M54.3 80.5h0M46.4 92.1h0M61.8 93.2h0M64.5 77.9h0M42.7 98.1h0M52.9 76.0h0M50.4 87.7h0M53.4 80.0h0M41.0 88.7h0M61.9 88.9h0M50.1 96.6h0M57.4 75.2h0M57.8 69.5h0M58.7 77.0h0M55.6 93.9h0M40.6 93.7h0M51.6 98.8h0M63.2 82.7h0M59.3 97.7h0M42.2 84.2h0M53.8 94.5h0M47.4 90.8h0M71.8 80.5h0M59.4 94.2h0M52.9 84.0h0M53.0 96.8h0M47.1 78.9h0M55.7 86.4h0M52.6 91.6h0M49.4 87.4h0M58.0 84.6h0M48.9 88.2h0M45.8 82.2h0M47.7 83.9h0M62.8 82.7h0M61.5 88.5h0M40.9 91.8h0M52.6 93.2h0M69.5 80.4h0M67.1 74.5h0M67.1 80.8h0M53.9 84.3h0M44.0 78.2h0M63.2 89.6h0M69.5 76.4h0M47.6 89.6h0M49.9 100.7h0M46.3 72.4h0M49.9 74.9h0M59.0 96.9h0M41.5 79.9h0M44.2 78.8h0M48.9 91.5h0M50.2 86.0h0M41.6 88.7h0M69.0 89.1h0M65.6 71.7h0M57.9 76.2h0M62.0 91.9h0M58.2 78.6h0M45.5 93.8h0M68.3 77.7h0M53.1 83.5h0M41.6 93.1h0M66.0 81.6h0M51.1 93.0h0M62.2 95.6h0M55.8 81.7h0M67.5 79.8h0M46.9 95.6h0M59.4 90.2h0M55.6 73.2h0M67.6 93.7h0M53.1 85.6h0M65.6 82.8h0M55.1 84.5h0M63.3 91.0h0M52.7 91.1h0M50.1 88.7h0M50.5 95.2h0M50.3 79.6h0M52.5 88.6h0M67.8 85.0h0M61.7 91.0h0M52.4 73.2h0M62.0 74.4h0M54.4 85.9h0M51.2 83.3h0M68.1 74.7h0M59.7 79.9h0M60.9 84.7h0M63.4 77.7h0M62.1 82.6h0M67.2 85.9h0M64.6 86.5h0M60.3 97.1h0M67.0 81.3h0M62.3 95.9h0M51.4 81.0h0M51.3 77.5h0M55.3 94.3h0M63.5 88.8h0M61.3 78.6h0M47.5 83.5h0M47.6 73.2h0M67.1 88.9h0M54.7 89.8h0M52.1 87.8h0M44.5 86.9h0M48.8 77.1h0M64.3 79.8h0M60.3 93.2h0M65.0 87.6h0M59.0 90.8h0M56.9 97.5h0M59.5 82.9h0M60.3 82.4h0M56.8 93.7h0M41.5 96.9h0M48.5 76.8h0M48.4 90.3h0M46.7 81.0h0M60.3 77.1h0M55.9 75.1h0M39.1 88.7h0M68.8 75.4h0M38.7 89.1h0M60.2 74.0h0M52.6 70.7h0M44.5 81.9h0M67.0 89.5h0M59.4 84.5h0M59.8 84.0h0M51.5 92.3h0M47.9 80.9h0M49.3 82.4h0M53.2 76.7h0M52.0 96.6h0M44.2 81.8h0M48.0 86.5h0M64.7 74.6h0M55.5 74.3h0M62.1 88.8h0M43.8 77.9h0M48.1 78.1h0M67.9 82.7h0M55.9 75.6h0M55.0 95.5h0M40.1 80.7h0M43.9 95.6h0M47.6 81.2h0M39.2 89.1h0M51.8 93.2h0M62.5 93.8h0M47.5 76.8h0M59.0 71.3h0M50.0 80.2h0M34.9 92.5h0M67.2 74.1h0M42.2 90.1h0M49.2 93.2h0M65.1 79.1h0M58.1 87.0h0M57.7 99.2h0M63.0 93.5h0M47.0 83.6h0M57.7 85.3h0M41.1 94.4h0M53.3 75.4h0M68.5 84.0h0M62.1 89.8h0M59.2 97.3h0M44.1 89.5h0M56.0 82.7h0M53.7 77.9h0M41.8 81.2h0M44.8 84.3h0M45.1 92.7h0M67.1 78.6h0M41.6 89.6h0M62.8 83.8h0M55.2 87.1h0M65.6 78.4h0M68.4 77.9h0M49.7 98.7h0M62.6 83.8h0M39.4 80.5h0M47.7 98.9h0M66.4 86.5h0M47.9 92.7h0M63.3 96.4h0M70.4 81.6h0M58.9 90.1h0M60.9 93.4h0M41.6 87.0h0M39.8 96.6h0M62.6 81.9h0M41.8 73.9h0M56.7 93.2h0M68.0 78.7h0M38.2 86.8h0M61.8 90.6h0M59.3 93.7h0M61.3 74.3h0M44.9 87.9h0M47.7 98.5h0M51.6 84.7h0M56.2 98.4h0M51.0 93.4h0M69.2 82.3h0M61.8 85.2h0M56.9 70.2h0M61.9 78.3h0M51.9 93.5h0M63.1 90.3h0M54.4 83.8h0M56.8 77.1h0M46.6 85.3h0M43.4 90.9h0M57.3 73.6h0M68.5 84.6h0M62.2 70.8h0M51.1 92.1h0M54.2 77.9h0M53.5 72.8h0M54.0 75.8h0M62.5 75.3h0M53.5 82.3h0M47.1 89.4h0M57.6 91.1h0M44.0 84.3h0M67.5 88.6h0M47.5 81.6h0M55.5 84.8h0M41.4 93.0h0M55.3 80.2h0M50.8 70.1h0M40.6 98.7h0M63.5 76.9h0M49.4 68.8h0M52.0 85.8h0M63.7 83.7h0M56.6 69.6h0M41.8 87.4h0M37.8 93.6h0M57.5 90.1h0M42.2 79.9h0M52.2 93.9h0M65.3 87.3h0M45.5 86.9h0M48.1 91.2h0M60.7 82.5h0M55.7 96.6h0M41.6 86.8h0M49.4 94.9h0M61.7 79.2h0M43.0 92.7h0M60.9 85.8h0M46.7 92.0h0M65.8 79.4h0M69.4 78.9h0M65.6 78.5h0M50.1 81.2h0M63.8 80.9h0M68.6 76.4h0M54.7 74.3h0M44.4 77.0h0M40.9 84.4h0M59.3 81.8h0M65.2 86.1h0M62.3 68.8h0M44.2 95.7h0M40.0 90.1h0M49.5 89.6h0M65.7 79.2h0M51.9 85.9h0M66.6 73.8h0M68.2 90.5h0M58.5 80.9h0M51.7 79.8h0M64.7 81.6h0M60.9 100.5h0M66.8 79.8h0M49.4 87.3h0M48.4 97.0h0M66.9 79.3h0M52.2 80.3h0M62.6 81.0h0M48.0 86.0h0M50.6 82.2h0M64.1 83.2h0M56.1 76.4h0M51.4 85.0h0M50.1 75.4h0M57.2 83.6h0M52.7 90.0h0M68.5 76.9h0M68.1 88.0h0M64.8 81.2h0M48.3 88.2h0M60.2 96.0h0M44.4 80.6h0M55.8 92.9h0M44.8 90.0h0M49.3 89.5h0M49.3 76.2h0M45.0 90.4h0M53.3 72.4h0M64.1 77.4h0M64.1 85.8h0M52.3 68.0h0"/>
<path stroke="#2f54a2" stroke-width="1.0" d="M44.7 92.0h0M46.9 99.7h0M43.5 94.7h0M41.5 107.6h0M41.3 104.4h0M38.7 100.8h0M40.6 92.9h0M43.9 93.7h0M44.4 96.0h0M49.9 94.7h0M49.2 92.5h0M44.8 100.9h0M45.0 97.6h0M49.3 102.6h0M51.1 95.4h0M38.1 103.3h0M46.2 104.2h0M44.8 99.8h0M38.5 91.9h0M40.0 95.7h0M38.5 96.1h0M43.4 89.4h0M42.8 105.8h0M44.5 105.0h0M47.8 97.0h0M42.5 103.7h0M41.5 91.9h0M45.4 99.4h0M41.9 89.2h0M44.3 96.2h0M52.1 102.9h0M40.9 98.2h0M41.1 104.0h0M42.1 86.9h0M43.8 92.9h0M44.5 94.3h0M48.6 100.3h0M48.5 100.1h0M51.6 99.7h0M39.0 88.1h0M45.1 92.4h0M38.1 99.8h0M51.5 106.5h0M40.4 93.3h0M48.3 105.6h0M39.4 93.2h0M37.6 91.7h0M37.3 96.9h0M39.9 103.4h0M40.2 93.4h0M35.0 89.5h0M44.8 101.8h0M47.8 97.1h0M43.0 94.0h0M42.4 95.0h0M37.1 91.5h0M40.7 89.8h0M44.6 91.0h0M45.7 103.5h0M46.5 100.7h0M45.9 102.4h0M48.3 94.6h0M41.2 90.1h0M45.6 103.1h0M48.1 92.5h0M39.6 99.8h0M41.9 85.8h0M42.0 105.7h0M49.7 104.5h0M44.8 92.6h0M49.2 99.3h0M42.9 92.2h0M46.8 87.6h0M44.1 102.5h0M47.7 108.4h0M41.9 93.6h0M44.7 101.6h0M44.0 105.9h0M36.8 95.8h0M50.6 98.4h0M48.6 103.6h0M44.4 101.2h0M45.7 99.4h0M47.8 106.9h0M43.0 101.3h0M42.4 105.1h0M38.6 95.5h0M37.1 101.8h0M34.8 87.4h0M42.4 103.4h0M39.2 88.7h0M43.4 98.8h0M41.7 91.8h0M40.6 93.3h0M48.3 94.6h0M44.2 98.0h0M39.8 93.4h0M43.6 104.1h0M37.2 85.0h0M39.7 94.6h0M41.9 105.7h0M39.9 89.4h0M43.8 91.5h0M41.4 104.2h0M43.1 92.6h0M45.2 100.2h0M40.8 89.9h0M48.6 105.7h0M40.7 94.6h0M41.5 102.4h0M39.8 100.5h0M50.2 105.1h0M43.0 98.8h0M45.0 99.3h0M49.1 103.5h0M44.6 94.5h0M36.7 94.5h0M48.9 92.6h0M42.5 108.3h0M50.5 102.9h0M42.5 104.6h0M35.0 97.2h0M40.7 104.6h0M41.7 106.4h0M43.2 90.9h0M41.0 87.3h0M42.4 107.3h0M49.8 105.1h0M38.2 96.0h0M33.5 88.1h0M48.2 94.2h0M46.8 101.2h0M41.0 97.2h0M40.5 87.3h0M44.4 99.7h0M43.9 89.9h0M43.5 91.8h0M44.2 100.4h0M50.2 88.2h0M45.1 105.4h0M40.0 91.4h0M48.2 100.6h0M40.0 90.8h0M43.8 93.6h0M39.3 87.9h0M44.5 106.5h0M41.6 101.3h0M39.4 102.7h0M48.0 94.1h0M46.4 99.8h0M42.6 96.0h0M38.2 95.6h0M43.0 99.8h0M51.8 95.9h0M43.2 95.9h0M41.6 96.6h0M48.1 102.6h0M47.4 97.0h0M42.9 91.6h0M48.5 96.8h0M43.2 95.4h0M39.3 96.3h0M42.2 105.4h0M50.4 93.1h0M42.1 92.1h0M42.7 96.1h0M45.2 98.6h0M41.3 88.6h0M41.9 96.3h0M41.2 98.2h0M39.5 96.5h0M40.0 100.9h0M48.0 99.3h0M44.9 101.1h0M44.7 107.3h0M47.7 97.6h0M53.7 102.3h0M44.5 102.9h0M37.2 97.0h0M44.4 102.8h0M49.5 96.6h0M47.3 88.7h0M44.4 91.4h0M49.6 97.0h0M45.8 101.6h0M46.1 106.8h0M48.5 95.2h0M48.8 95.3h0M46.1 102.6h0M44.9 107.2h0M48.6 92.7h0M47.8 95.7h0M47.6 93.4h0M45.4 93.1h0M49.9 97.9h0M43.5 105.6h0M41.7 90.4h0M45.5 97.0h0M44.2 99.6h0M41.9 89.3h0"/>
<path stroke="#8f8fd0" stroke-width="1.0" d="M75.9 106.1h0M66.5 85.9h0M80.2 84.9h0M70.6 102.8h0M57.2 100.4h0M62.1 90.5h0M69.2 97.8h0M59.2 105.6h0M74.7 95.2h0M66.8 98.3h0M62.6 89.4h0M70.5 94.3h0M71.5 112.8h0M67.4 85.5h0M69.9 88.5h0M66.3 106.5h0M71.7 94.8h0M73.7 92.5h0M55.9 101.6h0M67.7 94.3h0M64.6 86.7h0M61.4 100.6h0M59.8 91.9h0M73.0 98.7h0M59.8 89.5h0M75.7 106.3h0M69.1 103.4h0M63.6 107.1h0M68.3 90.5h0M61.2 102.9h0M74.8 107.5h0M68.2 85.2h0M62.8 108.0h0M62.1 97.5h0M57.2 86.2h0M71.6 107.5h0M59.4 87.3h0M76.0 100.5h0M73.4 105.2h0M57.3 107.3h0M65.7 97.8h0M64.9 101.0h0M66.7 85.9h0M68.5 87.7h0M67.0 108.8h0M64.9 86.8h0M62.5 113.7h0M70.5 88.7h0M69.7 91.0h0M48.0 103.7h0M60.9 85.0h0M72.1 112.0h0M60.4 108.8h0M73.9 111.6h0M58.2 95.4h0M63.5 86.9h0M69.4 84.1h0M76.3 77.4h0M60.1 94.7h0M69.3 112.9h0M67.7 84.5h0M70.4 103.0h0M70.5 93.4h0M69.2 98.2h0M75.1 109.7h0M61.4 94.0h0M66.9 95.1h0M67.2 85.9h0M69.3 113.6h0M72.6 101.0h0M61.1 103.5h0M73.3 87.2h0M62.2 91.7h0M68.3 111.4h0M63.4 92.4h0M72.5 85.4h0M65.7 100.7h0M63.7 94.4h0M62.0 86.0h0M70.0 95.4h0M67.5 111.4h0M65.3 104.2h0M56.7 94.9h0M57.3 87.2h0M63.4 93.7h0M61.3 89.2h0M56.5 92.4h0M74.8 99.7h0M74.3 101.5h0M67.9 92.7h0M74.9 96.3h0M62.0 89.2h0M60.3 101.6h0M71.0 95.8h0M71.2 94.1h0M68.6 112.8h0M67.2 89.2h0M70.9 113.2h0M67.9 93.8h0M71.9 110.3h0M64.7 100.8h0M64.3 92.1h0M73.4 89.3h0M76.3 96.2h0M63.9 82.2h0M76.4 109.1h0M66.9 97.0h0M61.7 82.5h0M77.7 108.6h0M69.1 104.3h0M74.5 101.3h0M59.5 99.9h0M73.2 106.0h0M67.0 100.3h0M61.2 87.2h0M67.8 114.0h0M59.4 102.0h0M57.9 90.9h0M72.2 82.6h0M63.0 100.9h0M71.3 116.2h0M68.2 103.3h0M68.1 101.9h0M67.4 87.4h0M83.9 114.9h0M71.0 102.3h0M71.0 106.9h0M67.8 108.7h0M62.9 91.3h0M75.7 94.6h0M68.4 99.8h0M72.6 96.4h0M74.8 97.1h0M66.0 98.4h0M63.4 84.2h0M58.6 79.5h0M62.8 111.4h0M60.6 93.9h0M65.9 83.3h0M68.0 86.9h0M69.7 82.8h0M67.4 110.1h0M58.4 87.3h0M69.6 89.8h0M68.7 102.1h0M60.6 87.9h0M62.8 78.4h0M70.0 87.3h0M72.7 105.8h0M73.5 108.8h0M62.5 101.6h0M57.3 104.1h0M66.0 113.5h0M71.1 95.0h0M69.4 100.1h0M60.2 84.8h0M71.2 112.5h0M68.5 106.3h0M72.8 85.5h0M66.0 99.2h0M72.3 95.0h0M69.6 93.7h0M63.5 87.5h0M65.8 101.3h0M52.4 115.8h0M73.1 95.3h0M72.5 103.0h0M66.4 104.0h0M67.3 93.2h0M58.8 102.1h0M59.3 93.9h0M56.1 95.7h0M61.6 90.3h0M73.7 105.6h0M59.0 100.2h0M74.8 100.9h0M63.1 92.4h0M61.8 85.1h0M61.7 95.5h0M75.5 107.4h0M67.6 88.5h0M58.5 89.5h0M69.2 110.3h0M72.9 108.5h0M65.3 85.2h0M63.9 83.0h0M60.1 85.6h0M60.5 81.8h0M58.7 109.0h0M61.3 98.4h0M70.8 98.6h0M79.2 99.0h0M70.8 85.9h0M57.3 103.0h0M70.0 86.2h0M58.6 101.5h0M62.7 91.9h0M76.7 100.8h0M59.8 102.6h0M70.3 101.3h0M76.2 98.9h0M62.8 92.2h0M65.5 98.0h0M59.5 104.4h0M56.2 89.2h0M62.7 105.6h0M72.1 92.1h0M63.6 105.8h0M58.9 102.8h0M73.8 85.5h0M73.2 102.2h0M69.3 113.0h0M68.1 105.1h0M63.8 86.2h0M64.0 102.9h0M71.4 88.5h0M77.1 98.3h0M77.5 103.2h0M71.7 92.4h0M76.6 96.4h0M69.4 94.3h0M66.6 87.9h0M62.2 95.1h0M72.8 83.1h0M62.3 102.1h0M66.9 109.2h0M56.1 97.0h0M74.2 107.0h0M62.8 96.2h0M59.7 84.0h0M61.1 99.8h0M71.9 100.4h0M64.2 89.5h0M58.6 91.7h0M53.7 97.3h0M61.6 93.5h0M61.1 86.0h0M69.9 93.4h0M59.1 95.6h0M62.4 81.8h0M62.3 93.8h0M64.0 89.0h0M63.7 113.0h0M69.0 92.9h0M61.5 106.4h0M73.4 94.4h0M61.1 88.5h0M60.6 108.7h0M74.0 90.4h0M60.6 92.0h0M73.4 97.3h0M70.3 106.9h0M66.1 96.6h0M71.5 96.0h0M68.6 88.4h0M59.9 86.7h0M77.3 102.9h0M55.3 88.0h0M68.0 96.5h0M73.6 101.3h0M67.5 104.8h0M73.2 101.5h0M73.2 90.2h0M71.3 102.4h0M67.7 110.8h0M73.2 106.5h0M58.0 83.0h0M61.0 102.6h0M56.2 103.6h0M56.5 86.5h0M62.3 97.4h0M70.6 112.4h0M62.4 84.3h0M75.2 100.0h0M73.6 103.0h0M60.4 91.1h0M59.5 96.2h0M62.5 108.0h0M67.2 108.6h0M74.3 105.9h0M65.0 103.2h0M73.1 92.9h0M58.8 90.0h0M58.1 104.4h0M63.1 102.2h0M65.6 104.1h0M68.3 84.1h0M70.4 87.1h0M61.7 94.8h0M63.1 113.7h0M71.0 93.4h0M66.0 101.7h0M59.5 91.3h0M69.6 112.6h0M68.0 85.8h0M76.7 101.6h0M59.3 92.1h0M62.8 109.0h0M71.6 105.9h0M69.5 89.1h0M57.9 99.0h0M57.7 98.6h0M65.8 99.7h0M58.9 88.5h0M69.0 84.7h0M58.9 86.9h0M56.2 101.4h0M65.1 80.6h0M61.1 99.3h0M66.9 93.2h0M59.8 94.4h0M69.5 88.7h0M68.2 111.7h0M66.2 82.4h0M63.8 108.8h0M65.9 80.8h0M63.4 86.1h0M65.0 90.4h0M73.8 104.3h0M74.0 109.5h0M73.2 85.5h0M71.7 94.3h0M71.8 108.7h0M66.6 104.4h0M71.0 99.5h0M64.6 101.7h0M60.2 93.0h0M70.1 94.5h0M60.8 112.1h0M64.5 100.3h0"/>
<path stroke="#e9b888" stroke-width="1.0" d="M144.5 101.4h0M166.1 93.9h0M182.6 84.5h0M161.2 96.4h0M187.3 75.9h0M152.0 88.0h0M152.5 109.0h0M165.1 107.9h0M155.7 96.8h0M178.0 84.9h0M173.5 91.8h0M154.8 86.4h0M171.1 77.2h0M151.3 90.4h0M152.7 107.8h0M184.6 84.9h0M181.1 99.4h0M173.6 97.5h0M172.2 86.5h0M157.1 80.4h0M154.9 93.0h0M150.7 100.5h0M169.0 103.9h0M157.1 100.8h0M180.8 81.8h0M168.8 77.4h0M163.5 80.9h0M153.3 119.5h0M177.2 97.7h0M165.5 100.3h0M178.8 80.8h0M166.6 81.5h0M163.1 80.6h0M147.0 84.7h0M162.1 109.9h0M167.2 94.3h0M172.7 78.6h0M159.6 91.9h0M170.4 95.5h0M167.2 82.2h0M157.0 101.4h0M181.8 97.5h0M162.0 92.9h0M168.3 82.0h0M163.2 80.2h0M181.2 84.0h0M164.9 95.1h0M146.6 92.0h0M179.6 81.5h0M177.8 101.0h0M168.1 88.4h0M172.2 97.8h0M162.4 104.6h0M179.0 103.8h0M162.2 77.7h0M151.7 86.6h0M173.6 72.8h0M156.7 81.0h0M177.2 86.3h0M180.5 75.7h0M159.6 102.5h0M180.9 86.9h0M169.3 88.8h0M152.9 99.9h0M148.2 100.4h0M172.0 90.3h0M188.7 91.2h0M179.2 95.7h0M167.5 80.3h0M158.9 98.4h0M173.4 101.4h0M180.7 75.0h0M157.9 94.0h0M163.6 69.6h0M174.5 96.2h0M157.5 107.8h0M187.6 77.2h0M151.3 92.6h0M168.7 89.2h0M168.5 93.9h0M165.6 85.3h0M180.9 95.1h0M155.6 95.4h0M175.8 91.0h0M159.0 97.0h0M174.4 82.7h0M183.0 89.9h0M165.6 89.5h0M173.5 80.5h0M157.5 91.1h0M161.1 109.2h0M169.7 83.9h0M169.1 92.2h0M165.0 89.6h0M163.9 106.7h0M167.7 90.3h0M169.0 94.1h0M146.2 88.1h0M154.2 103.8h0M178.9 82.1h0M170.6 108.8h0M183.1 87.0h0M159.1 94.0h0M187.5 89.3h0M156.1 98.6h0M165.2 80.3h0M188.5 79.1h0M150.0 89.7h0M164.4 91.4h0M152.9 104.7h0M178.3 81.9h0M162.9 81.6h0M178.1 99.7h0M157.0 101.6h0M151.9 93.8h0M179.2 89.6h0M150.2 101.5h0M172.1 97.2h0M184.5 87.9h0M166.8 93.6h0M183.0 87.8h0M149.8 91.2h0M151.8 107.0h0M182.1 101.9h0M170.3 82.2h0M156.6 107.6h0M175.8 104.6h0M158.0 110.5h0M177.6 98.9h0M187.9 83.3h0M161.1 99.7h0M154.2 79.3h0M164.0 91.4h0M166.0 101.8h0M154.9 107.0h0M157.6 87.3h0M162.8 86.0h0M165.0 106.5h0M150.4 103.4h0M160.7 91.5h0M154.7 82.0h0M157.5 82.3h0M173.2 95.8h0M178.2 104.5h0M172.9 95.2h0M164.4 86.6h0M157.6 86.6h0M164.1 93.1h0M168.6 101.1h0M171.0 98.9h0M163.4 93.2h0M164.2 88.2h0M159.9 108.5h0M158.9 95.2h0M160.2 96.2h0M170.3 94.8h0M165.2 88.1h0M174.8 84.0h0M153.7 103.7h0M145.2 100.3h0M159.1 97.7h0M143.9 89.6h0M151.1 98.6h0M184.7 88.1h0M166.5 95.8h0M174.8 87.1h0M155.3 102.4h0M153.1 91.6h0M170.5 96.8h0M151.1 88.2h0M153.7 102.6h0M175.2 81.2h0M180.1 87.1h0M181.0 86.2h0M183.8 78.5h0M160.2 86.0h0M169.7 93.2h0M156.1 93.7h0M144.2 100.9h0M163.4 96.5h0M161.8 111.7h0M155.1 89.1h0M169.2 98.5h0M175.3 79.0h0M179.6 73.5h0M164.9 106.2h0M175.1 100.2h0M172.8 100.1h0M185.4 89.1h0M159.7 107.7h0M157.9 106.7h0M154.8 97.4h0M175.4 101.7h0M175.6 72.6h0M184.0 77.8h0M180.2 95.4h0M171.0 82.2h0M155.9 112.6h0M165.2 110.2h0M153.8 88.8h0M162.2 94.9h0M170.9 93.3h0M155.2 90.7h0M184.1 92.8h0M160.1 105.1h0M147.0 100.5h0M170.0 81.4h0M165.4 113.6h0M173.7 74.3h0M175.5 98.5h0M166.3 104.9h0M158.5 81.1h0M155.6 83.2h0M169.3 84.3h0M155.2 96.7h0M164.9 77.0h0M167.8 79.3h0M178.5 81.9h0M170.2 100.3h0M167.7 78.7h0M154.0 112.3h0M182.1 83.6h0M157.3 86.1h0M171.4 84.9h0M163.1 97.9h0M172.1 94.3h0M181.0 99.3h0M152.4 90.1h0M153.9 109.1h0M175.5 88.1h0M175.9 83.2h0M165.4 96.8h0M177.7 78.5h0M175.9 96.3h0M172.9 77.1h0M169.2 78.5h0M172.5 104.7h0M161.7 89.7h0M172.0 92.4h0M176.6 85.4h0M147.7 105.0h0M153.3 101.4h0M148.3 91.9h0M157.8 90.1h0M156.4 107.8h0M164.9 97.1h0M148.6 94.8h0M170.9 78.3h0M156.6 85.7h0M167.1 76.0h0M186.0 75.9h0M161.7 86.8h0M174.9 84.9h0M156.1 112.8h0M171.5 92.4h0M167.3 109.1h0M178.2 86.3h0M160.4 93.7h0M148.7 101.4h0M158.5 86.2h0M155.1 79.8h0M154.9 110.2h0M165.9 94.6h0M158.3 109.6h0M171.9 83.5h0M152.0 89.5h0M177.7 98.8h0M153.0 99.1h0M170.1 78.5h0M146.7 95.3h0M185.6 85.5h0M169.3 82.6h0M160.1 108.3h0M175.9 91.2h0M181.8 78.8h0M152.4 101.1h0M166.9 94.7h0M164.0 108.7h0M169.4 84.4h0M161.1 81.2h0M170.7 107.3h0M153.2 96.5h0M160.8 80.2h0M175.9 77.9h0M152.8 97.5h0M148.9 98.5h0M163.7 82.4h0M173.0 103.0h0M190.1 92.2h0M173.5 90.3h0M171.4 73.1h0M155.2 91.2h0M180.7 78.4h0M171.6 84.1h0M169.3 89.0h0M157.9 92.6h0M157.0 112.4h0M166.6 75.8h0M176.2 78.2h0M180.1 98.4h0M160.4 90.0h0M159.0 110.2h0M180.3 102.3h0M158.5 78.0h0M158.0 103.4h0M163.0 82.5h0M151.7 106.6h0M164.6 75.2h0M162.8 81.1h0M181.3 96.4h0M164.2 92.2h0M169.3 102.9h0M177.5 82.3h0M164.2 76.9h0M168.2 91.5h0M157.4 83.6h0M163.7 86.1h0M164.4 98.2h0M159.8 97.7h0M160.6 93.2h0M163.5 107.9h0M178.4 86.3h0M151.5 86.2h0M150.2 104.2h0M178.3 98.0h0M154.5 89.1h0M168.0 100.5h0M151.2 86.3h0M172.8 107.0h0M179.3 75.6h0M172.6 73.1h0M165.8 78.4h0M173.2 87.7h0M183.7 81.4h0M191.4 83.3h0M146.9 93.3h0M168.1 106.3h0M155.1 89.3h0M181.5 98.2h0M153.0 89.3h0M176.7 97.1h0M149.3 88.5h0M152.6 84.6h0M155.8 112.6h0M148.5 90.3h0M162.6 112.6h0M175.1 85.4h0M149.8 95.0h0M180.7 83.9h0M183.5 85.2h0M146.1 106.0h0M169.8 87.7h0M167.0 111.9h0M166.5 94.9h0M177.3 79.1h0M168.4 84.9h0M174.9 99.7h0M185.4 76.6h0M154.8 96.2h0M185.7 90.9h0M155.2 92.4h0M178.0 92.2h0M184.6 80.2h0M180.9 90.7h0M172.9 74.0h0M164.0 88.4h0M174.3 80.5h0M166.0 92.2h0M157.5 82.6h0M158.5 105.9h0M176.7 100.7h0M181.4 90.0h0M179.9 75.0h0M175.9 106.3h0M168.6 104.1h0M163.2 90.8h0M166.4 100.2h0M182.3 86.8h0M165.5 84.9h0M153.1 102.6h0M176.1 90.0h0M156.4 92.0h0M158.7 109.3h0M177.6 86.4h0M175.3 78.3h0M150.3 106.6h0M167.6 99.3h0M160.8 88.2h0M184.4 80.9h0M162.6 111.1h0M181.0 84.7h0M177.4 76.6h0M163.5 81.3h0M163.9 99.1h0M183.2 84.6h0M155.4 90.7h0M155.0 107.0h0M179.2 100.7h0M168.9 86.8h0M155.0 104.6h0M166.7 79.6h0M172.8 88.3h0M170.3 99.3h0M181.3 93.3h0M172.0 93.4h0M167.8 95.2h0M154.8 90.9h0M169.4 102.6h0M176.0 76.7h0M154.3 90.5h0M182.1 84.1h0M176.0 82.8h0M156.1 108.9h0M153.1 110.4h0M167.8 74.6h0M170.3 91.3h0M149.0 87.2h0M166.7 92.4h0M186.4 90.4h0M182.4 87.4h0M175.3 76.5h0M169.1 103.8h0M180.4 74.7h0M179.2 80.5h0M186.6 87.8h0M184.4 77.0h0M152.9 111.4h0M177.4 105.2h0M165.5 80.4h0M179.0 102.7h0M151.0 96.8h0M156.3 96.0h0M170.7 94.2h0M157.7 89.9h0M156.0 83.6h0M152.1 95.6h0M180.4 83.7h0M153.2 100.9h0M158.8 77.3h0M157.2 101.6h0M188.3 80.0h0M168.7 91.0h0M172.7 100.3h0M177.6 75.0h0M160.4 110.5h0M180.6 92.2h0M161.0 92.2h0M159.1 108.5h0M156.0 106.3h0M168.1 85.9h0M162.2 84.2h0M162.6 99.7h0M149.0 91.5h0M175.7 94.4h0M163.7 91.9h0M160.4 100.4h0M162.7 86.9h0M158.6 105.2h0M146.9 92.4h0M151.7 111.9h0M152.5 102.7h0M164.1 73.2h0M156.7 90.9h0M166.9 98.0h0M171.6 106.9h0M160.5 99.6h0M157.2 85.6h0M156.6 98.1h0M171.5 108.1h0M177.8 88.2h0M173.3 73.7h0M179.3 76.3h0M162.3 84.5h0M170.6 87.9h0M181.8 72.2h0M159.6 78.0h0M174.6 75.5h0M183.0 94.8h0M172.4 98.4h0M159.2 111.3h0M171.9 75.0h0M173.0 87.6h0M170.4 75.9h0M162.9 109.0h0M158.1 87.6h0M157.2 85.9h0M135.5 103.9h0M167.6 99.4h0M161.8 111.2h0M177.7 93.9h0M162.2 106.5h0M163.5 91.4h0M169.9 74.2h0M166.3 76.3h0M171.3 96.6h0M161.7 89.3h0M151.5 90.7h0M159.4 97.0h0M179.9 96.5h0M175.0 97.6h0M149.4 101.0h0M157.8 96.1h0M159.2 86.8h0M153.4 98.4h0M184.8 79.5h0M166.7 101.9h0M178.8 104.1h0M147.7 104.9h0M173.1 86.1h0M171.2 94.1h0M154.6 96.3h0M183.8 80.4h0M162.2 99.3h0M173.0 104.2h0M160.1 103.1h0M159.1 105.1h0M168.4 95.7h0M183.9 79.4h0M165.6 89.0h0M151.5 104.8h0M173.3 82.7h0M165.9 88.3h0M156.4 112.5h0M158.4 98.5h0M168.6 92.4h0M173.7 100.9h0M167.3 104.4h0M158.6 81.3h0M162.7 107.2h0M164.7 111.1h0M155.0 98.0h0M155.7 90.5h0M179.8 87.5h0M155.1 93.1h0M155.1 82.4h0M162.9 106.7h0M168.2 95.6h0M155.6 92.6h0M173.5 87.9h0M171.1 87.3h0M175.8 98.1h0M158.8 67.2h0M167.0 89.8h0M151.8 93.8h0M189.7 87.0h0M153.2 90.4h0M185.5 78.8h0M178.8 96.8h0M146.1 90.8h0M164.0 79.3h0M162.6 111.6h0M159.6 108.2h0M160.8 109.2h0M172.2 83.4h0M175.6 102.4h0M150.9 106.5h0M172.3 79.5h0M182.7 93.0h0M146.0 91.3h0M176.0 96.7h0M168.6 84.9h0M156.4 103.8h0M184.2 85.9h0M158.6 79.0h0M165.2 106.0h0M157.4 109.8h0M154.6 91.4h0M161.9 102.4h0M187.5 83.8h0M161.7 105.7h0M155.2 108.0h0M178.2 97.7h0M159.2 100.8h0M143.5 100.9h0M166.5 108.9h0M170.7 86.7h0M159.3 92.8h0M174.2 81.8h0M157.8 79.7h0M156.0 90.1h0M172.6 92.7h0M148.7 97.5h0M182.9 95.3h0M183.6 87.1h0M179.8 92.6h0M155.4 104.6h0M177.3 98.8h0M166.1 83.2h0M180.3 78.0h0M157.6 94.2h0M185.8 80.5h0M166.5 75.3h0M163.1 106.2h0M150.0 102.6h0M165.1 98.7h0M165.4 97.2h0M155.7 83.7h0M182.7 97.5h0M157.1 81.2h0M159.7 96.0h0M152.3 92.6h0M158.7 87.3h0M184.5 84.4h0M161.0 86.2h0M167.0 101.2h0M164.8 100.6h0M161.9 100.0h0M179.5 82.4h0M167.1 77.2h0M156.8 96.9h0M181.3 82.1h0M181.5 111.7h0M184.1 74.9h0M177.7 78.7h0M178.5 99.9h0M184.9 91.6h0M152.5 102.4h0M160.1 105.2h0M155.8 107.0h0M159.1 95.2h0M158.0 98.6h0M161.6 93.0h0M180.5 93.1h0M179.7 83.0h0M175.9 88.9h0M153.8 86.4h0M162.5 92.3h0M164.9 102.9h0M179.8 90.2h0M178.1 98.8h0M165.1 112.1h0M139.4 92.5h0M155.2 90.3h0M172.0 82.2h0M147.8 93.3h0M171.8 94.6h0M167.1 99.4h0M143.8 114.9h0M160.3 93.9h0M171.0 78.2h0M155.2 98.5h0M184.5 75.8h0M160.8 93.0h0M157.3 81.8h0M152.8 85.9h0M169.3 92.5h0M155.9 104.5h0M160.7 108.2h0M179.6 83.8h0M166.1 84.3h0M177.8 94.4h0M169.8 100.0h0M166.3 99.0h0M172.2 108.7h0M187.2 74.1h0M165.1 84.6h0M170.6 84.1h0M185.1 78.9h0M162.5 106.7h0M171.7 81.6h0M166.8 78.5h0M152.1 107.5h0M171.1 106.0h0M164.2 85.5h0M166.9 82.0h0M167.3 86.5h0M145.8 99.6h0M177.5 98.1h0M159.4 95.3h0M158.5 88.6h0M177.3 90.0h0M181.1 75.8h0M158.8 81.4h0M178.3 79.4h0M170.4 94.3h0M175.5 92.7h0M156.4 111.3h0M166.0 79.9h0M165.1 96.1h0M165.6 100.5h0M161.0 100.2h0M157.0 102.9h0M176.6 94.9h0M183.5 89.9h0M160.8 105.9h0M176.9 90.8h0M165.4 100.0h0M147.1 96.8h0M183.0 78.6h0M147.7 92.4h0M172.5 89.4h0M161.1 112.6h0M150.9 84.0h0M154.5 110.8h0M172.4 93.5h0M152.3 103.3h0M186.2 79.4h0M179.2 83.5h0M152.2 109.7h0M175.8 87.9h0M152.0 110.6h0M155.6 105.1h0M173.2 91.5h0M152.9 83.9h0M161.3 85.9h0M156.6 83.3h0M154.1 105.6h0M166.3 99.8h0M175.9 108.8h0M172.3 81.7h0M182.6 98.0h0M169.5 100.4h0M156.4 102.4h0M161.4 104.4h0M168.0 95.4h0M157.3 89.2h0M169.3 101.2h0M176.0 86.2h0M171.5 96.2h0M166.6 94.0h0M179.3 89.5h0M174.6 93.8h0M182.9 77.4h0M162.8 80.6h0M162.1 95.9h0M159.5 89.6h0M171.1 102.3h0M183.1 75.5h0M163.8 108.9h0M172.3 102.1h0M183.2 78.0h0M181.3 94.2h0M147.3 103.7h0M172.9 89.4h0M175.6 86.3h0M182.8 81.9h0M154.0 110.3h0M148.9 99.2h0M168.4 79.6h0M173.5 80.5h0M167.4 104.0h0M162.7 111.3h0M183.8 79.0h0M163.7 82.6h0M158.4 95.2h0M185.0 72.9h0M161.4 81.7h0M150.3 111.1h0M157.0 97.9h0M157.2 109.8h0M182.5 92.1h0M183.5 96.9h0M163.2 110.5h0M183.4 88.4h0M172.0 84.8h0M152.2 96.1h0M157.5 82.7h0M157.5 78.8h0M157.0 100.3h0M157.6 108.7h0M183.7 93.4h0M158.4 99.7h0M154.6 89.5h0M176.7 79.7h0M175.0 72.1h0M181.6 84.7h0M177.4 102.0h0M161.5 78.3h0M151.0 87.1h0M163.7 99.0h0M168.5 94.0h0M170.7 77.2h0M141.3 100.5h0M162.9 110.4h0M153.3 78.9h0M154.0 109.2h0M178.4 76.6h0M160.0 103.0h0M152.0 103.7h0M157.7 105.2h0M153.6 108.3h0M152.0 86.0h0M159.7 107.9h0M152.0 88.2h0M160.4 95.4h0M177.3 69.8h0M166.8 98.3h0M180.2 101.8h0M171.5 98.4h0M156.1 98.8h0M160.5 84.3h0M158.3 92.9h0M146.3 102.4h0M151.8 98.0h0M179.4 81.2h0M178.0 75.7h0M153.4 84.4h0M154.4 94.8h0M156.8 106.5h0M154.4 80.2h0M164.8 91.6h0M178.5 89.9h0M155.0 98.5h0M164.1 103.4h0M147.0 95.5h0M174.0 81.8h0M151.3 107.8h0M156.2 101.1h0M174.6 100.0h0M180.3 87.7h0M155.5 92.8h0M147.8 100.7h0M159.5 102.3h0M168.7 95.7h0M167.6 80.5h0M161.0 91.7h0M179.4 95.3h0M161.6 113.9h0M157.2 112.2h0M166.1 90.4h0M180.7 83.8h0M177.7 74.1h0M170.5 83.4h0M154.6 102.4h0M155.4 108.6h0M165.9 76.3h0M176.2 105.7h0M160.6 93.4h0M188.3 75.3h0M160.7 83.2h0M169.5 91.8h0M164.1 89.4h0M165.7 78.2h0M159.3 83.1h0M154.7 88.1h0M149.6 88.5h0M176.4 81.0h0M188.9 76.2h0M156.3 101.3h0M173.9 86.4h0M157.5 101.3h0M157.9 104.2h0M190.5 79.6h0M174.2 82.4h0M161.0 85.1h0M169.5 88.8h0M170.1 83.5h0M150.2 98.0h0M148.5 100.8h0M181.2 93.2h0M164.5 84.7h0M168.1 104.4h0M159.5 78.6h0M151.4 101.1h0M161.6 112.3h0M156.6 104.0h0M163.3 84.0h0M172.9 86.1h0M155.9 93.9h0M161.5 76.3h0M157.8 74.9h0M145.6 95.2h0M155.1 106.8h0M178.4 74.5h0M153.7 99.0h0M166.9 115.1h0M182.0 86.0h0M155.4 93.3h0M164.5 105.4h0M151.9 109.7h0M170.3 92.0h0M165.7 101.7h0M180.3 86.8h0M164.1 112.1h0M179.5 84.1h0M176.9 76.6h0M160.1 97.6h0M168.1 99.4h0M175.9 72.3h0M168.4 74.4h0M152.8 93.1h0M159.6 102.9h0M148.6 92.4h0M161.2 83.3h0M189.8 83.3h0M144.5 102.8h0M185.2 85.1h0M159.9 103.1h0M170.0 101.0h0M175.1 99.5h0M180.6 97.3h0M176.4 80.4h0M162.0 111.7h0M162.0 103.1h0M155.9 107.0h0M186.5 81.7h0M157.9 84.9h0M173.4 102.5h0M151.0 106.7h0M164.6 93.6h0"/>
<path stroke="#f0c468" stroke-width="1.0" d="M184.5 96.4h0M206.5 82.5h0M208.3 94.2h0M199.6 84.7h0M194.5 93.1h0M201.4 89.4h0M180.7 98.1h0M197.9 95.5h0M191.7 96.5h0M186.3 85.7h0M189.7 97.4h0M197.5 94.5h0M197.6 79.3h0M203.1 98.6h0M193.6 96.6h0M193.2 75.5h0M198.4 73.1h0M195.8 102.7h0M209.0 96.3h0M192.5 78.2h0M195.7 76.9h0M203.1 96.1h0M187.5 80.9h0M194.4 86.1h0M203.0 92.8h0M189.8 77.2h0M184.9 79.0h0M198.0 76.8h0M204.3 90.3h0M187.8 82.7h0M193.3 86.9h0M198.2 79.0h0M198.8 91.1h0M206.5 98.0h0M203.0 93.8h0M200.6 88.9h0M193.1 78.8h0M196.5 86.2h0M209.7 87.3h0M189.4 84.6h0M196.9 92.4h0M203.7 95.5h0M188.3 99.1h0M208.8 96.4h0M187.6 90.8h0M197.6 80.5h0M197.3 102.0h0M194.2 95.4h0M194.4 81.4h0M194.8 94.0h0M208.3 95.6h0M186.5 101.2h0M201.3 98.1h0M182.3 92.0h0M192.3 91.0h0M189.8 75.7h0M197.6 91.9h0M198.3 92.5h0M200.4 94.1h0M199.6 87.3h0M197.7 85.4h0M204.9 87.7h0M183.6 89.2h0M185.8 88.2h0M203.1 86.0h0M194.3 84.3h0M207.9 96.0h0M189.0 86.3h0M198.3 80.5h0M201.7 86.4h0M186.3 91.6h0M192.1 80.9h0M190.2 99.5h0M198.9 81.8h0M200.2 79.4h0M192.7 96.8h0M190.2 79.4h0M198.7 96.5h0M188.1 96.3h0M188.6 93.6h0M203.5 91.0h0M197.0 95.9h0M204.5 87.4h0M191.1 81.0h0M189.7 92.0h0M183.2 92.8h0M188.1 86.4h0M205.0 96.7h0M185.6 94.9h0M185.3 92.5h0M193.7 89.3h0M199.8 86.7h0M198.7 94.0h0M188.9 80.6h0M199.2 91.9h0M187.2 87.5h0M209.7 86.6h0M190.6 88.8h0M184.7 98.5h0M185.5 84.9h0M188.3 76.6h0M196.9 91.7h0M198.4 91.1h0M190.2 91.7h0M192.3 74.7h0M191.7 95.8h0M196.9 88.9h0M201.8 87.6h0M187.0 93.8h0M191.5 86.1h0M189.7 89.8h0M200.0 100.7h0M202.9 89.9h0M205.2 93.9h0M210.3 87.4h0M187.5 98.9h0M186.8 92.3h0M200.8 95.4h0M195.1 95.5h0M187.3 86.6h0M198.0 84.8h0M189.1 93.3h0M196.1 94.3h0M193.7 88.7h0M198.1 96.4h0M200.2 69.6h0M202.9 98.7h0M203.1 80.8h0M186.3 81.4h0M193.7 84.6h0M187.6 79.7h0M188.9 81.6h0M194.2 95.2h0M194.4 102.2h0M194.7 76.2h0M186.1 84.9h0M189.5 94.3h0M202.0 84.2h0M193.7 84.3h0M196.2 83.2h0M195.4 88.4h0M205.2 86.2h0M193.4 88.3h0M190.9 97.0h0M195.0 82.4h0M192.3 94.8h0M188.6 81.0h0M185.0 79.9h0M193.0 98.2h0M206.1 90.6h0M202.5 90.9h0M184.0 93.6h0M196.1 99.3h0M206.0 86.6h0M197.2 84.8h0M191.2 77.7h0M199.2 85.1h0M185.2 95.1h0M192.3 93.8h0M206.0 97.9h0M207.2 91.7h0M200.5 74.1h0M199.6 93.3h0M190.9 87.7h0M185.0 93.3h0M201.0 98.7h0M185.3 95.9h0M210.8 96.4h0M185.5 79.2h0M193.4 92.3h0M190.1 84.5h0M204.8 84.0h0M191.5 77.1h0M190.7 95.5h0M179.2 85.1h0M187.4 94.9h0M191.0 87.1h0M199.1 104.1h0M187.5 90.8h0M186.2 82.3h0M192.2 76.4h0M177.3 85.7h0M182.9 90.1h0M195.3 78.2h0M195.8 101.4h0M194.6 87.6h0M187.9 93.6h0M210.2 92.4h0M192.1 95.0h0M198.4 90.3h0M189.1 74.6h0M202.5 85.3h0M185.4 84.8h0M190.1 92.3h0M200.8 75.7h0M202.4 86.6h0M195.6 82.5h0M187.9 82.7h0M199.9 102.1h0M198.0 87.5h0M203.0 95.0h0M193.9 78.5h0M186.3 82.5h0M200.0 86.4h0M195.4 78.3h0M203.5 94.7h0M200.9 101.6h0M200.8 90.9h0M187.9 74.0h0M205.5 98.6h0M202.7 90.1h0M197.3 78.9h0M203.2 83.6h0M191.2 87.8h0M197.2 81.0h0M191.1 91.2h0M184.6 90.5h0M199.3 90.3h0M180.5 88.2h0M189.6 97.7h0M206.5 97.6h0M195.0 78.0h0M187.5 90.9h0M187.2 95.5h0M188.2 86.1h0M201.2 92.6h0M183.9 87.8h0M206.7 96.2h0M192.8 74.1h0M198.0 103.6h0M206.3 83.6h0M196.0 93.9h0M190.8 98.4h0M193.0 75.9h0M193.0 97.2h0M205.4 97.2h0M205.3 90.7h0M205.6 91.7h0M189.2 96.9h0M196.2 75.9h0M195.4 75.4h0M183.2 93.7h0M198.8 86.9h0M190.8 85.0h0M194.1 98.2h0M199.5 99.0h0M200.5 84.1h0M185.2 90.7h0M202.4 93.0h0M197.0 97.7h0M188.5 100.2h0M191.0 80.3h0M197.1 76.2h0M193.5 100.6h0M197.3 81.1h0M200.5 84.2h0M202.3 97.8h0M187.7 81.9h0M185.0 94.1h0M203.8 92.1h0M207.5 93.1h0M202.4 82.1h0M189.1 76.3h0M190.5 87.1h0M209.0 101.6h0M194.5 79.5h0M185.2 93.7h0M190.7 99.3h0M197.1 97.7h0M208.8 83.7h0M192.6 94.1h0M181.0 75.6h0M186.6 96.7h0M200.6 80.0h0M184.2 83.0h0M206.5 91.8h0M204.6 95.9h0M202.3 90.5h0M210.3 94.5h0M195.3 93.2h0M197.0 86.7h0M198.8 101.2h0M192.5 85.0h0M186.7 73.3h0M193.5 93.5h0M192.6 95.9h0M183.5 82.6h0M195.7 84.3h0M205.7 97.6h0M193.1 74.7h0M182.9 87.0h0M185.7 82.5h0M200.6 92.0h0M191.4 88.2h0M205.0 100.0h0M196.7 80.5h0M200.8 96.5h0M211.2 96.7h0M189.9 78.5h0M207.9 100.5h0M186.0 90.2h0M209.5 96.1h0M197.1 92.4h0M195.7 98.7h0M196.5 100.0h0M194.3 86.8h0M190.9 75.3h0M195.2 83.7h0M193.3 78.7h0M191.9 85.4h0M203.1 83.9h0M202.6 90.3h0M198.1 98.9h0M189.8 74.5h0M190.0 100.4h0M191.2 92.8h0M190.9 95.1h0M195.0 94.5h0M207.8 95.7h0M203.6 89.0h0M184.3 80.0h0M199.1 86.1h0M207.7 95.4h0M192.2 76.9h0M196.0 92.5h0M183.7 87.8h0M185.7 87.7h0M204.4 103.6h0M185.4 87.6h0M205.0 103.9h0M206.8 97.2h0M192.0 100.6h0M193.7 92.8h0M187.4 78.6h0M194.6 76.6h0M184.6 85.6h0M188.1 89.4h0M206.4 86.9h0M192.8 92.9h0M204.3 97.3h0M191.4 82.1h0M204.9 93.2h0M188.5 83.0h0M199.1 95.7h0M201.8 96.3h0M189.7 99.5h0M197.2 94.5h0M188.8 92.5h0M189.0 84.1h0M207.5 89.5h0M186.9 87.5h0M187.5 95.4h0M186.9 93.2h0M195.4 86.4h0M199.0 104.2h0M199.0 81.1h0M192.8 79.8h0M198.7 98.9h0M187.0 89.4h0M205.0 85.7h0M194.4 92.6h0M209.1 95.8h0M192.9 96.8h0M190.4 80.0h0M193.9 80.1h0M193.5 82.7h0M194.4 78.0h0M194.0 73.3h0M195.1 101.8h0M184.7 97.8h0M193.2 86.5h0M192.2 91.0h0M191.7 93.2h0M202.2 98.5h0M193.5 95.4h0M185.7 90.2h0M191.1 85.8h0M196.2 85.2h0M188.3 88.1h0M188.6 96.6h0M197.3 99.2h0M198.3 85.9h0M202.0 96.8h0M199.5 102.0h0M190.3 97.0h0M202.3 84.8h0M199.6 95.8h0M201.0 98.6h0M181.8 90.9h0M193.0 90.2h0M194.4 99.9h0M197.2 88.5h0M199.5 101.1h0M185.2 82.2h0M206.1 84.4h0M190.3 98.1h0M200.3 96.1h0M205.0 97.0h0M211.8 98.8h0M201.3 82.4h0M190.9 99.5h0M187.7 88.2h0M210.4 95.8h0M197.5 82.8h0M205.0 87.2h0M187.5 91.8h0M209.4 95.8h0M186.9 85.0h0M202.2 85.6h0M191.2 87.7h0M207.0 93.2h0M198.8 93.3h0M200.1 90.7h0M202.1 90.1h0M199.5 88.5h0M192.6 78.1h0M191.1 86.9h0M192.6 90.2h0M199.4 85.6h0M196.2 94.5h0M186.3 96.1h0M203.8 93.9h0M192.5 76.7h0M189.7 100.4h0M188.4 92.3h0M192.8 100.7h0M182.9 98.8h0M196.0 85.1h0M200.7 90.9h0M189.8 92.0h0M195.5 90.8h0M190.0 91.4h0M205.1 86.5h0M205.5 94.8h0M190.4 84.4h0M202.6 102.9h0M182.2 87.1h0M195.9 98.9h0M194.3 87.4h0M194.6 78.1h0M211.7 96.1h0M204.4 92.9h0M184.3 84.6h0M184.0 81.8h0M205.1 96.3h0M196.1 101.0h0M192.5 98.0h0M206.0 86.9h0M200.9 80.7h0M183.2 84.6h0M198.5 80.5h0M194.4 93.0h0M190.3 87.0h0M191.9 83.5h0M193.9 91.0h0M196.7 100.6h0M192.6 92.8h0M197.6 84.1h0M188.1 85.6h0M198.8 90.5h0M187.3 93.7h0M196.0 74.8h0M193.1 101.0h0M199.0 102.3h0M192.1 77.1h0M202.7 98.4h0M188.8 78.4h0M206.1 97.4h0M188.6 94.3h0M201.6 81.6h0M195.1 95.9h0M187.2 84.9h0M194.3 85.2h0M197.5 98.8h0M202.7 92.5h0M197.3 92.9h0M188.5 93.5h0M204.9 94.7h0M195.4 92.9h0M194.8 95.7h0"/>
<path stroke="#e8c02c" stroke-width="1.0" d="M194.5 115.1h0M198.3 111.6h0M173.0 125.5h0M189.0 101.2h0M174.8 106.6h0M163.5 113.5h0M203.0 102.4h0M167.5 112.5h0M175.1 116.4h0M204.8 103.5h0M169.8 111.8h0M180.7 109.6h0M187.7 117.6h0M184.3 121.2h0M166.1 115.9h0M189.3 124.0h0M185.0 123.6h0M179.4 120.8h0M170.8 112.6h0M188.1 104.8h0M180.4 112.8h0M161.3 113.2h0M186.6 107.2h0M177.9 109.2h0M207.3 107.9h0M207.6 111.4h0M172.8 125.0h0M184.0 119.2h0M172.8 111.0h0M193.7 114.4h0M183.0 113.2h0M175.9 113.9h0M162.3 116.9h0M160.5 118.8h0M172.0 119.0h0M179.8 106.5h0M193.0 112.4h0M183.7 120.7h0M180.4 124.4h0M171.5 110.7h0M202.2 102.8h0M182.4 126.3h0M185.2 125.6h0M173.4 127.4h0M174.2 121.5h0M180.1 123.4h0M178.8 108.2h0M170.6 112.3h0M169.2 122.3h0M204.2 103.1h0M178.3 121.2h0M205.0 105.6h0M190.8 115.9h0M169.8 111.0h0M192.9 114.2h0M194.4 107.8h0M157.1 113.5h0M168.5 117.4h0M193.5 111.6h0M160.7 117.5h0M196.9 109.9h0M176.3 122.5h0M187.0 114.3h0M205.5 106.0h0M199.6 104.5h0M173.2 107.9h0M200.6 116.9h0M164.8 130.3h0M188.8 115.7h0M170.8 123.6h0M187.9 109.8h0M182.5 114.2h0M186.5 113.2h0M194.5 103.9h0M191.4 108.5h0M196.9 107.9h0M197.6 102.4h0M206.2 105.3h0M193.2 117.6h0M200.6 103.4h0M198.4 105.8h0M179.4 115.8h0M194.9 114.8h0M206.3 103.2h0M182.0 117.3h0M175.5 124.6h0M176.4 101.7h0M167.6 123.5h0M186.0 108.9h0M171.1 112.5h0M159.4 113.6h0M184.9 124.0h0M182.9 122.9h0M163.5 123.3h0M169.7 109.7h0M196.3 108.8h0M167.8 116.4h0M168.1 113.2h0M189.8 106.9h0M183.2 113.1h0M203.2 110.5h0M179.8 112.7h0M167.3 116.2h0M161.5 113.8h0M182.5 118.2h0M166.3 110.6h0M196.3 113.5h0M168.2 110.7h0M197.5 116.8h0M177.5 113.9h0M180.8 108.2h0M207.6 111.4h0M199.4 111.8h0M179.8 113.6h0M197.3 112.5h0M191.7 106.1h0M192.6 102.0h0M171.2 125.9h0M192.5 116.5h0M171.7 116.0h0M186.6 101.4h0M157.2 119.1h0M168.6 110.5h0M192.1 122.9h0M197.2 116.7h0M208.1 105.6h0M172.3 111.4h0M178.9 109.0h0M184.9 111.3h0M199.6 115.9h0M191.0 106.7h0M187.4 122.5h0M164.1 118.7h0M188.4 114.7h0M197.4 105.7h0M193.7 119.5h0M183.8 111.5h0M177.3 108.3h0M180.0 104.2h0M197.4 118.6h0M161.1 116.8h0M189.0 126.5h0M179.9 122.6h0M168.1 108.9h0M177.6 117.2h0M172.5 112.2h0M176.4 115.7h0M203.3 114.1h0M190.3 116.6h0M182.6 118.7h0M177.0 123.2h0M187.8 120.5h0M171.9 120.8h0M183.7 123.1h0M202.7 114.2h0M169.6 108.0h0M174.9 125.5h0M178.1 111.4h0M195.9 106.2h0M172.8 106.8h0M161.0 114.4h0M173.4 103.0h0M171.4 124.2h0M173.8 118.3h0M190.7 121.9h0M197.5 122.2h0M181.4 107.8h0M206.6 98.5h0M176.8 125.6h0M206.8 102.9h0M187.8 110.7h0M186.3 125.0h0M163.9 114.4h0M174.4 113.1h0M168.2 109.0h0M185.2 103.4h0M196.4 119.9h0M165.8 121.1h0M164.9 114.0h0M207.4 108.7h0M178.8 115.1h0M200.4 104.3h0M184.1 111.3h0M189.7 112.9h0M173.9 120.3h0M169.5 110.5h0M177.4 110.9h0M193.7 119.6h0M204.0 103.6h0M194.1 106.8h0M204.3 112.0h0M189.6 114.5h0M185.6 106.4h0M193.2 103.1h0M204.3 114.4h0M185.2 103.0h0M162.3 118.0h0M159.3 111.2h0M206.1 104.5h0M196.4 112.9h0M176.5 126.8h0M182.7 116.8h0M169.3 107.1h0M177.5 110.1h0M190.6 104.1h0M187.6 112.9h0M168.2 120.4h0M164.8 111.6h0M167.1 121.0h0M171.2 121.0h0M177.3 105.6h0M183.7 110.2h0M196.4 121.8h0M183.0 119.8h0M198.6 121.0h0M175.4 112.6h0M182.7 112.3h0M181.6 125.3h0M196.6 118.9h0M184.7 119.5h0M188.7 106.9h0M178.9 104.9h0M186.2 124.5h0M177.3 112.2h0M176.5 115.6h0M197.0 122.5h0M170.6 128.0h0M192.0 106.3h0M204.0 109.4h0M163.5 114.6h0M184.9 115.1h0M193.0 106.5h0M205.4 101.1h0M164.3 113.9h0M176.4 115.2h0M162.1 117.4h0M189.8 107.7h0M180.3 113.6h0M189.0 106.4h0M176.3 118.3h0M195.4 115.5h0M178.1 122.2h0M186.9 121.3h0M199.0 106.2h0M192.7 109.3h0M202.6 107.2h0M188.2 108.4h0M180.1 124.6h0M184.6 126.5h0M169.6 121.8h0M193.1 121.2h0M178.1 110.6h0M208.8 107.7h0M206.6 103.2h0M195.1 111.4h0M185.7 113.7h0M171.7 112.3h0M159.9 116.2h0M193.6 121.4h0M199.7 116.5h0M166.2 119.2h0M197.2 106.5h0M180.1 109.6h0M201.9 112.7h0M180.7 113.1h0M179.1 108.5h0M169.5 116.4h0M181.7 110.3h0M180.8 126.0h0M165.2 109.6h0M192.1 117.7h0M195.1 121.0h0M203.5 108.4h0M164.0 120.5h0M196.7 107.2h0M185.5 114.3h0M196.1 111.6h0M193.8 105.7h0M180.9 112.8h0M193.3 110.1h0M181.5 128.7h0M203.1 118.2h0M186.5 119.5h0M202.0 116.9h0M164.5 121.9h0M181.3 105.2h0M200.9 110.5h0M187.5 102.4h0M197.6 107.7h0M197.1 117.2h0M199.6 102.9h0M197.0 102.4h0M178.6 117.2h0M160.6 116.6h0M177.1 107.8h0M184.3 118.7h0M164.7 115.5h0M181.6 118.0h0M183.1 108.9h0M177.4 106.8h0M195.9 103.1h0M171.8 123.3h0M193.2 118.0h0M182.2 104.0h0M173.9 126.1h0M204.6 114.4h0M198.0 113.5h0M194.4 123.2h0M187.2 101.9h0M169.6 109.3h0M186.4 111.6h0M185.0 110.2h0M187.4 114.9h0M193.3 122.7h0M195.2 106.8h0M203.8 103.4h0M173.8 112.9h0M156.2 122.7h0M204.4 103.8h0M169.4 117.2h0M157.1 115.7h0M199.1 107.0h0M192.2 104.0h0M192.4 108.3h0M169.0 121.1h0M208.9 97.6h0M198.5 104.8h0M201.8 110.1h0M169.7 126.6h0M199.4 109.8h0M174.7 121.8h0M174.8 124.7h0M199.1 101.5h0M177.3 110.0h0M175.6 107.2h0M199.3 101.5h0M168.8 109.2h0M203.2 102.7h0M186.7 114.8h0M182.1 125.0h0M171.4 113.1h0M165.5 111.4h0M185.6 119.7h0M193.2 125.6h0M193.7 115.7h0M171.3 120.1h0M175.0 111.0h0M192.4 107.4h0M194.3 114.4h0M198.1 111.2h0M162.6 116.4h0M183.2 114.5h0M163.0 124.2h0M198.2 110.7h0M174.1 114.5h0M187.7 125.6h0M176.3 119.0h0M170.2 120.0h0M185.3 110.7h0M177.4 123.2h0M170.7 112.3h0M190.6 105.5h0M182.7 124.6h0M186.0 110.5h0M186.3 118.5h0M180.8 104.5h0M167.0 127.0h0M173.2 121.7h0M160.0 118.5h0M186.8 117.6h0M184.8 106.9h0M184.3 118.6h0M182.1 115.1h0M192.3 130.0h0M190.3 114.5h0M159.1 118.0h0M172.0 108.7h0M176.5 109.0h0M196.1 105.0h0M180.5 116.1h0M183.8 110.4h0M165.1 116.2h0M184.8 122.9h0M188.1 117.6h0M176.1 119.4h0M170.3 120.1h0M188.4 107.2h0M178.8 96.8h0M201.1 107.0h0M201.3 103.8h0M188.4 116.3h0M157.7 114.9h0M177.5 105.5h0M188.0 113.6h0M192.1 110.6h0M177.3 115.4h0M183.7 109.2h0M177.1 119.8h0M178.0 109.9h0M183.6 110.3h0M188.7 124.3h0M207.5 100.3h0M157.2 115.1h0M164.8 114.1h0M205.8 104.9h0M174.0 116.5h0M198.5 108.0h0M169.8 124.0h0M188.8 103.7h0M200.3 120.1h0M202.5 108.3h0M157.9 113.7h0M171.9 120.0h0M204.2 106.1h0M184.3 107.4h0M198.4 125.6h0M167.3 120.4h0M158.5 115.8h0M183.4 124.0h0M166.9 116.2h0M184.8 109.5h0M175.5 123.1h0M204.6 102.2h0M185.4 124.9h0M180.0 101.3h0M197.1 102.3h0M187.0 106.3h0M194.9 109.6h0M182.9 119.6h0M172.4 114.9h0M183.2 101.0h0M189.8 104.2h0M190.4 124.2h0M188.6 126.2h0M187.7 110.6h0M183.6 124.3h0M199.3 112.9h0M186.2 109.0h0M166.3 113.5h0M161.5 124.0h0M205.5 110.9h0M182.6 113.1h0M167.6 130.4h0M198.6 112.3h0M187.6 124.5h0M190.2 101.9h0M187.1 104.7h0M188.6 118.8h0M199.3 117.9h0M193.2 106.0h0M168.6 106.0h0M190.6 122.7h0M185.0 108.5h0M167.4 120.8h0M173.4 122.2h0M186.2 104.0h0M202.6 113.3h0M207.4 101.5h0M157.0 116.9h0M186.3 120.7h0M185.0 107.1h0M186.6 109.6h0M173.0 113.5h0M204.4 115.2h0M165.4 123.2h0M195.6 120.0h0M190.2 114.9h0M181.3 120.8h0M180.7 111.5h0M170.2 119.4h0M186.2 111.7h0M171.7 123.9h0M181.5 128.7h0M199.2 107.1h0M197.0 109.1h0M179.8 104.4h0M196.7 105.0h0M157.7 114.4h0M166.9 116.3h0M197.8 109.8h0M202.3 106.0h0M185.4 106.7h0M204.2 101.7h0M183.1 117.6h0M196.2 108.0h0M174.1 114.1h0M166.4 122.0h0M184.8 118.9h0M187.9 122.8h0M202.2 109.2h0M196.7 112.7h0M171.6 111.3h0M174.7 127.6h0M195.6 111.7h0M175.2 122.3h0M167.3 108.5h0M195.0 117.1h0M197.9 106.9h0M181.5 111.3h0M174.0 113.3h0M183.5 110.6h0M163.8 116.4h0M182.7 105.4h0M199.7 119.2h0M170.1 118.0h0M197.2 118.3h0M202.6 109.6h0M188.9 114.5h0M202.4 111.7h0M195.8 118.2h0M173.6 108.8h0M157.7 112.1h0M175.6 106.4h0M191.8 126.1h0M189.7 104.8h0M189.1 118.0h0M166.0 117.2h0M180.6 118.8h0M193.3 119.6h0M183.2 102.6h0M162.6 117.5h0M169.0 109.1h0M185.7 127.4h0M206.3 102.9h0M186.9 112.6h0M185.3 121.0h0M183.8 101.7h0M204.9 103.8h0M201.6 107.0h0M181.4 102.7h0M174.4 104.9h0M202.8 110.2h0M192.1 113.9h0M203.2 120.3h0M182.4 102.7h0M201.6 114.0h0M183.8 115.8h0M193.7 112.3h0M169.5 109.3h0M183.2 117.1h0M194.4 110.5h0M162.1 114.9h0M182.2 114.9h0M168.5 110.3h0M158.9 113.7h0M157.5 117.4h0M159.6 118.1h0M175.8 112.9h0M193.5 109.2h0M195.4 104.2h0M180.6 114.7h0M172.3 117.0h0M201.4 111.8h0M182.5 112.7h0M176.5 107.8h0M167.3 118.7h0M178.9 122.5h0M157.7 110.8h0M197.6 118.0h0M187.4 109.5h0M162.1 108.6h0M158.6 115.6h0M170.3 131.7h0M209.6 108.6h0M203.2 111.5h0M195.1 114.2h0M168.8 110.8h0M189.0 118.2h0M201.3 108.9h0M167.3 114.2h0M161.5 113.0h0M195.6 109.1h0M189.3 120.4h0M160.1 114.0h0M206.0 103.7h0M179.2 111.7h0M171.0 117.5h0M197.3 115.5h0M202.1 107.5h0M195.0 111.0h0M188.4 115.5h0M208.6 105.7h0M206.0 105.8h0M198.2 105.1h0M167.7 120.2h0M178.9 101.6h0M167.1 114.2h0M194.7 103.1h0M169.9 123.1h0M172.9 116.7h0M176.5 104.2h0M191.5 104.6h0M195.2 112.8h0M183.4 117.7h0M162.6 109.9h0M189.0 115.4h0M169.5 109.4h0M199.5 114.1h0M197.9 118.0h0M197.0 115.7h0M193.7 123.5h0M188.8 110.5h0M206.9 110.3h0M191.8 101.4h0M188.2 111.8h0M182.4 122.0h0M195.3 108.7h0M182.8 117.4h0M170.1 124.3h0M208.3 102.1h0M181.3 121.6h0M196.1 108.2h0M192.2 102.3h0M204.7 108.9h0M204.1 107.0h0M176.5 120.7h0M167.1 117.5h0M195.7 115.8h0M161.8 115.1h0M192.5 125.9h0M162.4 120.6h0M200.4 106.4h0M179.2 101.3h0M199.2 105.6h0M190.1 125.5h0M174.4 106.2h0M183.6 123.4h0M160.4 116.8h0M184.6 109.5h0M165.3 111.9h0M194.7 111.0h0M179.8 112.2h0M191.3 105.9h0M190.5 112.9h0M188.2 106.2h0M177.2 117.5h0M159.9 114.7h0M167.1 113.8h0M185.7 113.0h0M177.8 117.7h0M179.2 129.0h0M187.3 106.2h0M192.7 110.7h0M163.5 121.6h0M172.9 122.6h0M188.4 107.9h0M194.6 116.6h0M186.6 119.7h0M177.5 117.1h0M178.7 112.6h0M198.5 117.4h0M159.3 114.9h0M170.0 122.6h0M173.4 121.2h0M203.2 106.4h0M189.5 113.4h0M184.8 102.8h0M173.6 113.8h0M184.8 103.8h0M195.7 123.9h0M202.5 108.2h0M192.2 103.7h0M175.7 117.1h0M175.2 111.5h0M204.4 110.8h0M189.0 101.3h0M162.7 122.0h0M186.7 122.0h0M191.7 107.3h0M198.4 113.4h0M185.1 106.7h0M199.9 114.6h0M177.1 104.1h0M188.8 118.1h0M183.4 124.1h0M177.6 113.1h0M170.6 112.3h0M199.5 117.1h0M172.3 125.5h0M164.1 117.7h0M188.2 124.1h0M159.6 117.7h0M179.7 115.9h0M177.1 117.2h0M172.9 125.7h0M173.7 122.4h0M179.5 107.9h0M156.0 115.5h0M196.2 121.1h0M185.4 124.2h0M183.7 108.0h0M162.5 115.1h0M191.7 121.3h0M157.6 116.3h0M194.8 109.4h0M170.2 119.3h0M184.7 104.2h0M176.8 126.0h0M185.3 113.4h0M193.7 118.3h0"/>
<path stroke="#efb9b0" stroke-width="1.0" d="M138.6 105.7h0M132.8 111.1h0M138.5 99.8h0M127.1 107.1h0M136.3 107.4h0M138.3 105.1h0M129.3 105.8h0M148.2 102.7h0M135.1 102.5h0M140.2 109.0h0M142.7 100.0h0M129.8 95.9h0M132.9 110.9h0M142.0 105.2h0M128.9 103.6h0M133.6 108.1h0M132.5 104.3h0M140.2 100.6h0M131.3 106.2h0M140.9 102.7h0M135.3 106.8h0M141.4 105.1h0M138.0 104.8h0M126.8 105.4h0M136.4 102.0h0M129.7 104.0h0M138.4 102.0h0M136.0 109.6h0M142.1 101.7h0M144.1 105.4h0M141.4 99.8h0M132.4 105.1h0M139.4 107.5h0M130.8 108.6h0M132.1 112.2h0M141.2 98.8h0M139.5 104.9h0M134.8 105.3h0M141.1 108.1h0M132.7 110.4h0"/>
<path stroke="#e394c6" stroke-width="1.0" d="M128.4 110.8h0M134.1 114.0h0M117.0 141.5h0M116.5 120.3h0M119.2 130.3h0M124.6 109.9h0M113.9 119.0h0M114.3 130.2h0M133.0 111.2h0M123.0 127.0h0M124.5 118.1h0M127.5 129.3h0M136.1 115.6h0M114.4 113.9h0M128.6 121.1h0M125.1 135.1h0M117.1 134.1h0M113.4 135.7h0M132.6 117.1h0M125.7 113.0h0M131.6 123.1h0M114.6 117.8h0M118.1 133.3h0M111.6 128.1h0M122.5 117.3h0M133.9 115.5h0M121.3 138.6h0M113.7 132.3h0M127.7 129.8h0M134.5 106.0h0M119.8 135.3h0M130.1 109.9h0M119.1 112.8h0M121.2 108.9h0M132.9 109.4h0M122.0 115.4h0M120.9 129.2h0M119.8 139.9h0M114.5 139.8h0M135.4 117.8h0M121.6 130.8h0M117.4 131.7h0M112.8 112.8h0M111.0 110.0h0M124.4 117.3h0M119.0 142.5h0M134.5 118.8h0M115.6 129.9h0M130.5 113.0h0M114.5 109.0h0M137.3 113.3h0M119.6 133.4h0M119.5 143.5h0M124.9 115.4h0M120.3 144.0h0M127.0 137.9h0M121.5 117.7h0M121.4 124.8h0M120.3 138.2h0M115.6 139.7h0M121.5 122.6h0M120.5 137.0h0M124.1 122.9h0M116.6 125.2h0M125.7 121.6h0M122.3 129.2h0M127.2 132.9h0M117.3 122.8h0M116.0 111.8h0M127.7 117.0h0M113.9 115.5h0M120.1 114.6h0M129.4 119.7h0M117.6 140.3h0M120.1 127.5h0M124.1 117.5h0M123.7 115.8h0M116.0 146.7h0M121.2 132.7h0M113.6 117.8h0M124.6 110.8h0M128.3 127.8h0M131.7 112.3h0M119.0 112.1h0M120.3 141.6h0M133.2 113.8h0M120.4 119.3h0M133.3 110.4h0M119.2 137.3h0M120.3 120.9h0M120.6 114.4h0M119.8 109.6h0M133.3 120.2h0M125.4 106.6h0M116.6 136.4h0M140.3 119.3h0M133.6 115.3h0M134.7 121.8h0M116.7 123.5h0M117.3 131.2h0M121.9 141.4h0M117.4 130.5h0M125.7 140.1h0M112.4 126.4h0M113.5 125.1h0M112.4 140.7h0M117.0 131.0h0M128.6 136.5h0M128.9 115.4h0M116.8 140.7h0M121.7 131.0h0M113.1 137.5h0M112.1 115.2h0M113.4 123.7h0M132.4 124.7h0M122.4 139.8h0M118.8 110.7h0M120.8 136.0h0M134.4 125.3h0M112.2 119.3h0M112.5 138.6h0M139.4 115.2h0M124.2 109.7h0M126.6 120.6h0M128.6 122.8h0M113.8 117.9h0M127.2 124.3h0M131.7 117.4h0M133.6 109.3h0M119.9 147.9h0M120.2 140.8h0M131.1 108.2h0M129.0 124.4h0M127.4 125.1h0M120.5 105.5h0M120.8 127.2h0M126.6 109.9h0M119.4 130.3h0M125.5 123.1h0M128.7 122.1h0M133.9 125.4h0M122.3 137.2h0M121.8 120.5h0M132.3 119.5h0M124.8 134.4h0M120.4 133.7h0M112.1 113.5h0M119.1 119.6h0M116.6 139.8h0M114.4 114.8h0M119.5 112.2h0M123.4 127.8h0M117.3 144.5h0M126.4 136.5h0M125.4 121.5h0M124.2 130.4h0M124.0 127.1h0M112.2 126.5h0M117.4 129.5h0M121.6 134.7h0M124.3 111.6h0M114.3 132.1h0M124.5 133.6h0M125.0 114.4h0M118.1 143.3h0M125.0 123.3h0M126.2 124.4h0M126.9 121.2h0M118.4 114.7h0M118.4 134.1h0M124.0 111.5h0M115.8 127.2h0M129.0 106.8h0M130.8 118.0h0M120.9 143.5h0M119.7 121.1h0M135.0 114.6h0M120.2 136.8h0M132.9 117.5h0M109.9 128.9h0M111.3 118.8h0M124.2 113.2h0M112.0 134.7h0M134.7 122.0h0M118.8 132.2h0M117.3 133.8h0M118.6 118.5h0M125.4 126.7h0M130.4 126.0h0M127.2 114.2h0M118.4 119.5h0M131.9 117.6h0M118.9 131.3h0M128.0 135.4h0M120.1 138.5h0M132.7 120.4h0M115.1 115.1h0M115.5 134.6h0M122.8 135.8h0M114.9 128.8h0M115.0 137.3h0M124.7 132.3h0M119.1 119.4h0M131.6 117.5h0M133.0 108.8h0M121.5 119.3h0M114.9 130.7h0M111.5 115.1h0M131.2 112.4h0M114.9 143.1h0M112.7 119.1h0M127.7 136.8h0M114.8 140.1h0M126.9 120.9h0M114.8 128.8h0M122.0 130.1h0M124.9 126.7h0M132.2 131.4h0M119.2 130.0h0M123.6 120.0h0M122.4 116.4h0M133.8 117.9h0M127.1 116.5h0M133.0 116.7h0M118.0 134.0h0M123.1 118.6h0M123.8 122.6h0M132.5 126.2h0M132.4 124.4h0M133.2 123.5h0M118.8 113.0h0M130.0 112.1h0M125.8 113.6h0M123.4 134.0h0M117.4 138.2h0M134.1 114.8h0M127.8 112.0h0M123.1 123.1h0M117.7 131.0h0M135.7 119.7h0M116.4 130.1h0M114.0 117.3h0M132.3 116.0h0M135.2 118.6h0M121.1 135.6h0M130.5 111.5h0M119.3 120.3h0M135.4 121.1h0M118.0 139.5h0M111.2 123.7h0M130.1 120.1h0M123.6 136.5h0M131.4 138.9h0M118.6 125.7h0M128.8 119.4h0M114.8 142.9h0M111.0 116.7h0M115.6 122.9h0M111.2 113.1h0M125.4 118.7h0M112.2 112.3h0M134.5 129.2h0M126.2 111.6h0M122.9 130.7h0M129.4 120.2h0M124.5 109.4h0M117.9 115.7h0M122.4 141.8h0M109.4 117.2h0M111.5 118.8h0M125.5 136.5h0M113.1 134.0h0M124.3 135.1h0M112.9 132.4h0M120.0 139.1h0M125.3 115.3h0M132.3 128.3h0M113.6 121.5h0M112.3 119.6h0M116.8 128.7h0M118.9 134.7h0M117.1 138.2h0M113.6 149.1h0M128.5 119.7h0M116.7 114.0h0M118.5 132.2h0M136.3 116.3h0M126.1 133.5h0M117.0 114.8h0M125.7 132.2h0M110.6 126.2h0M114.1 132.6h0M125.2 126.8h0M115.8 128.1h0M127.6 116.0h0M122.5 126.4h0M132.7 120.9h0M119.0 136.7h0M128.5 118.3h0M123.0 133.3h0M117.7 129.3h0M135.1 112.0h0M116.7 126.8h0M130.1 116.5h0M114.5 137.9h0M123.3 107.4h0M126.6 132.3h0M126.6 133.7h0M116.6 139.0h0M116.8 121.1h0M125.0 129.6h0M118.4 121.4h0M119.4 138.8h0M112.8 122.3h0M122.4 109.1h0M120.4 132.1h0M122.9 117.2h0M124.0 133.5h0M131.2 120.3h0M115.7 139.0h0M114.2 128.1h0M132.9 119.7h0M122.1 119.5h0M112.3 116.3h0M130.0 108.2h0M120.5 125.8h0M121.6 125.1h0M134.0 120.3h0M118.6 112.0h0M109.5 129.8h0M115.7 122.7h0M110.7 112.8h0M127.7 124.6h0M136.7 118.1h0M136.3 109.8h0M119.1 128.9h0M119.7 108.2h0M121.7 124.4h0M130.6 109.5h0M127.4 125.5h0M113.1 124.8h0M127.3 106.8h0M128.9 130.3h0M135.5 125.0h0M116.3 139.6h0M120.8 125.0h0M113.0 124.3h0M117.0 108.4h0M128.7 131.8h0M124.6 117.4h0M136.0 109.4h0M112.8 124.8h0M116.0 122.5h0M113.6 113.9h0M117.2 128.1h0M114.0 135.6h0M111.4 124.6h0M113.9 138.9h0M118.7 110.7h0M130.3 118.1h0M117.3 122.3h0M121.1 121.8h0M114.7 120.6h0M126.9 124.1h0M111.2 133.0h0M130.0 132.6h0M122.4 132.8h0M117.1 138.0h0M124.0 135.6h0M127.7 124.0h0M116.4 117.4h0M130.6 124.6h0M113.9 126.9h0M133.2 113.5h0M121.1 129.4h0M118.6 119.2h0M122.0 114.7h0M114.6 117.2h0M124.9 115.7h0M135.0 120.5h0"/>
<path stroke="#e98a48" stroke-width="1.0" d="M104.0 116.1h0M103.3 114.0h0M104.4 124.0h0M94.1 112.5h0M84.7 125.3h0M86.2 119.5h0M99.6 106.9h0M113.4 122.4h0M104.9 111.6h0M84.6 113.5h0M82.5 125.7h0M107.8 118.7h0M91.0 124.9h0M100.6 111.8h0M110.4 122.9h0M101.9 116.0h0M98.9 121.4h0M77.9 114.1h0M85.1 114.6h0M97.3 121.0h0M104.2 114.4h0M91.5 125.9h0M78.2 111.5h0M98.2 124.7h0M96.4 114.8h0M90.8 130.9h0M105.5 108.3h0M102.5 131.4h0M84.3 117.9h0M98.2 124.4h0M96.1 119.7h0M106.3 111.9h0M89.2 124.5h0M97.7 113.5h0M107.2 119.4h0M87.1 120.3h0M108.3 119.8h0M96.7 114.6h0M86.8 121.6h0M84.9 118.5h0M84.1 120.7h0M96.1 128.3h0M88.2 129.2h0M91.0 126.0h0M91.7 129.2h0M83.6 118.4h0M110.9 121.9h0M92.9 129.8h0M89.7 115.5h0M94.9 123.2h0M90.8 126.9h0M113.0 121.7h0M98.2 114.6h0M101.7 127.1h0M92.3 118.8h0M110.4 115.5h0M93.7 127.2h0M85.6 127.7h0M92.0 125.3h0M82.5 119.3h0M91.0 108.0h0M83.0 117.4h0M89.5 110.3h0M85.2 119.0h0M111.2 123.6h0M111.1 117.8h0M104.5 110.7h0M99.7 127.3h0M88.4 127.4h0M106.4 109.3h0M84.2 117.1h0M84.9 111.3h0M97.7 125.6h0M102.8 125.3h0M92.2 127.9h0M111.6 114.2h0M106.3 122.7h0M106.7 118.6h0M111.3 110.0h0M90.7 115.8h0M77.6 116.2h0M82.6 123.6h0M81.0 112.6h0M108.5 130.2h0M95.0 123.0h0M85.4 115.3h0M107.6 118.8h0M116.1 123.0h0M108.6 112.9h0M106.5 112.9h0M94.3 113.6h0M95.9 108.7h0M105.5 113.6h0M83.4 120.3h0M85.1 124.3h0M86.4 121.3h0M99.9 118.9h0M105.9 124.6h0M93.8 123.0h0M89.7 124.8h0M111.4 113.2h0M98.4 129.2h0M95.9 125.7h0M107.6 118.4h0M100.0 124.8h0M110.8 121.0h0M103.3 106.4h0M86.5 117.3h0M107.0 111.7h0M100.0 108.8h0M88.2 116.0h0M86.7 119.5h0M83.5 122.2h0M93.7 125.8h0M105.4 115.4h0M103.0 114.6h0M106.0 116.2h0M97.4 121.8h0M78.5 114.6h0M82.8 108.5h0M111.4 110.2h0M83.6 117.2h0M99.1 129.3h0M88.8 121.2h0M79.1 110.6h0M84.7 117.6h0M101.2 127.0h0M109.1 127.2h0M85.9 118.0h0M104.0 118.9h0M111.1 120.7h0M81.5 114.1h0M103.0 120.6h0M104.6 129.1h0M90.6 115.9h0M111.3 127.2h0M109.5 109.4h0M111.3 114.6h0M91.2 123.4h0M101.9 115.6h0M83.3 123.5h0M87.8 127.3h0M112.9 116.0h0M112.1 113.1h0M92.5 123.3h0M93.6 120.3h0M103.2 111.4h0M107.1 118.9h0M112.8 118.9h0M100.6 111.9h0M91.0 128.7h0M98.1 121.4h0M87.7 115.6h0M104.2 118.0h0M86.9 122.2h0M115.4 111.3h0M110.2 121.8h0M100.9 121.2h0M113.8 120.5h0M96.7 121.8h0M109.7 120.0h0M105.0 110.3h0M95.1 119.1h0M107.9 113.4h0M82.3 108.7h0M81.2 118.7h0M96.5 130.3h0M91.2 107.3h0M98.4 120.1h0M95.5 121.4h0M98.4 120.9h0M111.7 111.3h0M111.9 110.0h0M89.7 124.3h0M97.0 107.2h0M92.6 124.9h0M110.5 121.7h0M108.3 112.7h0M100.8 121.7h0M111.3 120.3h0M96.7 115.4h0M95.0 109.7h0M102.3 119.2h0M82.2 124.0h0M103.4 125.5h0M93.7 124.3h0M94.7 121.2h0M95.1 107.7h0M106.5 118.2h0M103.4 108.6h0M95.7 110.1h0M94.2 128.3h0M96.1 125.1h0M101.7 113.7h0M89.9 120.9h0M105.5 116.1h0M112.3 114.5h0M88.9 116.0h0M86.0 112.0h0M82.2 121.3h0M83.5 106.6h0M89.5 114.3h0M101.5 130.0h0M86.3 126.3h0M83.0 113.3h0M98.8 118.8h0M100.5 117.7h0M84.8 118.1h0M98.8 126.3h0M109.3 121.4h0M94.1 126.7h0M104.1 106.0h0M80.5 118.7h0M108.2 118.1h0M85.0 120.6h0M112.7 111.3h0M107.0 114.0h0M85.2 124.8h0M105.0 131.5h0M95.8 113.8h0M98.1 113.6h0M84.2 124.0h0M94.1 123.0h0M92.1 110.2h0M87.1 112.0h0M94.9 116.9h0M99.3 127.8h0M98.7 122.0h0M87.3 122.6h0M91.6 120.9h0M99.2 108.4h0M97.3 119.8h0M73.4 114.4h0M99.3 125.1h0M107.8 124.2h0M114.5 118.5h0M100.9 116.7h0M80.2 121.2h0M79.2 121.8h0M99.5 117.8h0M82.9 116.6h0M108.4 121.1h0M112.0 126.2h0M98.5 107.1h0M101.1 125.6h0M90.8 121.0h0M108.1 127.6h0M92.5 121.3h0M100.8 120.7h0M101.7 122.5h0M81.6 118.6h0M90.6 108.7h0M101.8 108.9h0M85.9 112.1h0M93.2 125.3h0M102.0 118.3h0M105.5 122.0h0M91.0 107.8h0M84.7 127.4h0M84.4 122.1h0M83.5 121.0h0M104.3 125.1h0M93.5 113.4h0M90.1 121.1h0M80.3 120.1h0M104.1 127.5h0M79.9 122.1h0M92.0 111.4h0M109.1 108.1h0M106.4 116.4h0M106.8 114.5h0M100.6 132.0h0M84.2 122.4h0M84.1 120.6h0M85.7 128.1h0M84.4 115.9h0M94.3 128.2h0M114.3 122.1h0M92.2 111.8h0M108.9 119.5h0M87.9 112.4h0M93.6 126.0h0M94.6 128.7h0M81.3 122.6h0M96.6 128.4h0M95.8 107.8h0M93.5 124.4h0M103.2 107.0h0M98.2 121.2h0M98.6 125.9h0M98.3 115.4h0M96.4 125.0h0M112.6 109.3h0M107.8 118.0h0M94.6 110.6h0M88.5 115.1h0M99.2 119.0h0M85.9 120.5h0M96.8 128.1h0M100.0 109.2h0M112.2 110.9h0M82.5 117.0h0M95.1 126.3h0M107.0 125.7h0M100.9 127.7h0M80.9 114.5h0M108.5 125.6h0M83.7 111.6h0M110.8 108.7h0M80.8 117.4h0M108.9 114.9h0M109.6 109.2h0M89.9 113.8h0M104.8 109.0h0M113.1 115.6h0M88.9 109.7h0M93.5 109.9h0M109.7 111.7h0M97.4 114.9h0M86.8 121.7h0M90.7 121.3h0M98.8 111.3h0M85.5 117.3h0M109.9 115.7h0M106.5 108.6h0M110.8 126.6h0M78.9 120.1h0M96.6 113.1h0M107.7 118.6h0M108.9 117.5h0M92.9 114.8h0M83.3 113.6h0M93.8 127.8h0M111.4 125.8h0M97.3 123.9h0M82.7 111.4h0M96.9 125.0h0M87.2 112.4h0M105.6 115.5h0M94.1 116.7h0M84.0 113.8h0M87.9 115.1h0M93.2 124.8h0M112.2 115.9h0M111.9 116.7h0M109.1 111.1h0M97.1 128.1h0M94.8 122.8h0M89.7 126.2h0M95.7 132.3h0M94.6 124.5h0M107.5 118.0h0M102.3 119.1h0M85.3 111.9h0M102.3 130.5h0M109.7 109.8h0M81.1 114.6h0M102.5 116.3h0M102.8 124.0h0M82.7 109.0h0M109.3 121.8h0M108.2 114.1h0M107.1 127.9h0M100.9 118.0h0M107.0 127.8h0M111.4 113.9h0M91.8 105.3h0M81.0 122.9h0M100.1 126.6h0M98.2 105.7h0M80.2 122.3h0M80.5 116.1h0M96.9 128.1h0M100.6 120.5h0M83.0 119.0h0M98.7 125.9h0M100.6 114.7h0M78.9 121.6h0M94.9 121.4h0M90.9 113.9h0M111.3 124.1h0M82.8 111.5h0M113.1 108.2h0M103.2 110.7h0M111.2 129.6h0M92.7 114.1h0M80.2 125.1h0M102.1 122.9h0M91.6 122.6h0M93.8 115.2h0M86.7 125.9h0M99.7 105.0h0M115.0 117.4h0M76.6 114.3h0M83.6 121.4h0M114.3 110.6h0M108.8 108.2h0M98.6 126.5h0M84.0 115.8h0M88.1 120.2h0M105.5 124.5h0M94.3 123.1h0M101.2 112.3h0M101.7 119.5h0M90.4 117.0h0M87.2 110.9h0M82.9 120.6h0M97.0 126.9h0M92.7 125.5h0M86.5 119.6h0M107.2 112.1h0M78.9 119.5h0M107.2 112.8h0M92.5 130.8h0M105.0 126.7h0M97.0 107.9h0M85.8 108.4h0M84.0 113.3h0M86.8 119.4h0M108.1 114.6h0M107.5 126.3h0M109.1 110.6h0M104.3 118.8h0M90.2 110.1h0M103.6 132.9h0M85.9 120.0h0M107.2 119.9h0M98.6 108.2h0M93.0 126.8h0M94.9 109.9h0M103.3 118.6h0M97.9 106.2h0M111.1 119.8h0M82.6 117.1h0M113.0 110.8h0M83.7 113.9h0M96.4 116.3h0M107.8 125.4h0M94.1 125.8h0M82.4 117.3h0M84.7 124.6h0M85.3 124.7h0M113.5 112.9h0M105.2 110.0h0M89.3 125.6h0M91.6 120.9h0M85.9 120.4h0M98.0 113.0h0M101.9 111.0h0M113.8 106.5h0M86.3 130.0h0M96.1 117.9h0M87.8 109.6h0M96.9 124.2h0M106.6 119.4h0M86.3 109.5h0M84.6 128.0h0M86.7 111.1h0M97.3 121.0h0M94.0 112.9h0M82.4 116.7h0M80.9 113.7h0M91.5 118.6h0M106.0 114.0h0M86.8 132.0h0M87.7 113.3h0M114.6 114.4h0M93.1 117.5h0M86.7 128.5h0M103.0 110.3h0M100.5 124.6h0M101.5 130.0h0M78.9 101.4h0M98.0 113.0h0M105.3 108.0h0M85.2 109.3h0M98.9 120.1h0M104.9 119.8h0M111.7 122.2h0M105.9 109.8h0M93.9 115.2h0M95.6 110.8h0M86.6 117.4h0M111.6 119.3h0M83.9 111.4h0M107.4 122.4h0M109.1 113.0h0M90.4 114.9h0M112.6 119.2h0M106.5 126.3h0M79.9 117.4h0M112.0 111.7h0M96.1 124.5h0M89.4 127.5h0M88.5 116.5h0M95.8 126.7h0M97.9 116.6h0M109.7 115.0h0M95.1 129.5h0M80.3 120.6h0M113.6 119.3h0M105.5 126.8h0M111.6 119.4h0M80.5 117.2h0M103.3 112.9h0M106.2 129.6h0M113.4 107.6h0M111.0 125.6h0M102.9 122.5h0M97.6 113.1h0M106.7 122.0h0M91.1 124.5h0M82.2 120.8h0M108.7 110.5h0M106.6 111.2h0M102.9 128.0h0M87.8 122.6h0M104.0 126.3h0M101.3 110.0h0M95.8 121.0h0M82.7 108.6h0M99.5 129.6h0M85.8 110.1h0M95.8 124.2h0M109.9 119.9h0M90.5 110.4h0M95.6 123.2h0M83.1 114.8h0M97.1 118.2h0M100.9 115.0h0M93.4 109.0h0M84.5 120.6h0M98.7 124.7h0M102.0 117.2h0M97.5 108.3h0M111.5 109.2h0M105.1 113.7h0M104.8 117.9h0M95.7 119.2h0M82.1 110.4h0M86.8 110.0h0M107.3 110.9h0M103.6 108.9h0M83.0 122.9h0M89.8 107.0h0M94.8 129.3h0M107.6 109.9h0M95.0 112.1h0M97.5 117.5h0M111.1 111.9h0M102.0 109.8h0M113.1 115.7h0M91.1 114.9h0M112.9 123.0h0M112.1 126.3h0M82.7 125.3h0M83.1 125.7h0M87.0 119.5h0M85.0 116.3h0M99.3 129.0h0"/>
<path stroke="#f0a3a0" stroke-width="1.0" d="M116.2 119.2h0M90.2 131.1h0M89.7 130.6h0M93.6 148.0h0M108.3 142.2h0M105.2 150.1h0M98.1 155.6h0M114.7 125.5h0M91.2 130.3h0M123.0 132.2h0M101.5 154.9h0M81.4 148.1h0M102.5 137.0h0M96.8 141.3h0M72.0 141.0h0M93.3 147.7h0M95.8 139.0h0M106.1 141.4h0M117.1 122.7h0M115.4 130.8h0M115.6 118.2h0M78.0 155.0h0M108.7 133.6h0M90.1 156.0h0M77.4 149.9h0M101.1 131.8h0M84.3 153.4h0M98.6 156.7h0M83.8 142.8h0M123.4 128.2h0M115.2 122.3h0M103.2 129.1h0M88.1 133.8h0M77.2 154.9h0M101.9 124.9h0M112.2 154.0h0M78.1 154.4h0M112.0 131.4h0M98.9 141.5h0M82.7 142.7h0M98.5 140.8h0M97.4 144.8h0M85.6 133.1h0M76.1 139.2h0M96.2 139.3h0M118.7 132.2h0M95.4 141.1h0M112.4 137.0h0M121.3 138.4h0M106.0 142.5h0M84.7 130.9h0M109.6 136.2h0M97.1 128.8h0M122.3 127.9h0M74.2 144.6h0M118.0 143.8h0M111.5 149.0h0M88.7 129.9h0M125.8 135.6h0M75.1 130.1h0M93.8 138.4h0M105.1 132.1h0M94.3 152.1h0M99.7 132.1h0M109.3 128.0h0M122.6 125.3h0M79.6 134.8h0M99.5 134.4h0M105.4 135.3h0M98.2 152.3h0M91.4 151.3h0M120.5 125.9h0M111.0 156.9h0M116.1 125.8h0M103.3 146.3h0M103.4 126.0h0M105.6 143.4h0M102.5 140.6h0M74.7 149.1h0M106.7 132.0h0M92.1 134.4h0M116.4 137.4h0M103.2 142.7h0M110.1 154.6h0M93.7 154.6h0M113.3 132.1h0M122.0 147.4h0M116.6 119.7h0M114.8 158.2h0M100.8 132.1h0M114.4 154.9h0M104.8 147.1h0M112.8 145.9h0M109.1 139.8h0M82.1 128.6h0M109.8 152.5h0M125.0 134.7h0M112.5 138.3h0M83.3 127.5h0M93.5 146.6h0M101.2 128.1h0M106.7 143.2h0M103.0 140.3h0M93.3 130.9h0M92.6 137.5h0M89.6 130.3h0M122.2 136.3h0M90.4 141.4h0M93.2 154.9h0M78.9 141.5h0M94.6 141.6h0M108.3 139.7h0M116.9 139.6h0M93.7 157.2h0M107.7 145.7h0M112.4 142.4h0M113.2 151.6h0M77.0 141.9h0M120.8 133.4h0M107.2 148.9h0M84.4 147.1h0M90.4 143.2h0M84.2 148.3h0M118.1 149.7h0M112.2 139.9h0M75.8 148.2h0M107.8 137.1h0M92.2 129.9h0M118.6 125.4h0M124.6 138.5h0M110.8 127.1h0M90.9 151.7h0M100.9 126.2h0M109.3 140.3h0M118.3 138.0h0M98.0 146.9h0M104.6 158.7h0M117.8 120.6h0M94.7 134.6h0M81.4 144.2h0M115.8 135.3h0M87.7 130.8h0M118.8 148.2h0M80.6 148.1h0M117.2 140.0h0M77.6 150.4h0M83.9 128.4h0M121.5 137.1h0M106.8 149.0h0M93.4 129.9h0M113.9 140.2h0M121.2 144.2h0M110.5 124.9h0M114.5 133.6h0M99.3 158.1h0M95.2 152.5h0M111.9 134.9h0M101.9 147.1h0M119.7 131.4h0M102.5 154.9h0M118.0 131.6h0M119.4 137.9h0M74.7 138.5h0M100.4 132.0h0M92.5 144.2h0M101.5 138.1h0M89.2 139.9h0M105.8 131.6h0M108.1 135.5h0M93.9 141.7h0M84.3 138.0h0M77.6 139.7h0M118.5 125.5h0M86.1 153.3h0M112.4 149.8h0M106.8 138.9h0M90.4 152.4h0M95.4 146.5h0M76.6 154.2h0M79.9 141.5h0M88.2 146.5h0M105.7 132.7h0M116.3 143.0h0M83.7 151.8h0M120.8 144.4h0M104.4 128.1h0M72.7 140.8h0M86.8 149.3h0M80.1 133.9h0M94.5 138.2h0M114.0 152.2h0M101.7 139.2h0M81.4 153.0h0M117.6 133.8h0M96.8 134.8h0M114.1 134.7h0M123.5 138.8h0M114.7 142.7h0M114.6 145.8h0M111.0 149.5h0M118.7 119.5h0M110.3 137.7h0M116.5 134.0h0M88.9 155.2h0M82.3 145.7h0M105.0 136.9h0M85.0 145.8h0M77.6 142.5h0M121.5 134.6h0M105.8 139.3h0M95.1 147.9h0M107.2 132.5h0M119.2 124.1h0M74.4 143.8h0M120.6 120.8h0M101.5 151.7h0M110.8 134.5h0M118.9 146.8h0M102.5 133.6h0M116.0 127.9h0M85.1 145.8h0M92.9 145.4h0M85.4 136.0h0M109.5 133.1h0M117.4 144.0h0M86.6 130.8h0M116.5 147.5h0M84.3 151.7h0M117.4 140.7h0M71.0 149.0h0M93.4 159.2h0M88.8 138.4h0M75.9 137.7h0M83.0 133.1h0M97.2 134.5h0M97.4 153.9h0M90.3 150.5h0M105.5 144.3h0M88.4 139.4h0M120.0 152.9h0M101.1 155.5h0M116.6 145.0h0M115.5 121.5h0M97.7 146.7h0M101.9 144.7h0M101.0 154.1h0M106.4 136.9h0M95.5 141.1h0M86.0 132.8h0M101.5 153.1h0M93.6 130.9h0M74.1 147.8h0M117.6 138.1h0M120.1 144.3h0M79.4 134.4h0M99.8 133.6h0M89.8 139.4h0M98.1 133.2h0M110.9 135.7h0M104.1 131.8h0M91.6 145.3h0M121.1 133.5h0M107.4 158.3h0M89.2 156.3h0M103.7 137.1h0M109.4 154.7h0M120.7 124.6h0M96.2 139.8h0M90.4 153.7h0M81.0 132.0h0M111.7 145.4h0M89.6 145.3h0M82.6 140.0h0M121.1 134.1h0M117.1 119.6h0M100.6 137.4h0M95.0 131.9h0M85.5 151.5h0M117.0 125.4h0M122.9 138.0h0M87.2 129.7h0M80.0 140.4h0M117.3 127.9h0M120.8 124.6h0M87.5 157.4h0M66.1 158.9h0M86.3 149.4h0M123.9 128.9h0M91.1 133.6h0M80.1 143.5h0M93.2 145.3h0M75.6 147.7h0M100.7 133.8h0M115.4 146.2h0M106.0 127.4h0M97.2 131.7h0M109.0 137.4h0M114.0 134.3h0M75.2 141.2h0M96.7 133.1h0M97.1 146.5h0M97.3 149.9h0M119.4 154.1h0M119.8 130.1h0M75.2 135.3h0M91.9 151.5h0M101.7 144.7h0M113.0 147.9h0M118.7 148.2h0M108.0 148.0h0M105.1 128.6h0M106.1 132.3h0M102.4 154.3h0M104.2 127.2h0M102.0 150.7h0M85.8 135.6h0M99.6 127.3h0M97.1 131.5h0M88.5 146.3h0M82.3 132.9h0M71.8 149.1h0M76.2 151.3h0M115.5 122.5h0M98.2 155.1h0M94.2 144.4h0M121.0 141.0h0M70.4 150.3h0M121.7 128.7h0M115.6 123.1h0M109.8 135.2h0M87.9 138.5h0M97.4 132.3h0M126.8 135.2h0M81.8 146.2h0M100.8 141.6h0M123.0 132.8h0M80.1 144.0h0M87.2 145.0h0M112.9 153.5h0M99.3 150.3h0M98.7 136.0h0M109.8 134.2h0M114.0 139.4h0M120.3 124.7h0M103.0 131.5h0M121.8 136.7h0M108.6 135.6h0M112.5 132.4h0M90.9 129.8h0M116.3 150.8h0M81.9 142.5h0M118.5 138.6h0M114.4 120.7h0M90.1 140.3h0M77.2 142.8h0M113.1 152.1h0M90.0 135.4h0M121.9 127.9h0M91.5 154.5h0M73.0 146.4h0M124.8 130.6h0M110.2 154.1h0M93.0 151.8h0M106.2 151.2h0M79.6 144.9h0M106.2 149.1h0M103.3 146.7h0M113.5 135.2h0M97.1 147.6h0M125.8 126.1h0M123.6 137.7h0M109.0 131.3h0M95.2 137.5h0M106.4 147.0h0M78.8 132.6h0M80.4 142.5h0M113.1 124.9h0M94.5 145.1h0M76.3 145.4h0M117.9 147.5h0M101.7 128.2h0M112.9 152.9h0M82.8 134.6h0M89.8 152.7h0M90.0 135.0h0M113.1 151.6h0M117.8 127.0h0M112.0 135.2h0M107.5 155.0h0M101.2 141.3h0M89.2 155.4h0M94.2 140.9h0M103.6 135.6h0M75.7 144.6h0M114.2 133.3h0M90.5 144.4h0M109.1 129.9h0M81.8 129.4h0M96.6 128.0h0M99.5 134.4h0M116.9 127.3h0M84.7 149.0h0M109.5 139.9h0M117.3 125.2h0M81.4 138.8h0M110.9 135.6h0M119.4 138.0h0M118.2 139.5h0M116.2 139.4h0M99.4 132.4h0M100.1 137.7h0M84.5 150.3h0M108.6 157.6h0M112.7 155.9h0M113.7 130.9h0M108.4 124.3h0M101.6 146.2h0M107.8 137.4h0M126.8 128.0h0M76.5 151.0h0M95.7 143.2h0M114.8 140.1h0M80.6 143.5h0M109.9 131.0h0M77.8 140.9h0M113.0 129.5h0M99.9 142.3h0M111.7 149.4h0M84.4 134.7h0M80.0 138.2h0M93.0 146.6h0M97.3 135.6h0M96.7 130.3h0M91.2 128.1h0M111.5 122.8h0M96.6 135.4h0M73.4 151.3h0M86.8 140.1h0M117.5 143.7h0M110.4 138.2h0M118.6 131.8h0M117.5 148.4h0M116.2 119.5h0M121.2 136.3h0M93.6 132.1h0M123.6 135.1h0M105.0 155.9h0M80.3 132.9h0M115.1 149.5h0M102.7 123.3h0M103.4 141.5h0M125.9 133.5h0M115.1 149.3h0M112.3 148.3h0M112.5 153.1h0M82.7 125.5h0M110.6 136.1h0M77.3 131.2h0M76.5 142.5h0M84.9 141.7h0M101.0 129.2h0M97.9 154.5h0M104.6 135.7h0M121.4 126.6h0M97.5 149.5h0M83.8 143.5h0M80.5 142.9h0M112.8 136.5h0M118.5 133.7h0M102.4 139.1h0M86.2 144.5h0M102.5 143.8h0M114.4 122.1h0M116.4 149.5h0M89.2 155.3h0M97.1 155.8h0M94.4 128.8h0M92.6 141.2h0M79.5 136.6h0M91.2 142.2h0M124.9 126.7h0M83.1 146.5h0M98.2 143.2h0M104.8 131.6h0M99.9 150.8h0M120.0 133.0h0M99.2 141.3h0M75.2 146.8h0M82.7 141.7h0M112.3 157.3h0M92.1 133.0h0M115.0 156.5h0M93.9 138.2h0M102.9 151.1h0M97.5 130.0h0M83.2 137.5h0M95.5 157.1h0M103.0 142.7h0M101.1 150.0h0M103.9 156.6h0M98.6 139.3h0M91.1 147.9h0M90.3 142.7h0M94.1 135.1h0M116.3 124.7h0M122.4 140.1h0M99.7 133.1h0M72.7 149.9h0M114.2 131.5h0M101.0 145.3h0M80.9 138.8h0M104.3 154.0h0M117.4 140.1h0M110.5 127.1h0M81.5 141.2h0M96.2 137.0h0M118.9 151.4h0M87.7 145.7h0M116.2 148.0h0M109.4 155.4h0M104.2 136.5h0M94.3 135.1h0M108.3 149.6h0M109.9 138.3h0M78.3 124.4h0M93.3 132.9h0M112.5 154.8h0M95.2 129.4h0M102.5 150.1h0M107.1 156.6h0M93.5 138.4h0M106.9 137.3h0M110.3 135.9h0M102.6 136.2h0M116.4 142.0h0M86.7 145.8h0M87.4 155.2h0M83.7 141.3h0M100.8 139.6h0M109.9 143.8h0M109.6 157.8h0M93.2 140.0h0M122.8 123.2h0M100.3 129.2h0M86.4 147.0h0M115.9 134.4h0M112.8 151.8h0M90.8 147.9h0M117.9 122.6h0M76.3 137.4h0M109.3 141.3h0M116.6 152.7h0M88.1 150.5h0M85.1 144.9h0M90.3 150.1h0M103.8 150.1h0M80.4 132.3h0M91.4 150.5h0M91.1 143.9h0M122.2 146.6h0M98.4 147.7h0M94.9 157.3h0M101.6 140.9h0M120.9 142.7h0M110.0 141.3h0M109.4 147.3h0M88.6 145.0h0M97.5 127.8h0M79.5 139.9h0M74.9 145.6h0M116.7 137.9h0M81.6 136.7h0M111.7 122.9h0M97.4 160.9h0M109.1 136.8h0M100.2 132.3h0M108.4 148.2h0M88.6 154.5h0M87.8 154.0h0M96.0 156.3h0M111.1 130.0h0M102.9 148.5h0M85.7 136.6h0M120.1 127.1h0M96.9 148.6h0M104.0 144.5h0M105.9 138.3h0M75.1 142.9h0M119.4 119.8h0M115.8 124.7h0M102.4 128.6h0M90.8 142.4h0M116.5 153.3h0M91.6 154.9h0M90.1 145.1h0M99.9 130.0h0M108.2 132.4h0M79.1 137.1h0M112.2 155.2h0M105.2 135.8h0M81.8 140.7h0M111.7 132.4h0M107.9 149.1h0M112.2 135.8h0M94.2 158.0h0M101.9 133.7h0M112.0 144.3h0M101.0 147.4h0M93.6 143.3h0M92.4 132.9h0M108.9 153.7h0M88.7 143.8h0M115.5 122.1h0M119.2 137.3h0M121.8 139.1h0M97.5 150.6h0M81.9 134.1h0M79.5 142.9h0M78.0 145.0h0M104.1 155.8h0M104.2 133.1h0M111.6 139.6h0M117.4 128.0h0M83.6 148.3h0M97.9 138.8h0M89.8 153.6h0M93.0 153.3h0M98.3 135.2h0M110.1 142.9h0M108.2 127.5h0M93.6 156.1h0M106.7 129.8h0M90.8 138.7h0M89.8 133.1h0M97.0 152.7h0M115.6 147.2h0M121.2 143.3h0M92.5 134.7h0M95.3 142.6h0M116.6 124.8h0M116.2 136.7h0M109.9 127.7h0M107.4 140.5h0M95.2 140.2h0M107.9 153.8h0M102.3 148.9h0M101.6 154.6h0M118.9 149.9h0M84.4 144.1h0M103.0 153.9h0M100.7 137.6h0M90.5 151.2h0M90.3 151.0h0M107.5 129.5h0M102.6 146.3h0M120.1 135.4h0M104.7 157.5h0M94.2 146.6h0M81.3 153.4h0M117.8 122.7h0M95.3 149.5h0M119.4 129.0h0M103.5 127.2h0M117.1 122.1h0M76.2 153.6h0M102.3 155.3h0M104.7 155.7h0M117.7 145.7h0M108.5 154.3h0M119.4 125.8h0M103.0 135.4h0M89.5 154.1h0M115.8 148.5h0M86.5 152.1h0M106.0 144.9h0M84.7 133.0h0M92.1 156.1h0M96.6 139.8h0M115.1 157.2h0M121.7 142.1h0M111.1 153.8h0M115.7 118.9h0M116.7 133.0h0M111.4 137.2h0M120.6 139.5h0M112.1 132.4h0M108.5 137.6h0M118.1 152.4h0M129.0 132.0h0M110.5 146.9h0M113.3 129.5h0M109.7 161.3h0M116.6 137.3h0M90.5 142.3h0M98.7 144.2h0M112.8 137.4h0M78.2 152.3h0M76.8 138.0h0M87.8 157.4h0M112.7 132.3h0M105.7 126.2h0M110.7 158.9h0M100.4 156.4h0M75.1 144.6h0M111.7 121.4h0M94.9 143.8h0M79.8 138.2h0M103.7 140.2h0M112.8 140.3h0M100.1 129.7h0M120.2 143.0h0M97.8 137.2h0M116.8 130.3h0M82.5 145.8h0M103.6 127.7h0M73.0 151.2h0M107.9 131.8h0M89.5 151.1h0M92.4 152.9h0M101.6 133.4h0M92.0 149.0h0M99.4 157.9h0M113.7 119.0h0M87.6 155.8h0M79.6 139.0h0M88.2 133.2h0M121.1 137.8h0M81.2 142.4h0M71.8 151.1h0M117.4 149.4h0M110.4 125.6h0M92.4 133.6h0M82.6 141.9h0M107.3 145.2h0M94.9 147.5h0M104.8 151.7h0M85.6 142.0h0M105.6 147.3h0M120.0 129.7h0M81.8 126.5h0M78.4 131.9h0M119.3 137.0h0M107.8 154.0h0M89.7 156.4h0M96.0 136.0h0M100.6 147.0h0M98.8 136.8h0M85.6 148.5h0M96.7 138.7h0M119.0 144.8h0M83.1 141.0h0M104.5 148.0h0M118.4 132.3h0M117.6 138.7h0M81.1 144.3h0M119.4 144.0h0M110.0 144.7h0M89.0 137.8h0M85.6 150.7h0M117.2 137.3h0M86.6 131.8h0M122.8 136.4h0M105.3 155.6h0M106.3 152.6h0M91.4 138.4h0M109.6 128.2h0M112.2 148.1h0M113.1 122.4h0M115.3 140.4h0M120.9 142.8h0M94.2 157.2h0M89.2 153.1h0M108.1 127.4h0M87.7 136.5h0M111.5 145.1h0M105.2 134.0h0M96.1 132.4h0M111.5 125.3h0M80.5 153.4h0M100.5 153.4h0M124.7 126.4h0M77.9 148.4h0M110.8 133.1h0M75.6 142.7h0M100.2 155.7h0M82.1 141.9h0M99.4 129.9h0M105.5 144.7h0M94.7 149.0h0M119.5 149.1h0M109.3 122.7h0M109.7 144.3h0M126.4 132.4h0M105.0 141.2h0M88.8 139.0h0M110.3 121.6h0M83.7 146.1h0M84.1 130.6h0M107.6 154.8h0M83.1 145.9h0"/>
<path stroke="#e0609a" stroke-width="1.0" d="M96.6 156.1h0M102.0 161.3h0M92.6 160.8h0M74.2 167.4h0M102.3 161.2h0M66.7 166.3h0M105.1 158.7h0M63.5 160.9h0M82.4 154.3h0M81.0 162.1h0M82.3 157.3h0M66.7 164.0h0M91.8 170.5h0M94.5 176.4h0M100.8 166.1h0M69.6 168.5h0M85.0 173.8h0M79.9 177.2h0M86.2 166.9h0M100.9 160.1h0M80.8 172.9h0M82.9 164.7h0M95.1 175.8h0M96.5 154.7h0M75.8 155.6h0M83.7 174.1h0M90.5 161.2h0M76.2 160.0h0M76.7 156.4h0M74.6 166.1h0M102.6 174.2h0M103.9 167.7h0M92.1 167.8h0M95.6 155.9h0M90.0 174.7h0M80.6 175.1h0M97.0 157.3h0M99.6 155.4h0M100.9 170.4h0M83.8 174.9h0M95.1 157.8h0M69.0 167.9h0M100.3 164.8h0M90.2 168.8h0M89.1 155.7h0M96.0 169.2h0M73.4 162.5h0M95.6 155.1h0M68.6 163.5h0M97.7 170.7h0M76.0 164.7h0M80.3 156.6h0M94.8 172.3h0M69.4 169.5h0M96.5 155.4h0M88.0 160.0h0M77.2 174.4h0M62.7 169.1h0M78.0 156.1h0M98.0 176.1h0M69.3 172.9h0M91.9 177.1h0M82.8 157.7h0M97.1 161.1h0M73.0 159.0h0M84.5 160.9h0M77.5 170.9h0M91.9 173.0h0M86.6 165.6h0M100.6 169.8h0M72.0 161.2h0M78.9 160.9h0M74.2 173.9h0M80.6 172.0h0M105.9 161.0h0M89.3 168.6h0M68.8 163.8h0M77.5 161.1h0M60.2 160.9h0M80.4 155.4h0M83.2 164.9h0M94.7 162.5h0M88.6 155.1h0M86.6 173.0h0M103.3 164.4h0M62.9 158.9h0M72.0 170.5h0M78.4 171.3h0M79.3 157.7h0M73.1 159.8h0M95.8 175.6h0M62.2 163.0h0M104.3 163.3h0M107.5 157.5h0M82.4 177.9h0M110.7 159.1h0M82.7 162.3h0M104.2 166.0h0M76.2 169.2h0M94.1 156.7h0M112.4 157.0h0M70.4 163.9h0M100.2 157.4h0M98.0 163.1h0M71.6 166.5h0M83.0 164.6h0M76.6 161.5h0M101.8 169.0h0M85.1 177.2h0M79.5 169.8h0M85.1 154.4h0M81.1 166.7h0M94.7 158.9h0M100.1 168.4h0M102.4 170.9h0M74.9 174.7h0M108.2 158.1h0M91.3 161.2h0M100.0 155.6h0M105.2 163.5h0M96.7 155.4h0M63.6 169.1h0M101.8 172.9h0M94.1 154.3h0M80.5 159.5h0M78.2 159.6h0M69.9 173.9h0M94.7 173.8h0M103.5 165.7h0M107.2 156.4h0M96.5 161.0h0M76.4 161.7h0M74.5 175.5h0M78.1 171.5h0M99.9 157.8h0M81.1 153.8h0M101.5 170.5h0M82.1 174.0h0M103.7 158.6h0M83.6 159.7h0M71.7 163.7h0M90.8 169.6h0M92.8 161.6h0M69.5 172.8h0M68.1 173.2h0M95.9 157.1h0M87.9 174.2h0M85.9 174.5h0M96.4 156.9h0M66.8 170.0h0M72.1 168.6h0M83.9 177.9h0M69.5 170.2h0M84.9 168.2h0M85.4 175.4h0M110.6 160.3h0M105.7 158.2h0M85.2 156.9h0M100.3 156.4h0M94.1 160.8h0M65.5 171.0h0M93.9 169.5h0M100.6 158.8h0M84.8 168.7h0M74.6 164.2h0M79.6 174.1h0M88.8 165.9h0M98.3 167.2h0M83.3 175.1h0M82.0 165.6h0M69.2 166.2h0M76.9 158.6h0M69.2 164.1h0M68.6 166.0h0M79.6 172.0h0M83.8 174.6h0M90.8 166.4h0M87.1 175.4h0M107.2 161.6h0M99.9 172.7h0M105.9 158.5h0M94.5 164.1h0M79.9 169.0h0M76.6 164.5h0M92.8 162.4h0M83.3 158.5h0M106.7 168.6h0M111.8 158.0h0M89.8 156.0h0M72.0 169.2h0M78.2 169.3h0M87.1 168.2h0M91.3 173.4h0M98.7 165.9h0M85.2 165.4h0M81.4 174.5h0M90.0 165.8h0M77.5 165.7h0M77.7 171.3h0M71.2 167.0h0M97.8 167.4h0M93.4 164.9h0M104.9 156.4h0M97.7 165.0h0M98.7 158.5h0M88.9 167.5h0M101.4 157.6h0M96.2 157.9h0M77.9 175.4h0M62.2 168.0h0M89.5 175.3h0M86.7 177.2h0M99.5 160.4h0M67.4 162.2h0M103.9 160.7h0M97.7 158.3h0M66.9 168.1h0M78.1 170.8h0M92.1 159.6h0M71.8 174.0h0M94.1 176.2h0M83.7 165.2h0M103.3 162.2h0M94.0 174.8h0M72.4 159.3h0M81.9 173.6h0M71.1 173.0h0M95.5 159.4h0M92.0 174.2h0M63.9 162.7h0M78.9 162.1h0M96.6 159.4h0M99.4 160.0h0M71.6 168.6h0M107.5 165.6h0M88.1 167.3h0M89.7 159.4h0M73.7 168.6h0M96.3 161.2h0M94.4 163.8h0M73.7 161.1h0M102.9 167.0h0M107.8 154.2h0M95.8 163.9h0M74.9 161.1h0M77.2 172.5h0M101.8 159.9h0M84.2 157.0h0M68.8 163.4h0M83.2 168.7h0M109.1 160.4h0M90.8 157.6h0M83.4 163.0h0M66.2 165.3h0M97.2 161.8h0M91.9 160.7h0M83.3 176.5h0M109.0 157.8h0M62.2 161.4h0M76.1 168.2h0M80.4 177.8h0M100.9 161.5h0M81.3 159.0h0M88.2 158.3h0M108.7 162.2h0M99.3 159.9h0M91.9 172.5h0M88.1 168.2h0M101.3 158.0h0M70.7 169.2h0M87.5 173.0h0M84.8 163.5h0M91.3 159.8h0M69.7 170.9h0M93.7 165.1h0M104.8 170.9h0M109.3 157.0h0M79.7 169.8h0M107.4 160.5h0M110.1 162.9h0M75.0 159.5h0M110.4 155.2h0M85.8 175.3h0M111.6 163.9h0M88.9 179.5h0M93.9 169.5h0M63.1 161.2h0M107.0 161.6h0M91.3 163.5h0M78.1 167.4h0M106.8 156.6h0M78.7 162.1h0M93.5 168.7h0M101.7 160.1h0M92.7 173.4h0M88.0 163.6h0M95.8 163.5h0M82.9 175.9h0M109.0 159.9h0M68.8 172.1h0M82.6 160.7h0M100.1 170.3h0M92.8 170.1h0M71.3 172.0h0M97.8 167.4h0M95.7 174.7h0M69.8 173.2h0M83.0 179.3h0M86.6 152.7h0M92.4 170.2h0M73.8 156.8h0M96.3 157.6h0M99.5 152.6h0M102.0 160.9h0M76.7 155.3h0M80.8 155.8h0M85.2 168.9h0M91.7 156.7h0M75.9 159.7h0M84.8 168.3h0M93.5 174.5h0M72.4 160.9h0M73.6 159.1h0M83.3 179.4h0M79.9 159.6h0M64.9 169.1h0M110.8 161.0h0M104.6 169.0h0M86.5 172.1h0M101.7 171.4h0M81.1 163.1h0M109.1 162.0h0M83.8 158.7h0M84.3 153.7h0M96.4 173.3h0M82.2 179.0h0M80.5 158.3h0M95.3 156.0h0M96.4 156.2h0M86.3 166.6h0M77.5 166.4h0M92.2 169.9h0M81.1 165.6h0M68.9 169.5h0M90.8 158.6h0M101.5 170.3h0M100.2 172.8h0M90.9 159.0h0M87.2 172.3h0M95.6 171.2h0M70.7 162.7h0M79.9 157.8h0M71.4 170.5h0M64.8 161.0h0M84.2 172.9h0M94.0 167.7h0M72.9 163.1h0M89.7 168.1h0M108.1 158.5h0M106.2 162.9h0M86.4 159.9h0M85.6 178.9h0M70.8 165.5h0M87.7 172.3h0M94.4 174.8h0M104.0 166.5h0M78.7 158.3h0M89.1 157.5h0M91.6 161.4h0M71.7 161.5h0M88.9 156.7h0M91.0 158.6h0M95.2 154.2h0M67.2 174.4h0M95.6 162.7h0M70.9 164.2h0M79.5 174.7h0M94.2 164.7h0M89.4 166.0h0M96.3 162.1h0M101.2 159.5h0M71.7 159.8h0M78.4 165.3h0M108.1 157.9h0M76.7 170.0h0M92.5 157.4h0M65.4 159.2h0M109.1 164.2h0M64.5 157.3h0M66.9 162.5h0M95.5 171.6h0M65.2 162.6h0M94.0 169.7h0M88.4 161.5h0M90.9 157.2h0M86.1 165.9h0M71.8 163.2h0M97.7 172.1h0M94.2 167.2h0M101.1 163.2h0M68.7 166.4h0M83.1 173.3h0M76.2 155.7h0M84.3 175.6h0M91.5 170.6h0M65.5 171.3h0M68.3 161.1h0M70.9 168.6h0M75.6 171.1h0M95.3 157.3h0M73.1 160.7h0M83.2 178.2h0M71.9 166.2h0M83.2 172.9h0M86.5 174.9h0M81.0 166.6h0M71.6 166.6h0M91.7 160.6h0M96.2 156.4h0M69.2 174.7h0M96.2 175.6h0M83.1 153.7h0M82.5 170.5h0M91.3 172.8h0M91.5 156.9h0M82.0 160.6h0M69.9 162.9h0M72.9 164.1h0M94.9 160.3h0M82.4 158.2h0M82.5 177.3h0M94.2 163.5h0M99.6 165.6h0M74.1 162.3h0M86.0 162.3h0M70.9 166.0h0M76.3 171.0h0M70.4 169.8h0M89.6 158.7h0M73.2 175.2h0M63.8 167.0h0M66.5 162.0h0M70.6 163.1h0M70.8 169.8h0M76.2 168.6h0M72.1 169.4h0M102.2 161.9h0M101.7 169.4h0M86.0 165.2h0M99.3 170.6h0M79.5 161.1h0M106.1 160.0h0M66.1 170.4h0M106.6 163.5h0M66.2 163.4h0M90.6 159.1h0M96.7 175.5h0M95.8 163.1h0M73.5 159.7h0M76.4 174.2h0M72.5 173.1h0M63.1 168.3h0M62.1 166.5h0M85.1 158.4h0M79.8 167.6h0M64.3 163.4h0M103.4 163.5h0M96.9 158.3h0M92.7 155.6h0M88.8 161.3h0M82.3 166.3h0M65.7 156.1h0M80.0 164.6h0M84.5 164.3h0M75.8 159.4h0M78.3 156.0h0M71.6 171.0h0M71.0 174.6h0M88.7 161.1h0M92.1 167.1h0M93.9 163.4h0M79.4 172.6h0M78.6 172.9h0M71.5 166.9h0M80.7 177.7h0M92.5 174.3h0M87.1 174.2h0M90.4 174.3h0M92.7 169.7h0M113.0 154.9h0M106.8 161.4h0M93.2 166.7h0M78.5 162.9h0M92.4 156.2h0M91.9 164.4h0M101.2 170.7h0M70.9 161.7h0M98.8 165.5h0M74.0 168.6h0M77.0 155.4h0M69.6 172.5h0M89.0 167.8h0M96.3 160.5h0M73.6 164.8h0M74.0 171.8h0M91.0 183.0h0M79.8 163.7h0M67.2 179.6h0M87.6 156.8h0M82.5 157.0h0M109.7 155.7h0M107.3 172.2h0M102.7 158.5h0M78.1 170.5h0M75.3 169.6h0M104.0 162.6h0M109.2 156.3h0M60.5 170.0h0M97.5 169.8h0M92.8 155.4h0M110.1 162.1h0M104.0 166.9h0M100.9 162.2h0M93.9 175.2h0M99.0 167.5h0M85.6 158.1h0M85.3 162.5h0M87.6 173.5h0M96.3 156.8h0M100.1 166.1h0M98.2 168.1h0M80.1 180.9h0M98.5 172.8h0M93.4 158.2h0M78.6 175.1h0M82.9 163.3h0M108.0 157.5h0M80.7 178.9h0M101.7 160.6h0M107.4 158.2h0M84.4 157.4h0M72.2 164.0h0M97.1 175.8h0M102.6 172.9h0M90.7 174.4h0M72.9 168.6h0M98.7 174.3h0M94.8 175.9h0M79.6 175.1h0M59.8 160.0h0M91.2 174.1h0M98.8 162.0h0M98.4 165.6h0M99.8 166.6h0M99.8 172.9h0M76.9 173.2h0M77.5 161.8h0M83.8 169.0h0M95.1 162.0h0M86.6 160.3h0M96.4 167.4h0M91.7 171.6h0M90.3 172.2h0M83.7 176.8h0M65.7 166.6h0M89.6 163.3h0M95.0 157.7h0M98.9 163.5h0M72.7 162.3h0M74.1 165.9h0M76.7 161.1h0M94.0 164.1h0M83.6 165.2h0M88.0 166.9h0M78.2 161.2h0M80.9 159.7h0M98.4 160.9h0M99.3 168.2h0M73.0 157.1h0M87.4 168.7h0M73.5 164.6h0M98.7 169.1h0M104.7 172.9h0M98.9 177.2h0M91.6 169.4h0M99.5 156.5h0M99.1 156.9h0M63.2 161.2h0M72.5 172.1h0M72.0 163.5h0M87.3 156.8h0M98.9 160.9h0M77.0 158.6h0M81.1 164.6h0M99.9 158.3h0M106.0 164.1h0M88.7 168.0h0M75.6 165.7h0M92.2 173.7h0M76.7 155.9h0M98.3 176.9h0M68.3 161.6h0M92.0 151.8h0M95.0 174.2h0M66.4 161.6h0M108.0 161.7h0M80.3 171.4h0M79.1 163.0h0M80.6 173.2h0M104.8 164.0h0M85.7 174.6h0M75.4 161.1h0M107.6 165.1h0M94.2 165.7h0M82.4 156.1h0M95.1 161.0h0M92.4 166.7h0M97.9 159.6h0M93.6 169.6h0M68.1 172.7h0M79.9 165.2h0M67.9 163.9h0M66.3 170.5h0M78.0 170.0h0M67.7 158.2h0M94.6 169.2h0M98.1 169.2h0M97.2 175.2h0M77.9 168.4h0M98.6 170.3h0M83.4 177.2h0M106.8 161.4h0M102.0 161.7h0M104.3 168.3h0M78.3 161.8h0M75.1 164.3h0M94.2 163.4h0M86.5 159.0h0M73.5 167.4h0M104.6 167.0h0M98.8 169.5h0M74.6 159.3h0M87.1 169.6h0M105.2 169.0h0M65.2 160.1h0M98.8 168.7h0M80.0 172.3h0M72.6 172.6h0M92.5 155.9h0M85.7 154.0h0M88.2 163.6h0M98.2 161.0h0M63.0 160.6h0M95.2 178.0h0M101.2 159.8h0M87.8 176.3h0M63.8 173.4h0M82.9 163.7h0M80.8 159.5h0M104.9 167.1h0M85.2 167.7h0M70.1 168.5h0M82.2 170.9h0M83.3 169.2h0M95.3 164.0h0M79.9 163.6h0M100.2 168.9h0M81.3 171.2h0M111.8 167.5h0M92.3 163.7h0M89.0 177.6h0M81.2 173.2h0M67.3 170.6h0M70.4 159.0h0M91.4 166.0h0M77.2 170.8h0M71.7 173.5h0M62.4 165.4h0M75.7 165.6h0M82.9 170.2h0M77.3 167.1h0M93.0 160.4h0M68.1 168.7h0M87.4 168.4h0M76.1 170.4h0M81.9 154.5h0M81.6 170.6h0M69.6 169.0h0M94.6 159.0h0M72.2 159.4h0M68.4 171.0h0M103.3 158.5h0M90.8 171.8h0M105.9 158.9h0M98.6 160.9h0M66.3 171.6h0M106.7 172.9h0M85.6 156.0h0M72.1 156.3h0M77.0 158.5h0"/>
<path stroke="#a0228a" stroke-width="1.0" d="M72.4 163.8h0M69.8 163.9h0M64.1 165.5h0M60.2 173.0h0M58.2 169.0h0M71.1 169.7h0M63.0 160.3h0M71.3 157.5h0M73.2 159.9h0M61.1 170.6h0M60.1 159.3h0M61.2 173.4h0M65.7 168.9h0M73.4 153.6h0M73.6 163.9h0M62.9 165.6h0M71.4 170.7h0M71.7 159.1h0M73.3 169.1h0M66.6 171.2h0M63.5 159.8h0M60.3 150.3h0M67.9 159.5h0M68.1 160.9h0M68.2 170.9h0M69.6 161.1h0M66.8 158.1h0M65.6 151.9h0M72.7 164.0h0M65.7 166.3h0M74.2 154.2h0M62.6 170.9h0M71.1 169.6h0M76.4 166.8h0M68.8 155.6h0M63.6 167.2h0M70.0 171.3h0M61.1 159.1h0M67.5 169.9h0M66.2 163.4h0M69.4 168.0h0M60.8 155.5h0M62.1 163.9h0M72.5 162.5h0M73.9 157.4h0M64.2 167.7h0M75.7 169.1h0M67.8 171.6h0M64.9 168.6h0M68.8 161.9h0M61.9 159.3h0M64.6 160.2h0M62.7 154.7h0M62.2 165.9h0M70.1 168.2h0M69.2 159.8h0M65.3 172.6h0M72.1 162.1h0M64.4 154.2h0M64.2 148.4h0M57.1 151.8h0M67.5 167.2h0M75.1 164.4h0M55.9 154.0h0M71.4 164.7h0M65.4 157.4h0M68.7 158.8h0M71.5 155.9h0M66.4 159.5h0M71.4 155.4h0M63.5 149.4h0M63.0 168.7h0M75.3 166.8h0M71.9 156.0h0M73.3 159.7h0M57.4 166.3h0M56.9 159.4h0M56.1 158.7h0M57.7 165.1h0M66.8 171.0h0M62.8 165.7h0M72.6 156.2h0M72.8 156.8h0M71.9 157.0h0M69.5 154.9h0M62.4 157.6h0M67.3 166.4h0M70.8 167.5h0M63.8 156.6h0M67.8 157.8h0M72.0 170.1h0M69.7 173.0h0M66.5 172.2h0M62.4 154.7h0M71.5 167.0h0M69.5 153.6h0M75.8 160.4h0M67.9 155.0h0M56.5 155.5h0M63.1 159.5h0M71.4 170.6h0M60.2 166.0h0M60.1 169.2h0M67.3 167.3h0M63.1 173.4h0M70.0 154.2h0M59.8 161.2h0M64.2 158.6h0M62.4 154.9h0M59.3 157.1h0M71.5 158.4h0M60.3 173.0h0M74.9 160.6h0M66.1 161.8h0M64.6 158.2h0M68.3 163.8h0M64.6 151.9h0M67.8 162.0h0M65.6 149.4h0M71.1 166.7h0M66.3 163.5h0M65.6 155.5h0M66.9 162.8h0M59.6 171.4h0M61.7 163.4h0M71.6 164.4h0M65.0 157.9h0M59.9 169.8h0M69.2 158.5h0M75.4 163.1h0M68.8 162.0h0M66.5 162.2h0M65.4 161.9h0M67.2 152.5h0M71.6 158.0h0M67.4 178.9h0M62.1 157.0h0M66.3 163.1h0M60.7 169.7h0M66.2 170.2h0M70.9 152.0h0M68.0 171.0h0M76.2 170.6h0M71.0 169.0h0M69.1 166.5h0M67.0 168.7h0M68.0 160.9h0M66.5 160.0h0M67.8 155.2h0M60.7 155.3h0M71.1 160.3h0M64.0 169.6h0M68.3 159.4h0M71.4 175.2h0M58.7 168.5h0M75.0 156.5h0M72.0 175.4h0M75.4 157.5h0M63.5 163.3h0M59.7 166.4h0M54.1 167.0h0M57.8 156.7h0M65.9 163.8h0M63.6 161.1h0M69.1 153.1h0M59.4 161.2h0M62.5 159.7h0M61.8 153.9h0M55.9 167.2h0M64.5 172.1h0M72.2 159.9h0M74.7 164.3h0M66.5 157.0h0M60.2 164.4h0M67.8 164.7h0M60.7 160.0h0M67.2 165.6h0M65.8 162.8h0M66.4 152.1h0M61.5 160.3h0M65.9 173.5h0M65.7 164.4h0M62.7 155.4h0M60.0 168.4h0M67.9 155.0h0M67.6 160.3h0M67.7 158.1h0M60.6 153.7h0M64.5 172.2h0M72.7 160.1h0M63.1 163.3h0M59.7 169.1h0M63.8 165.1h0M59.1 155.6h0M69.6 168.4h0M66.4 165.5h0M67.0 173.8h0M62.0 173.2h0M71.8 156.8h0M69.1 172.7h0M75.1 165.5h0M73.5 172.8h0M74.8 162.4h0M62.6 153.4h0M69.3 166.6h0M69.9 153.6h0M55.6 158.9h0M66.4 159.1h0M73.7 159.4h0M76.0 157.2h0M71.2 167.3h0M55.1 167.3h0M69.6 172.2h0M63.9 154.6h0M73.3 161.8h0M63.5 154.7h0M66.0 159.0h0M57.7 157.8h0M67.0 153.4h0M66.5 152.1h0M58.2 163.8h0M67.5 166.9h0M72.6 158.1h0M69.6 163.1h0M70.8 150.8h0M72.9 166.3h0M69.3 157.3h0M60.6 168.6h0M56.4 157.2h0M68.6 165.8h0M62.9 160.5h0M71.1 170.7h0M73.3 170.7h0M68.6 157.4h0M65.4 168.7h0M58.8 162.0h0M70.8 159.4h0M60.6 165.8h0M64.7 172.3h0M70.8 158.2h0M68.4 163.1h0M60.1 171.2h0M62.3 167.2h0M70.8 170.8h0M59.5 156.2h0M63.8 171.7h0M55.8 166.1h0M65.5 159.9h0M67.3 174.0h0M60.9 155.7h0M70.0 157.7h0M66.2 154.5h0M73.6 163.6h0M76.2 157.3h0M56.5 160.3h0M63.5 168.1h0M61.2 155.9h0M55.5 160.0h0M72.6 158.3h0M62.6 155.7h0M69.9 166.3h0M71.9 168.8h0M70.9 169.1h0M60.2 158.6h0M68.3 155.5h0M59.0 157.4h0M66.3 164.6h0M74.4 163.9h0M58.0 159.7h0M75.4 157.9h0M61.5 168.4h0M68.4 160.2h0M61.9 165.1h0M71.1 155.4h0M68.1 151.5h0M63.9 163.6h0M70.5 171.7h0M66.9 157.7h0M71.9 166.0h0M69.7 155.3h0M63.8 161.3h0M75.4 171.3h0M64.8 158.4h0M69.7 161.8h0M71.3 171.9h0M66.6 155.2h0M60.6 159.1h0M60.0 163.6h0M65.3 153.8h0M59.1 155.1h0M61.9 158.8h0M73.4 159.5h0M67.8 154.4h0M54.7 162.9h0M68.4 157.5h0M60.3 162.7h0M60.3 155.6h0M70.4 166.0h0M56.3 160.7h0M73.1 174.4h0M69.6 159.5h0M59.9 160.4h0M75.3 169.5h0M71.2 167.8h0M68.7 154.0h0M61.7 162.1h0M62.5 155.0h0M72.9 164.0h0M63.2 154.3h0M60.8 162.5h0M63.9 160.0h0M72.9 156.7h0M58.5 165.6h0M54.5 161.7h0M68.8 163.3h0M71.8 159.3h0M68.3 152.1h0M65.2 158.1h0M68.9 168.1h0M63.5 165.1h0"/>
<path stroke="#6a1a48" stroke-width="1.25" d="M65.6 127.9h0M68.8 126.6h0M71.8 131.5h0M72.8 121.1h0M73.6 140.7h0M62.7 129.0h0M74.3 139.8h0M71.4 112.0h0M71.2 132.3h0M73.9 133.7h0M73.7 130.6h0M81.7 116.5h0M72.5 112.9h0M62.4 143.4h0M79.5 115.1h0M76.9 112.8h0M67.1 113.6h0M73.3 118.8h0M70.4 138.5h0M79.8 133.1h0M81.4 126.0h0M78.7 140.5h0M66.6 118.6h0M73.5 131.0h0M69.9 112.7h0M60.8 121.6h0M67.0 140.6h0M64.2 123.5h0M65.9 120.2h0M77.8 140.0h0M81.0 127.7h0M79.9 139.2h0M63.4 118.0h0M67.0 127.8h0M70.6 144.4h0M84.8 119.1h0M70.0 115.1h0M76.7 119.8h0M74.2 139.7h0M71.2 121.4h0M74.4 127.4h0M79.5 126.7h0M71.8 131.3h0M75.4 144.7h0M74.8 128.8h0M70.3 115.2h0M81.5 127.8h0M64.2 130.3h0M78.9 144.9h0M71.5 113.5h0M68.9 115.1h0M70.4 123.7h0M72.0 114.8h0M70.0 129.1h0M64.3 130.2h0M70.4 135.3h0M78.1 131.3h0M72.2 145.4h0M72.1 131.0h0M76.6 127.8h0M82.6 127.0h0M74.5 136.6h0M65.0 145.9h0M73.1 145.9h0M74.7 129.3h0M66.7 122.4h0M66.9 119.7h0M62.4 136.1h0M68.2 143.6h0M73.8 129.5h0M71.8 139.3h0M65.0 123.0h0M75.8 132.0h0M78.8 117.7h0M74.0 134.6h0M69.7 128.1h0M74.4 127.4h0M68.4 141.5h0M81.5 138.0h0M63.0 128.0h0M73.1 126.7h0M72.3 144.3h0M71.7 111.0h0M70.8 116.2h0M78.6 135.6h0M78.3 120.6h0M75.3 115.7h0M69.4 133.6h0M66.1 137.9h0M66.0 142.4h0M74.8 124.4h0M68.3 118.9h0M73.9 125.7h0M86.2 129.8h0M75.5 117.5h0M71.9 116.8h0M71.3 143.8h0M77.6 143.2h0M68.7 113.6h0M70.0 146.9h0M72.7 142.1h0M73.4 124.7h0M72.7 132.9h0M70.7 120.0h0M82.0 119.9h0M64.5 118.5h0M73.4 142.3h0M67.4 129.6h0M64.5 136.2h0M70.1 131.4h0M63.2 141.2h0M70.4 128.2h0M71.3 115.6h0M75.6 121.4h0M82.5 122.4h0M68.9 138.6h0M76.3 117.2h0M74.7 134.3h0M81.9 124.3h0M71.5 120.4h0M77.3 114.5h0M72.3 131.7h0M87.1 122.3h0M68.9 124.7h0M75.4 117.3h0M78.9 128.8h0M68.1 116.2h0M69.0 131.8h0M78.6 132.2h0M71.6 127.6h0M65.0 130.5h0M72.5 121.3h0M61.6 115.0h0M81.1 127.0h0M67.7 146.7h0M66.7 118.2h0M75.8 133.0h0M71.0 114.7h0M82.4 131.1h0M74.3 127.6h0M79.4 127.4h0M74.0 138.9h0M74.3 117.3h0M76.8 122.0h0M70.5 146.0h0M73.5 136.5h0M71.8 143.0h0M75.4 117.3h0M79.0 123.2h0M85.0 123.5h0M67.5 136.0h0M67.4 128.7h0M68.7 121.7h0M76.2 141.8h0M61.8 135.0h0M77.6 144.0h0M80.8 128.2h0M68.8 130.8h0M75.3 118.2h0M64.9 145.0h0M74.2 138.4h0M83.8 128.0h0M67.4 121.7h0M70.5 127.5h0M74.0 139.4h0M63.0 129.3h0M72.2 146.1h0M77.3 142.6h0M80.4 123.8h0M73.2 140.3h0M65.6 115.2h0M83.2 123.9h0M83.7 119.2h0M77.2 138.0h0M69.7 117.9h0M66.0 130.9h0M79.0 134.3h0M80.5 124.5h0M65.1 133.6h0M73.1 143.7h0M68.2 123.6h0M70.3 126.3h0M74.9 116.3h0M66.7 145.2h0M67.6 119.8h0M71.5 118.0h0M64.1 118.6h0M77.2 139.0h0M83.6 123.5h0M71.3 140.2h0M64.1 115.7h0M64.6 114.0h0M68.9 116.2h0M73.8 137.5h0M65.9 122.2h0M74.3 116.4h0M69.8 114.7h0M86.0 132.0h0M62.6 139.2h0M77.9 132.1h0"/>
</g>
<path d="M76.5 110 C 84 103, 98 99, 112 95 C 124 91, 134 84, 145 76 C 156 68, 166 63, 180 61.5 C 196 60, 210 63, 214 74 C 218 86, 215 102, 208 114 C 201 126, 190 134, 178 136 C 168 137, 162 132, 157 126 C 152 121, 145 122, 140 130 C 135 140, 132 152, 126 164 C 118 178, 104 186, 90 186.5 C 72 187, 59 182, 55 172 C 51 161, 52 146, 57 134 C 60 127, 63 124, 66 121" fill="none" stroke="#7d4565" stroke-width="1.5" stroke-dasharray="5.5 3.5"/>
<text transform="translate(93.0 10.2) scale(0.955 1)" font-size="9.20" fill="#1a1a1a" stroke="#1a1a1a" stroke-width="0.22">15</text>
<text transform="translate(104.6 42.7) scale(0.955 1)" font-size="9.20" fill="#1a1a1a" stroke="#1a1a1a" stroke-width="0.22">14</text>
<text transform="translate(50.8 52.9) scale(0.955 1)" font-size="9.20" fill="#1a1a1a" stroke="#1a1a1a" stroke-width="0.22">13</text>
<text transform="translate(51.7 82.0) scale(0.955 1)" font-size="9.20" fill="#1a1a1a" stroke="#1a1a1a" stroke-width="0.22">11</text>
<text transform="translate(29.6 99.4) scale(0.955 1)" font-size="9.20" fill="#1a1a1a" stroke="#1a1a1a" stroke-width="0.22">12</text>
<text transform="translate(65.0 101.3) scale(0.955 1)" font-size="9.20" fill="#1a1a1a" stroke="#1a1a1a" stroke-width="0.22">10</text>
<text transform="translate(96.0 118.5) scale(0.955 1)" font-size="9.20" fill="#1a1a1a" stroke="#1a1a1a" stroke-width="0.22">5</text>
<text transform="translate(121.0 121.6) scale(0.955 1)" font-size="9.20" fill="#1a1a1a" stroke="#1a1a1a" stroke-width="0.22">4</text>
<text transform="translate(62.3 130.0) scale(0.955 1)" font-size="9.20" fill="#1a1a1a" stroke="#1a1a1a" stroke-width="0.22">9</text>
<text transform="translate(101.4 151.0) scale(0.955 1)" font-size="9.20" fill="#1a1a1a" stroke="#1a1a1a" stroke-width="0.22">6</text>
<text transform="translate(62.3 164.0) scale(0.955 1)" font-size="9.20" fill="#1a1a1a" stroke="#1a1a1a" stroke-width="0.22">8</text>
<text transform="translate(87.3 171.3) scale(0.955 1)" font-size="9.20" fill="#1a1a1a" stroke="#1a1a1a" stroke-width="0.22">7</text>
<text transform="translate(168.0 93.8) scale(0.955 1)" font-size="9.20" fill="#1a1a1a" stroke="#1a1a1a" stroke-width="0.22">1</text>
<text transform="translate(193.8 88.2) scale(0.955 1)" font-size="9.20" fill="#1a1a1a" stroke="#1a1a1a" stroke-width="0.22">2</text>
<text transform="translate(184.5 113.0) scale(0.955 1)" font-size="9.20" fill="#1a1a1a" stroke="#1a1a1a" stroke-width="0.22">3</text>
<text transform="translate(128.7 32.3) scale(0.955 1)" font-size="9.20" fill="#3a7cc0" stroke="#3a7cc0" stroke-width="0.22">Anti-inflammatory</text>
<text transform="translate(128.7 42.2) scale(0.955 1)" font-size="9.20" fill="#3a7cc0" stroke="#3a7cc0" stroke-width="0.22">macrophage (M2)</text>
<text transform="translate(137.0 160.0) scale(0.955 1)" font-size="9.20" fill="#922c62" stroke="#922c62" stroke-width="0.22">Pro-inflammatory</text>
<text transform="translate(135.0 171.0) scale(0.955 1)" font-size="9.20" fill="#922c62" stroke="#922c62" stroke-width="0.22">macrophage (M1)</text>
<text transform="translate(141.0 186.0) scale(0.955 1)" font-size="9.20" fill="#231f20" stroke="#231f20" stroke-width="0.22">23,138 cells</text>
<path d="M19 189.5V165M19 189.5H42" stroke="#000" stroke-width="1.4" fill="none"/>
<path d="M15 165.8L19 158.6L23 165.8Z M41.5 185.6L48.6 189.5L41.5 193.4Z" fill="#000"/>
<text transform="translate(11.8 174.0) rotate(-90) scale(0.955 1)" font-size="9.20" fill="#231f20" stroke="#231f20" stroke-width="0.22" text-anchor="middle">UMAP1</text>
<text transform="translate(18.8 203.8) scale(0.955 1)" font-size="9.20" fill="#231f20" stroke="#231f20" stroke-width="0.22">UMAP2</text>
<rect x="237" y="20" width="245.5" height="141" fill="#e4e9f4"/>
<text transform="translate(243.0 38.9) scale(0.955 1)" font-size="9.20" fill="#231f20" stroke="#231f20" stroke-width="0.22">Macrophage subtypes</text>
<text transform="translate(242.6 58.3) scale(0.955 1)" font-size="9.20" fill="#ecdcc0" stroke="#ecdcc0" stroke-width="0.22">1</text>
<circle cx="254.2" cy="55.2" r="4.25" fill="#f2b27e"/>
<text transform="translate(264.0 58.3) scale(0.955 1)" font-size="9.20" fill="#231f20" stroke="#231f20" stroke-width="0.22">M1_FCGR3B (3,392)</text>
<text transform="translate(242.6 69.9) scale(0.955 1)" font-size="9.20" fill="#f2d8b2" stroke="#f2d8b2" stroke-width="0.22">2</text>
<circle cx="254.2" cy="66.8" r="4.25" fill="#f7c460"/>
<text transform="translate(264.0 69.9) scale(0.955 1)" font-size="9.20" fill="#231f20" stroke="#231f20" stroke-width="0.22">M1_IFIT2 (2,196)</text>
<text transform="translate(242.6 81.6) scale(0.955 1)" font-size="9.20" fill="#ecc88e" stroke="#ecc88e" stroke-width="0.22">3</text>
<circle cx="254.2" cy="78.5" r="4.25" fill="#f3bb1e"/>
<text transform="translate(264.0 81.6) scale(0.955 1)" font-size="9.20" fill="#231f20" stroke="#231f20" stroke-width="0.22">M1_TNFAIP6 (1,366)</text>
<text transform="translate(242.6 93.2) scale(0.955 1)" font-size="9.20" fill="#d994c6" stroke="#d994c6" stroke-width="0.22">4</text>
<circle cx="254.2" cy="90.1" r="4.25" fill="#ea7cb6"/>
<text transform="translate(264.0 93.2) scale(0.955 1)" font-size="9.20" fill="#231f20" stroke="#231f20" stroke-width="0.22">M1_FCN1 (1,369)</text>
<text transform="translate(242.6 104.8) scale(0.955 1)" font-size="9.20" fill="#eaa28a" stroke="#eaa28a" stroke-width="0.22">5</text>
<circle cx="254.2" cy="101.7" r="4.25" fill="#ef7e4e"/>
<text transform="translate(264.0 104.8) scale(0.955 1)" font-size="9.20" fill="#231f20" stroke="#231f20" stroke-width="0.22">M1_VCAN (1,936)</text>
<text transform="translate(242.6 116.5) scale(0.955 1)" font-size="9.20" fill="#efb2b8" stroke="#efb2b8" stroke-width="0.22">6</text>
<circle cx="254.2" cy="113.4" r="4.25" fill="#ee8484"/>
<text transform="translate(264.0 116.5) scale(0.955 1)" font-size="9.20" fill="#231f20" stroke="#231f20" stroke-width="0.22">M1_TNF (1,934)</text>
<text transform="translate(242.6 128.1) scale(0.955 1)" font-size="9.20" fill="#c874a0" stroke="#c874a0" stroke-width="0.22">7</text>
<circle cx="254.2" cy="125.0" r="4.25" fill="#e44284"/>
<text transform="translate(264.0 128.1) scale(0.955 1)" font-size="9.20" fill="#231f20" stroke="#231f20" stroke-width="0.22">M1_INHBA (1,499)</text>
<text transform="translate(242.6 139.7) scale(0.955 1)" font-size="9.20" fill="#a8468e" stroke="#a8468e" stroke-width="0.22">8</text>
<circle cx="254.2" cy="136.6" r="4.25" fill="#b4147e"/>
<text transform="translate(264.0 139.7) scale(0.955 1)" font-size="9.20" fill="#231f20" stroke="#231f20" stroke-width="0.22">M1_CXCL5 (877)</text>
<text transform="translate(242.6 151.3) scale(0.955 1)" font-size="9.20" fill="#844068" stroke="#844068" stroke-width="0.22">9</text>
<circle cx="254.2" cy="148.2" r="4.25" fill="#6e1640"/>
<text transform="translate(264.0 151.3) scale(0.955 1)" font-size="9.20" fill="#231f20" stroke="#231f20" stroke-width="0.22">M1_CD40 (715)</text>
<text transform="translate(360.6 58.3) scale(0.955 1)" font-size="9.20" fill="#7c7a94" stroke="#7c7a94" stroke-width="0.22">10</text>
<circle cx="377.6" cy="55.2" r="4.25" fill="#8b86c2"/>
<text transform="translate(387.6 58.3) scale(0.955 1)" font-size="9.20" fill="#231f20" stroke="#231f20" stroke-width="0.22">M2_NR4A2 (1,806)</text>
<text transform="translate(360.6 69.9) scale(0.955 1)" font-size="9.20" fill="#3a6e8e" stroke="#3a6e8e" stroke-width="0.22">11</text>
<circle cx="377.6" cy="66.8" r="4.25" fill="#2a86c8"/>
<text transform="translate(387.6 69.9) scale(0.955 1)" font-size="9.20" fill="#231f20" stroke="#231f20" stroke-width="0.22">M2_APOE (1,322)</text>
<text transform="translate(360.6 81.6) scale(0.955 1)" font-size="9.20" fill="#3c4c70" stroke="#3c4c70" stroke-width="0.22">12</text>
<circle cx="377.6" cy="78.5" r="4.25" fill="#2d4c9a"/>
<text transform="translate(387.6 81.6) scale(0.955 1)" font-size="9.20" fill="#231f20" stroke="#231f20" stroke-width="0.22">M2_SPP1 (467)</text>
<text transform="translate(360.6 93.2) scale(0.955 1)" font-size="9.20" fill="#2c3c3c" stroke="#2c3c3c" stroke-width="0.22">13</text>
<circle cx="377.6" cy="90.1" r="4.25" fill="#16443b"/>
<text transform="translate(387.6 93.2) scale(0.955 1)" font-size="9.20" fill="#231f20" stroke="#231f20" stroke-width="0.22">M2_C1QC (2,017)</text>
<text transform="translate(360.6 104.8) scale(0.955 1)" font-size="9.20" fill="#8ccaa2" stroke="#8ccaa2" stroke-width="0.22">14</text>
<circle cx="377.6" cy="101.7" r="4.25" fill="#5cc080"/>
<text transform="translate(387.6 104.8) scale(0.955 1)" font-size="9.20" fill="#231f20" stroke="#231f20" stroke-width="0.22">M2_HLA-DQB1 (1,480)</text>
<text transform="translate(360.6 116.5) scale(0.955 1)" font-size="9.20" fill="#4c5c5c" stroke="#4c5c5c" stroke-width="0.22">15</text>
<circle cx="377.6" cy="113.4" r="4.25" fill="#548078"/>
<text transform="translate(387.6 116.5) scale(0.955 1)" font-size="9.20" fill="#231f20" stroke="#231f20" stroke-width="0.22">M2_STMN1 (762)</text>
<text x="1.0" y="234.4" font-size="10.6" fill="#000" font-weight="bold">B</text>
<rect x="40.3" y="259.5" width="119.5" height="148.9" fill="#fff" stroke="#bdbdbd" stroke-width="1"/>
<line x1="40.3" y1="385.0" x2="159.8" y2="385.0" stroke="#f4f4f4" stroke-width="0.6"/>
<line x1="40.3" y1="350.3" x2="159.8" y2="350.3" stroke="#f4f4f4" stroke-width="0.6"/>
<line x1="40.3" y1="315.6" x2="159.8" y2="315.6" stroke="#f4f4f4" stroke-width="0.6"/>
<line x1="40.3" y1="280.9" x2="159.8" y2="280.9" stroke="#f4f4f4" stroke-width="0.6"/>
<line x1="40.3" y1="402.4" x2="159.8" y2="402.4" stroke="#ebebeb" stroke-width="0.6"/>
<text transform="translate(35.6 405.6) scale(0.955 1)" font-size="9.20" fill="#231f20" stroke="#231f20" stroke-width="0.22" text-anchor="end">0</text>
<line x1="37.6" y1="402.4" x2="40.3" y2="402.4" stroke="#555" stroke-width="0.6"/>
<line x1="40.3" y1="367.7" x2="159.8" y2="367.7" stroke="#ebebeb" stroke-width="0.6"/>
<text transform="translate(35.6 370.9) scale(0.955 1)" font-size="9.20" fill="#231f20" stroke="#231f20" stroke-width="0.22" text-anchor="end">25</text>
<line x1="37.6" y1="367.7" x2="40.3" y2="367.7" stroke="#555" stroke-width="0.6"/>
<line x1="40.3" y1="332.9" x2="159.8" y2="332.9" stroke="#ebebeb" stroke-width="0.6"/>
<text transform="translate(35.6 336.1) scale(0.955 1)" font-size="9.20" fill="#231f20" stroke="#231f20" stroke-width="0.22" text-anchor="end">50</text>
<line x1="37.6" y1="332.9" x2="40.3" y2="332.9" stroke="#555" stroke-width="0.6"/>
<line x1="40.3" y1="298.2" x2="159.8" y2="298.2" stroke="#ebebeb" stroke-width="0.6"/>
<text transform="translate(35.6 301.4) scale(0.955 1)" font-size="9.20" fill="#231f20" stroke="#231f20" stroke-width="0.22" text-anchor="end">75</text>
<line x1="37.6" y1="298.2" x2="40.3" y2="298.2" stroke="#555" stroke-width="0.6"/>
<line x1="40.3" y1="263.5" x2="159.8" y2="263.5" stroke="#ebebeb" stroke-width="0.6"/>
<text transform="translate(35.6 266.7) scale(0.955 1)" font-size="9.20" fill="#231f20" stroke="#231f20" stroke-width="0.22" text-anchor="end">100</text>
<line x1="37.6" y1="263.5" x2="40.3" y2="263.5" stroke="#555" stroke-width="0.6"/>
<line x1="57.9" y1="259.5" x2="57.9" y2="408.4" stroke="#ebebeb" stroke-width="0.6"/>
<line x1="86.2" y1="259.5" x2="86.2" y2="408.4" stroke="#ebebeb" stroke-width="0.6"/>
<line x1="114.4" y1="259.5" x2="114.4" y2="408.4" stroke="#ebebeb" stroke-width="0.6"/>
<line x1="142.7" y1="259.5" x2="142.7" y2="408.4" stroke="#ebebeb" stroke-width="0.6"/>
<text transform="translate(12.5 332.7) rotate(-90) scale(0.955 1)" font-size="9.46" fill="#231f20" stroke="#231f20" stroke-width="0.22" text-anchor="middle">M1/(M1+M2) ratio</text>
<text transform="translate(53.8 252.0) scale(0.955 1)" font-size="9.20" fill="#231f20" stroke="#231f20" stroke-width="0.22"><tspan font-style="italic">P</tspan> = 0.52</text>
<line x1="55.8" y1="255.8" x2="84.2" y2="255.8" stroke="#333" stroke-width="1.4"/>
<text transform="translate(112.5 252.0) scale(0.955 1)" font-size="9.20" fill="#231f20" stroke="#231f20" stroke-width="0.22"><tspan font-style="italic">P</tspan> = 0.18</text>
<line x1="114.0" y1="255.8" x2="142.0" y2="255.8" stroke="#333" stroke-width="1.4"/>
<g stroke="#3f5bb0" stroke-width="0.7" opacity="0.9">
<line x1="57.9" y1="282.7" x2="86.2" y2="274.8"/>
<line x1="57.9" y1="284.3" x2="86.2" y2="271"/>
<line x1="57.9" y1="285.7" x2="86.2" y2="278.4"/>
<line x1="57.9" y1="287.3" x2="86.2" y2="372.2"/>
<line x1="57.9" y1="299" x2="86.2" y2="271"/>
<line x1="57.9" y1="304.9" x2="86.2" y2="296.6"/>
<line x1="57.9" y1="315.5" x2="86.2" y2="388.2"/>
<line x1="57.9" y1="316.5" x2="86.2" y2="391.8"/>
<line x1="57.9" y1="362.8" x2="86.2" y2="354.7"/>
<line x1="57.9" y1="364.1" x2="86.2" y2="356.6"/>
<line x1="57.9" y1="366" x2="86.2" y2="359.7"/>
<line x1="57.9" y1="370" x2="86.2" y2="382.5"/>
<line x1="114.4" y1="267.5" x2="142.7" y2="296.8"/>
<line x1="114.4" y1="275.3" x2="142.7" y2="344.9"/>
<line x1="114.4" y1="276.8" x2="142.7" y2="306.9"/>
<line x1="114.4" y1="303.6" x2="142.7" y2="305.2"/>
<line x1="114.4" y1="310.8" x2="142.7" y2="380.9"/>
<line x1="114.4" y1="313" x2="142.7" y2="386.2"/>
<line x1="114.4" y1="316.5" x2="142.7" y2="395.5"/>
<line x1="114.4" y1="327.1" x2="142.7" y2="281.8"/>
<line x1="114.4" y1="341.5" x2="142.7" y2="286.2"/>
<line x1="114.4" y1="345.4" x2="142.7" y2="384.3"/>
<line x1="114.4" y1="359" x2="142.7" y2="350"/>
<line x1="114.4" y1="365.6" x2="142.7" y2="287.7"/>
<line x1="114.4" y1="367.2" x2="142.7" y2="362.5"/>
<line x1="114.4" y1="375.7" x2="142.7" y2="313.4"/>
<line x1="114.4" y1="379.6" x2="142.7" y2="369.5"/>
<line x1="114.4" y1="381.2" x2="142.7" y2="266.2"/>
<line x1="114.4" y1="383.5" x2="142.7" y2="352.4"/>
<line x1="114.4" y1="389" x2="142.7" y2="332.4"/>
<line x1="114.4" y1="390.8" x2="142.7" y2="313.4"/>
<line x1="114.4" y1="401.8" x2="142.7" y2="266.2"/>
</g>
<rect x="47.2" y="293.0" width="21.4" height="71.0" fill="none" stroke="#3f5bb0" stroke-width="0.8"/>
<line x1="47.2" y1="315.6" x2="68.6" y2="315.6" stroke="#3f5bb0" stroke-width="2.4"/>
<line x1="86.2" y1="271.0" x2="86.2" y2="287.4" stroke="#b8465e" stroke-width="0.8"/>
<rect x="75.4" y="287.4" width="21.0" height="89.6" fill="none" stroke="#b8465e" stroke-width="0.8"/>
<line x1="75.4" y1="357.0" x2="96.4" y2="357.0" stroke="#b8465e" stroke-width="2.4"/>
<rect x="103.9" y="314.0" width="20.7" height="66.0" fill="none" stroke="#3f5bb0" stroke-width="0.8"/>
<line x1="103.9" y1="352.8" x2="124.6" y2="352.8" stroke="#3f5bb0" stroke-width="2.4"/>
<line x1="142.7" y1="266.2" x2="142.7" y2="298.8" stroke="#b8465e" stroke-width="0.8"/>
<line x1="142.7" y1="367.6" x2="142.7" y2="395.5" stroke="#b8465e" stroke-width="0.8"/>
<rect x="132.3" y="298.8" width="20.9" height="68.8" fill="none" stroke="#b8465e" stroke-width="0.8"/>
<line x1="132.3" y1="323.2" x2="153.2" y2="323.2" stroke="#b8465e" stroke-width="2.4"/>
<circle cx="57.9" cy="282.7" r="1.5" fill="#2f4a9a"/>
<circle cx="57.9" cy="284.3" r="1.5" fill="#2f4a9a"/>
<circle cx="57.9" cy="285.7" r="1.5" fill="#2f4a9a"/>
<circle cx="57.9" cy="287.3" r="1.5" fill="#2f4a9a"/>
<circle cx="57.9" cy="299" r="1.5" fill="#2f4a9a"/>
<circle cx="57.9" cy="304.9" r="1.5" fill="#2f4a9a"/>
<circle cx="57.9" cy="315.5" r="1.5" fill="#2f4a9a"/>
<circle cx="57.9" cy="316.5" r="1.5" fill="#2f4a9a"/>
<circle cx="57.9" cy="362.8" r="1.5" fill="#2f4a9a"/>
<circle cx="57.9" cy="364.1" r="1.5" fill="#2f4a9a"/>
<circle cx="57.9" cy="366" r="1.5" fill="#2f4a9a"/>
<circle cx="57.9" cy="370" r="1.5" fill="#2f4a9a"/>
<circle cx="86.2" cy="271" r="1.5" fill="#9e2f4a"/>
<circle cx="86.2" cy="274.8" r="1.5" fill="#9e2f4a"/>
<circle cx="86.2" cy="278.4" r="1.5" fill="#9e2f4a"/>
<circle cx="86.2" cy="296.6" r="1.5" fill="#9e2f4a"/>
<circle cx="86.2" cy="354.7" r="1.5" fill="#9e2f4a"/>
<circle cx="86.2" cy="356.6" r="1.5" fill="#9e2f4a"/>
<circle cx="86.2" cy="359.7" r="1.5" fill="#9e2f4a"/>
<circle cx="86.2" cy="372.2" r="1.5" fill="#9e2f4a"/>
<circle cx="86.2" cy="382.5" r="1.5" fill="#9e2f4a"/>
<circle cx="86.2" cy="388.2" r="1.5" fill="#9e2f4a"/>
<circle cx="86.2" cy="391.8" r="1.5" fill="#9e2f4a"/>
<circle cx="114.4" cy="267.5" r="1.5" fill="#2f4a9a"/>
<circle cx="114.4" cy="275.3" r="1.5" fill="#2f4a9a"/>
<circle cx="114.4" cy="276.8" r="1.5" fill="#2f4a9a"/>
<circle cx="114.4" cy="303.6" r="1.5" fill="#2f4a9a"/>
<circle cx="114.4" cy="310.8" r="1.5" fill="#2f4a9a"/>
<circle cx="114.4" cy="313" r="1.5" fill="#2f4a9a"/>
<circle cx="114.4" cy="316.5" r="1.5" fill="#2f4a9a"/>
<circle cx="114.4" cy="327.1" r="1.5" fill="#2f4a9a"/>
<circle cx="114.4" cy="341.5" r="1.5" fill="#2f4a9a"/>
<circle cx="114.4" cy="345.4" r="1.5" fill="#2f4a9a"/>
<circle cx="114.4" cy="359" r="1.5" fill="#2f4a9a"/>
<circle cx="114.4" cy="365.6" r="1.5" fill="#2f4a9a"/>
<circle cx="114.4" cy="367.2" r="1.5" fill="#2f4a9a"/>
<circle cx="114.4" cy="375.7" r="1.5" fill="#2f4a9a"/>
<circle cx="114.4" cy="379.6" r="1.5" fill="#2f4a9a"/>
<circle cx="114.4" cy="381.2" r="1.5" fill="#2f4a9a"/>
<circle cx="114.4" cy="383.5" r="1.5" fill="#2f4a9a"/>
<circle cx="114.4" cy="389" r="1.5" fill="#2f4a9a"/>
<circle cx="114.4" cy="390.8" r="1.5" fill="#2f4a9a"/>
<circle cx="114.4" cy="401.8" r="1.5" fill="#2f4a9a"/>
<circle cx="142.7" cy="266.2" r="1.5" fill="#9e2f4a"/>
<circle cx="142.7" cy="281.8" r="1.5" fill="#9e2f4a"/>
<circle cx="142.7" cy="286.2" r="1.5" fill="#9e2f4a"/>
<circle cx="142.7" cy="287.7" r="1.5" fill="#9e2f4a"/>
<circle cx="142.7" cy="296.8" r="1.5" fill="#9e2f4a"/>
<circle cx="142.7" cy="305.2" r="1.5" fill="#9e2f4a"/>
<circle cx="142.7" cy="306.9" r="1.5" fill="#9e2f4a"/>
<circle cx="142.7" cy="313.4" r="1.5" fill="#9e2f4a"/>
<circle cx="142.7" cy="332.4" r="1.5" fill="#9e2f4a"/>
<circle cx="142.7" cy="344.9" r="1.5" fill="#9e2f4a"/>
<circle cx="142.7" cy="350" r="1.5" fill="#9e2f4a"/>
<circle cx="142.7" cy="352.4" r="1.5" fill="#9e2f4a"/>
<circle cx="142.7" cy="362.5" r="1.5" fill="#9e2f4a"/>
<circle cx="142.7" cy="369.5" r="1.5" fill="#9e2f4a"/>
<circle cx="142.7" cy="380.9" r="1.5" fill="#9e2f4a"/>
<circle cx="142.7" cy="384.3" r="1.5" fill="#9e2f4a"/>
<circle cx="142.7" cy="386.2" r="1.5" fill="#9e2f4a"/>
<circle cx="142.7" cy="395.5" r="1.5" fill="#9e2f4a"/>
<rect x="53.1" y="414.4" width="9.6" height="9.6" fill="#3a5ab6" stroke="#111" stroke-width="1.3"/>
<rect x="81.4" y="414.4" width="9.6" height="9.6" fill="#c84f68" stroke="#111" stroke-width="1.3"/>
<rect x="109.6" y="414.4" width="9.6" height="9.6" fill="#3a5ab6" stroke="#111" stroke-width="1.3"/>
<rect x="137.9" y="414.4" width="9.6" height="9.6" fill="#c84f68" stroke="#111" stroke-width="1.3"/>
<text transform="translate(57.9 433.0) scale(0.955 1)" font-size="9.20" fill="#231f20" stroke="#231f20" stroke-width="0.22" text-anchor="middle">BL</text>
<text transform="translate(86.2 433.0) scale(0.955 1)" font-size="9.20" fill="#231f20" stroke="#231f20" stroke-width="0.22" text-anchor="middle">FU1</text>
<text transform="translate(114.4 433.0) scale(0.955 1)" font-size="9.20" fill="#231f20" stroke="#231f20" stroke-width="0.22" text-anchor="middle">BL</text>
<text transform="translate(142.7 433.0) scale(0.955 1)" font-size="9.20" fill="#231f20" stroke="#231f20" stroke-width="0.22" text-anchor="middle">FU1</text>
<line x1="56.4" y1="437.4" x2="86.5" y2="437.4" stroke="#333" stroke-width="1.4"/>
<line x1="113" y1="437.4" x2="143" y2="437.4" stroke="#333" stroke-width="1.4"/>
<text transform="translate(71.5 448.0) scale(0.955 1)" font-size="9.20" fill="#231f20" stroke="#231f20" stroke-width="0.22" text-anchor="middle">Fast</text>
<text transform="translate(128.2 448.0) scale(0.955 1)" font-size="9.20" fill="#231f20" stroke="#231f20" stroke-width="0.22" text-anchor="middle">Slow</text>
<text x="190.0" y="234.3" font-size="10.6" fill="#000" font-weight="bold">C</text>
<rect x="215.3" y="258.8" width="114.9" height="149.7" fill="#fff" stroke="#bdbdbd" stroke-width="1"/>
<line x1="215.3" y1="399.1" x2="330.2" y2="399.1" stroke="#f4f4f4" stroke-width="0.6"/>
<line x1="215.3" y1="355.8" x2="330.2" y2="355.8" stroke="#f4f4f4" stroke-width="0.6"/>
<line x1="215.3" y1="312.6" x2="330.2" y2="312.6" stroke="#f4f4f4" stroke-width="0.6"/>
<line x1="215.3" y1="269.2" x2="330.2" y2="269.2" stroke="#f4f4f4" stroke-width="0.6"/>
<line x1="215.3" y1="290.9" x2="330.2" y2="290.9" stroke="#ebebeb" stroke-width="0.6"/>
<text transform="translate(210.2 294.1) scale(0.955 1)" font-size="9.20" fill="#231f20" stroke="#231f20" stroke-width="0.22" text-anchor="end">50</text>
<line x1="212.3" y1="290.9" x2="215.3" y2="290.9" stroke="#555" stroke-width="0.6"/>
<line x1="215.3" y1="334.2" x2="330.2" y2="334.2" stroke="#ebebeb" stroke-width="0.6"/>
<text transform="translate(210.2 337.4) scale(0.955 1)" font-size="9.20" fill="#231f20" stroke="#231f20" stroke-width="0.22" text-anchor="end">0</text>
<line x1="212.3" y1="334.2" x2="215.3" y2="334.2" stroke="#555" stroke-width="0.6"/>
<line x1="215.3" y1="377.5" x2="330.2" y2="377.5" stroke="#ebebeb" stroke-width="0.6"/>
<text transform="translate(210.2 380.7) scale(0.955 1)" font-size="9.20" fill="#231f20" stroke="#231f20" stroke-width="0.22" text-anchor="end">−50</text>
<line x1="212.3" y1="377.5" x2="215.3" y2="377.5" stroke="#555" stroke-width="0.6"/>
<line x1="231.6" y1="258.8" x2="231.6" y2="408.5" stroke="#ebebeb" stroke-width="0.6"/>
<line x1="259.3" y1="258.8" x2="259.3" y2="408.5" stroke="#ebebeb" stroke-width="0.6"/>
<line x1="286.6" y1="258.8" x2="286.6" y2="408.5" stroke="#ebebeb" stroke-width="0.6"/>
<line x1="314.0" y1="258.8" x2="314.0" y2="408.5" stroke="#ebebeb" stroke-width="0.6"/>
<text transform="translate(185.3 333.8) rotate(-90) scale(0.955 1)" font-size="9.20" fill="#231f20" stroke="#231f20" stroke-width="0.22" text-anchor="middle">Δ Ratio</text>
<text transform="translate(230.8 251.0) scale(0.955 1)" font-size="9.20" fill="#231f20" stroke="#231f20" stroke-width="0.22"><tspan font-style="italic">P</tspan> = 0.52</text>
<line x1="233.7" y1="254.8" x2="260.6" y2="254.8" stroke="#333" stroke-width="1.4"/>
<text transform="translate(286.3 251.3) scale(0.955 1)" font-size="9.20" fill="#231f20" stroke="#231f20" stroke-width="0.22"><tspan font-style="italic">P</tspan> = 0.035</text>
<line x1="291.0" y1="255.0" x2="319.2" y2="255.0" stroke="#333" stroke-width="1.4"/>
<path d="M226.0 291.6 L226.0 300.0 L225.8 307.0 L224.8 313.0 L223.8 318.0 L221.6 324.0 L220.7 329.0 L220.0 335.0 L219.8 339.0 L220.1 343.0 L221.6 347.0 L222.9 350.0 L223.5 351.3 L240.7 351.3 L241.3 350.0 L242.6 347.0 L244.1 343.0 L244.4 339.0 L244.2 335.0 L243.5 329.0 L242.6 324.0 L240.4 318.0 L239.4 313.0 L238.4 307.0 L238.2 300.0 L238.2 291.6Z" fill="#7191d9" stroke="#4562b0" stroke-width="0.8" stroke-linejoin="round"/>
<path d="M250.5 317.0 L248.8 320.0 L248.1 323.0 L247.5 328.0 L247.1 332.0 L247.5 336.0 L248.7 340.3 L250.3 345.0 L252.4 351.3 L252.8 356.0 L252.9 362.4 L252.9 370.0 L252.9 375.7 L265.7 375.7 L265.7 370.0 L265.7 362.4 L265.8 356.0 L266.2 351.3 L268.3 345.0 L269.9 340.3 L271.1 336.0 L271.5 332.0 L271.1 328.0 L270.5 323.0 L269.8 320.0 L268.1 317.0Z" fill="#cb7282" stroke="#a44b5e" stroke-width="0.8" stroke-linejoin="round"/>
<path d="M279.9 310.4 L279.3 316.0 L279.0 322.6 L278.6 330.0 L278.5 336.0 L278.9 344.0 L279.3 351.3 L280.3 362.0 L281.5 373.5 L282.5 382.0 L283.2 391.0 L283.7 398.0 L284.0 402.2 L289.0 402.2 L289.3 398.0 L289.8 391.0 L290.5 382.0 L291.5 373.5 L292.7 362.0 L293.7 351.3 L294.1 344.0 L294.5 336.0 L294.4 330.0 L294.0 322.6 L293.7 316.0 L293.1 310.4Z" fill="#7191d9" stroke="#4562b0" stroke-width="0.8" stroke-linejoin="round"/>
<path d="M310.5 265.2 L310.1 272.0 L309.5 280.0 L309.0 285.0 L308.2 293.0 L307.7 300.0 L307.2 307.0 L306.5 315.0 L306.0 322.0 L305.9 329.2 L306.1 336.0 L306.4 342.5 L307.0 348.0 L307.5 351.3 L308.3 356.9 L319.3 356.9 L320.1 351.3 L320.6 348.0 L321.2 342.5 L321.5 336.0 L321.7 329.2 L321.6 322.0 L321.1 315.0 L320.4 307.0 L319.9 300.0 L319.4 293.0 L318.6 285.0 L318.1 280.0 L317.5 272.0 L317.1 265.2Z" fill="#cb7282" stroke="#a44b5e" stroke-width="0.8" stroke-linejoin="round"/>
<circle cx="231.6" cy="323.7" r="1.2" fill="#2b3f8c"/>
<circle cx="259.2" cy="343.6" r="1.2" fill="#8c2f45"/>
<circle cx="286.2" cy="349.1" r="1.2" fill="#2b3f8c"/>
<circle cx="313.4" cy="318.6" r="1.2" fill="#8c2f45"/>
<rect x="227.9" y="414.6" width="9.6" height="9.6" fill="#6e8ad4" stroke="#111" stroke-width="1.3"/>
<rect x="254.6" y="414.6" width="9.6" height="9.6" fill="#a3466e" stroke="#111" stroke-width="1.3"/>
<rect x="281.9" y="414.6" width="9.6" height="9.6" fill="#6e8ad4" stroke="#111" stroke-width="1.3"/>
<rect x="308.3" y="414.6" width="9.6" height="9.6" fill="#a3466e" stroke="#111" stroke-width="1.3"/>
<text transform="translate(231.6 433.0) scale(0.955 1)" font-size="9.20" fill="#231f20" stroke="#231f20" stroke-width="0.22" text-anchor="middle">M2</text>
<text transform="translate(259.3 433.0) scale(0.955 1)" font-size="9.20" fill="#231f20" stroke="#231f20" stroke-width="0.22" text-anchor="middle">M1</text>
<text transform="translate(286.6 433.0) scale(0.955 1)" font-size="9.20" fill="#231f20" stroke="#231f20" stroke-width="0.22" text-anchor="middle">M2</text>
<text transform="translate(314.0 433.0) scale(0.955 1)" font-size="9.20" fill="#231f20" stroke="#231f20" stroke-width="0.22" text-anchor="middle">M1</text>
<line x1="232" y1="438.8" x2="260.7" y2="438.8" stroke="#333" stroke-width="1.4"/>
<line x1="286" y1="438.8" x2="314.7" y2="438.8" stroke="#333" stroke-width="1.4"/>
<text transform="translate(246.0 448.6) scale(0.955 1)" font-size="9.20" fill="#231f20" stroke="#231f20" stroke-width="0.22" text-anchor="middle">Fast</text>
<text transform="translate(300.8 448.6) scale(0.955 1)" font-size="9.20" fill="#231f20" stroke="#231f20" stroke-width="0.22" text-anchor="middle">Slow</text>
<text transform="translate(270.4 459.0) scale(0.955 1)" font-size="9.20" fill="#231f20" stroke="#231f20" stroke-width="0.22" text-anchor="middle">Δ = Follow up 1 – Baseline</text>
<text x="356.4" y="234.5" font-size="10.6" fill="#000" font-weight="bold">D</text>
<line x1="404.4" y1="231.3" x2="417" y2="231.3" stroke="#e4742f" stroke-width="2.6"/>
<text transform="translate(422.7 233.8) scale(0.955 1)" font-size="9.20" fill="#231f20" stroke="#231f20" stroke-width="0.22">Fast progressor</text>
<text transform="translate(422.7 244.3) scale(0.955 1)" font-size="9.20" fill="#231f20" stroke="#231f20" stroke-width="0.22"><tspan font-style="italic">R</tspan> = 0.36, <tspan font-style="italic">P</tspan> = 0.25</text>
<line x1="404.4" y1="256.2" x2="417" y2="256.2" stroke="#2a4f96" stroke-width="2.6"/>
<text transform="translate(422.7 258.8) scale(0.955 1)" font-size="9.20" fill="#231f20" stroke="#231f20" stroke-width="0.22">Slow progressor</text>
<text transform="translate(422.7 269.0) scale(0.955 1)" font-size="9.20" fill="#231f20" stroke="#231f20" stroke-width="0.22"><tspan font-style="italic">R</tspan> = −0.46, <tspan font-style="italic">P</tspan> = 0.041</text>
<rect x="399.3" y="273.5" width="109.3" height="135.0" fill="#fff" stroke="#bdbdbd" stroke-width="1"/>
<line x1="399.3" y1="416.8" x2="508.6" y2="416.8" stroke="#f4f4f4" stroke-width="0.6"/>
<line x1="399.3" y1="390.6" x2="508.6" y2="390.6" stroke="#f4f4f4" stroke-width="0.6"/>
<line x1="399.3" y1="364.6" x2="508.6" y2="364.6" stroke="#f4f4f4" stroke-width="0.6"/>
<line x1="399.3" y1="338.4" x2="508.6" y2="338.4" stroke="#f4f4f4" stroke-width="0.6"/>
<line x1="399.3" y1="312.4" x2="508.6" y2="312.4" stroke="#f4f4f4" stroke-width="0.6"/>
<line x1="399.3" y1="286.2" x2="508.6" y2="286.2" stroke="#f4f4f4" stroke-width="0.6"/>
<line x1="414.3" y1="273.5" x2="414.3" y2="408.5" stroke="#f4f4f4" stroke-width="0.6"/>
<line x1="444.1" y1="273.5" x2="444.1" y2="408.5" stroke="#f4f4f4" stroke-width="0.6"/>
<line x1="473.8" y1="273.5" x2="473.8" y2="408.5" stroke="#f4f4f4" stroke-width="0.6"/>
<line x1="503.6" y1="273.5" x2="503.6" y2="408.5" stroke="#f4f4f4" stroke-width="0.6"/>
<line x1="399.3" y1="299.3" x2="508.6" y2="299.3" stroke="#ebebeb" stroke-width="0.6"/>
<text transform="translate(395.2 302.5) scale(0.955 1)" font-size="9.20" fill="#231f20" stroke="#231f20" stroke-width="0.22" text-anchor="end">50</text>
<line x1="397.2" y1="299.3" x2="399.3" y2="299.3" stroke="#555" stroke-width="0.6"/>
<line x1="399.3" y1="325.4" x2="508.6" y2="325.4" stroke="#ebebeb" stroke-width="0.6"/>
<text transform="translate(395.2 328.6) scale(0.955 1)" font-size="9.20" fill="#231f20" stroke="#231f20" stroke-width="0.22" text-anchor="end">25</text>
<line x1="397.2" y1="325.4" x2="399.3" y2="325.4" stroke="#555" stroke-width="0.6"/>
<line x1="399.3" y1="351.5" x2="508.6" y2="351.5" stroke="#ebebeb" stroke-width="0.6"/>
<text transform="translate(395.2 354.7) scale(0.955 1)" font-size="9.20" fill="#231f20" stroke="#231f20" stroke-width="0.22" text-anchor="end">0</text>
<line x1="397.2" y1="351.5" x2="399.3" y2="351.5" stroke="#555" stroke-width="0.6"/>
<line x1="399.3" y1="377.6" x2="508.6" y2="377.6" stroke="#ebebeb" stroke-width="0.6"/>
<text transform="translate(395.2 380.8) scale(0.955 1)" font-size="9.20" fill="#231f20" stroke="#231f20" stroke-width="0.22" text-anchor="end">−25</text>
<line x1="397.2" y1="377.6" x2="399.3" y2="377.6" stroke="#555" stroke-width="0.6"/>
<line x1="399.3" y1="403.7" x2="508.6" y2="403.7" stroke="#ebebeb" stroke-width="0.6"/>
<text transform="translate(395.2 406.9) scale(0.955 1)" font-size="9.20" fill="#231f20" stroke="#231f20" stroke-width="0.22" text-anchor="end">−50</text>
<line x1="397.2" y1="403.7" x2="399.3" y2="403.7" stroke="#555" stroke-width="0.6"/>
<line x1="429.2" y1="273.5" x2="429.2" y2="408.5" stroke="#ebebeb" stroke-width="0.6"/>
<text transform="translate(429.2 420.8) scale(0.955 1)" font-size="9.20" fill="#231f20" stroke="#231f20" stroke-width="0.22" text-anchor="middle">−50</text>
<line x1="429.2" y1="408.5" x2="429.2" y2="410.5" stroke="#555" stroke-width="0.6"/>
<line x1="458.9" y1="273.5" x2="458.9" y2="408.5" stroke="#ebebeb" stroke-width="0.6"/>
<text transform="translate(458.9 420.8) scale(0.955 1)" font-size="9.20" fill="#231f20" stroke="#231f20" stroke-width="0.22" text-anchor="middle">−25</text>
<line x1="458.9" y1="408.5" x2="458.9" y2="410.5" stroke="#555" stroke-width="0.6"/>
<line x1="488.7" y1="273.5" x2="488.7" y2="408.5" stroke="#ebebeb" stroke-width="0.6"/>
<text transform="translate(488.7 420.8) scale(0.955 1)" font-size="9.20" fill="#231f20" stroke="#231f20" stroke-width="0.22" text-anchor="middle">0</text>
<line x1="488.7" y1="408.5" x2="488.7" y2="410.5" stroke="#555" stroke-width="0.6"/>
<circle cx="456.8" cy="330.7" r="1.8" fill="#de9660"/>
<circle cx="421.5" cy="346.2" r="1.8" fill="#de9660"/>
<circle cx="438.4" cy="343.8" r="1.8" fill="#de9660"/>
<circle cx="438.4" cy="346.2" r="1.8" fill="#de9660"/>
<circle cx="452.2" cy="346.2" r="1.8" fill="#de9660"/>
<circle cx="474.2" cy="345.2" r="1.8" fill="#de9660"/>
<circle cx="481.5" cy="349.6" r="1.8" fill="#de9660"/>
<circle cx="471.2" cy="368.5" r="1.8" fill="#de9660"/>
<circle cx="472.5" cy="394.2" r="1.8" fill="#de9660"/>
<circle cx="403.8" cy="402.7" r="1.8" fill="#de9660"/>
<circle cx="442.1" cy="402" r="1.8" fill="#de9660"/>
<circle cx="408.8" cy="279.2" r="1.8" fill="#5272a6"/>
<circle cx="430.1" cy="292.4" r="1.8" fill="#5272a6"/>
<circle cx="449.7" cy="285.7" r="1.8" fill="#5272a6"/>
<circle cx="453.2" cy="292.6" r="1.8" fill="#5272a6"/>
<circle cx="449.7" cy="306.9" r="1.8" fill="#5272a6"/>
<circle cx="440.2" cy="317.5" r="1.8" fill="#5272a6"/>
<circle cx="447.2" cy="320.3" r="1.8" fill="#5272a6"/>
<circle cx="475.1" cy="318.7" r="1.8" fill="#5272a6"/>
<circle cx="441.8" cy="330.7" r="1.8" fill="#5272a6"/>
<circle cx="451.1" cy="331.4" r="1.8" fill="#5272a6"/>
<circle cx="451.8" cy="345.7" r="1.8" fill="#5272a6"/>
<circle cx="437.7" cy="351.2" r="1.8" fill="#5272a6"/>
<circle cx="450.9" cy="352.4" r="1.8" fill="#5272a6"/>
<circle cx="456.6" cy="350.3" r="1.8" fill="#5272a6"/>
<circle cx="451.8" cy="366" r="1.8" fill="#5272a6"/>
<circle cx="467.2" cy="366.7" r="1.8" fill="#5272a6"/>
<circle cx="461.9" cy="374.3" r="1.8" fill="#5272a6"/>
<circle cx="461.5" cy="376.6" r="1.8" fill="#5272a6"/>
<circle cx="475.8" cy="379.9" r="1.8" fill="#5272a6"/>
<circle cx="488.2" cy="371.8" r="1.8" fill="#5272a6"/>
<circle cx="503.5" cy="372.5" r="1.8" fill="#5272a6"/>
<line x1="404" y1="370.4" x2="503.5" y2="354.2" stroke="#d86a2c" stroke-width="1.3"/>
<line x1="404.2" y1="283.4" x2="503" y2="388.9" stroke="#1f3c7c" stroke-width="1.3"/>
<text transform="translate(368.0 341.8) rotate(-90) scale(0.955 1)" font-size="9.46" fill="#231f20" stroke="#231f20" stroke-width="0.22" text-anchor="middle">M1/(M1+M2) ratio</text>
<text transform="translate(454.2 433.0) scale(0.955 1)" font-size="9.20" fill="#231f20" stroke="#231f20" stroke-width="0.22" text-anchor="middle">Δ Tumor volume (%)</text>
<text transform="translate(454.2 444.4) scale(0.955 1)" font-size="9.20" fill="#231f20" stroke="#231f20" stroke-width="0.22" text-anchor="middle">(1 cycle)</text>
<text transform="translate(452.5 459.6) scale(0.955 1)" font-size="9.20" fill="#231f20" stroke="#231f20" stroke-width="0.22" text-anchor="middle">Δ = Follow up 1 – Baseline</text>
<text x="1.3" y="478.9" font-size="10.6" fill="#000" font-weight="bold">E</text>
<rect x="14.0" y="485.0" width="162.0" height="122.5" fill="#000"/>
<rect x="180.4" y="485.0" width="165.2" height="122.5" fill="#000"/>
<rect x="350.3" y="485.0" width="168.7" height="122.5" fill="#000"/>
<rect x="14.0" y="626.0" width="162.0" height="123.5" fill="#000"/>
<rect x="180.4" y="626.0" width="165.2" height="123.5" fill="#000"/>
<rect x="350.3" y="626.0" width="168.7" height="123.5" fill="#000"/>
<clipPath id="cp1"><path d="M25 493.5H113L112 530L110 560L113 592H25Z"/></clipPath>
<g clip-path="url(#cp1)">
<rect x="25.0" y="493.5" width="88.0" height="98.5" fill="#000"/>
<rect x="25.0" y="493.5" width="88.0" height="98.5" filter="url(#f1)"/>
<rect x="25.0" y="493.5" width="88.0" height="98.5" filter="url(#f2)"/>
<rect x="25.0" y="493.5" width="88.0" height="98.5" filter="url(#f3)"/>
<rect x="25.0" y="493.5" width="88.0" height="98.5" filter="url(#f4)"/>
</g>
<clipPath id="cp2"><path d="M70 500L112 505L112 560L60 570Z"/></clipPath>
<rect x="25.0" y="493.5" width="88.0" height="98.5" filter="url(#f5)" clip-path="url(#cp2)"/>
<clipPath id="cp3"><path d="M25 560L45 555L50 592H25Z"/></clipPath>
<rect x="25.0" y="493.5" width="88.0" height="98.5" filter="url(#f6)" clip-path="url(#cp3)"/>
<rect x="126.3" y="487.0" width="44.5" height="57.0" fill="#17122f"/>
<rect x="126.3" y="487.0" width="44.5" height="57.0" filter="url(#f7)"/>
<rect x="126.3" y="549.0" width="44.5" height="52.0" fill="#17122f"/>
<rect x="126.3" y="549.0" width="44.5" height="52.0" filter="url(#f8)"/>
<ellipse cx="158" cy="500" rx="10" ry="9" fill="#6a58b0" opacity="0.45" filter="url(#blur2)"/>
<clipPath id="cp4"><path d="M193 492H279L279 518L262 522L240 520L220 530L205 533L193 531Z"/></clipPath>
<g clip-path="url(#cp4)">
<rect x="193.0" y="492.0" width="86.0" height="41.0" fill="#000"/>
<rect x="193.0" y="492.0" width="86.0" height="41.0" filter="url(#f9)"/>
<rect x="193.0" y="492.0" width="86.0" height="41.0" filter="url(#f10)"/>
<rect x="193.0" y="492.0" width="86.0" height="41.0" filter="url(#f11)"/>
<rect x="193.0" y="492.0" width="86.0" height="41.0" filter="url(#f12)"/>
<rect x="193.0" y="492.0" width="86.0" height="41.0" filter="url(#f13)"/>
<rect x="193.0" y="492.0" width="86.0" height="41.0" filter="url(#f14)"/>
</g>
<ellipse cx="266" cy="505" rx="10" ry="8" fill="#e8283a" opacity="0.85"/>
<clipPath id="cp5"><path d="M218 494L252 494L250 512L220 512Z"/></clipPath>
<rect x="193.0" y="492.0" width="86.0" height="41.0" filter="url(#f15)" clip-path="url(#cp5)"/>
<clipPath id="cp6"><path d="M193 558C200 548 210 540 222 537L236 535C250 538 265 541 280 544V595H193Z"/></clipPath>
<g clip-path="url(#cp6)"><rect x="193" y="534" width="87" height="61" fill="#2a1a08"/></g>
<rect x="193.0" y="534.0" width="87.0" height="61.0" filter="url(#f16)" clip-path="url(#cp6)"/>
<rect x="193.0" y="534.0" width="87.0" height="61.0" filter="url(#f17)" clip-path="url(#cp6)"/>
<path d="M193 560C200 550 210 542 222 539L236 537C250 540 266 543 280 546" fill="none" stroke="#d8a838" stroke-width="3" opacity="0.8" filter="url(#blur1)"/>
<rect x="193.0" y="534.0" width="87.0" height="30.0" filter="url(#f18)" clip-path="url(#cp6)"/>
<path d="M216 539L236 534L238 538L220 542Z" fill="#e0b030"/>
<ellipse cx="232" cy="577" rx="10" ry="8.5" fill="#7a1014"/><g fill="none" stroke="#e0202c" stroke-width="5.5"><ellipse cx="232" cy="577" rx="10.5" ry="9"/><ellipse cx="254" cy="560" rx="7" ry="5.5"/></g>
<g fill="#d01e2a" opacity="0.9"><ellipse cx="272" cy="560" rx="7" ry="12"/><ellipse cx="260" cy="590" rx="9" ry="5"/><ellipse cx="203" cy="585" rx="6" ry="5"/></g>
<rect x="294.4" y="487.0" width="47.4" height="56.0" fill="#17122f"/>
<rect x="294.4" y="487.0" width="47.4" height="56.0" filter="url(#f19)"/>
<clipPath id="cp7"><path d="M296 506C305 502 320 503 340 505V537H296Z"/></clipPath>
<g clip-path="url(#cp7)"><rect x="294" y="500" width="48" height="40" fill="#33206a"/></g>
<rect x="294.0" y="500.0" width="48.0" height="40.0" filter="url(#f20)" clip-path="url(#cp7)"/>
<ellipse cx="322" cy="525" rx="7" ry="6" fill="#2a1f55" opacity="0.8"/>
<rect x="294.4" y="549.0" width="47.4" height="52.0" fill="#17122f"/>
<rect x="294.4" y="549.0" width="47.4" height="52.0" filter="url(#f21)"/>
<clipPath id="cp8"><path d="M296 572L342 568V600H296Z"/></clipPath>
<rect x="294.4" y="549.0" width="47.4" height="52.0" filter="url(#f22)" clip-path="url(#cp8)"/>
<g>
<rect x="359.8" y="493.8" width="90.0" height="99.7" fill="#000"/>
<rect x="359.8" y="493.8" width="90.0" height="99.7" filter="url(#f23)"/>
<rect x="359.8" y="493.8" width="90.0" height="99.7" filter="url(#f24)"/>
<rect x="359.8" y="493.8" width="90.0" height="99.7" filter="url(#f25)"/>
<rect x="359.8" y="493.8" width="90.0" height="99.7" filter="url(#f26)"/>
<rect x="359.8" y="493.8" width="90.0" height="99.7" filter="url(#f27)"/>
<rect x="359.8" y="493.8" width="90.0" height="99.7" filter="url(#f28)"/>
</g>
<rect x="467.7" y="487.0" width="45.8" height="51.0" fill="#17122f"/>
<rect x="467.7" y="487.0" width="45.8" height="51.0" filter="url(#f29)"/>
<rect x="467.7" y="549.0" width="45.8" height="52.0" fill="#17122f"/>
<rect x="467.7" y="549.0" width="45.8" height="52.0" filter="url(#f30)"/>
<ellipse cx="480" cy="496" rx="10" ry="8" fill="#7a5cc0" opacity="0.5" filter="url(#blur2)"/>
<clipPath id="cp9"><path d="M25.8 635.2H96.5L112 649V730.6H25.8Z"/></clipPath>
<g clip-path="url(#cp9)">
<rect x="25.8" y="635.2" width="86.2" height="95.4" fill="#000"/>
<rect x="25.8" y="635.2" width="86.2" height="95.4" filter="url(#f31)"/>
<rect x="25.8" y="635.2" width="86.2" height="95.4" filter="url(#f32)"/>
<rect x="25.8" y="635.2" width="86.2" height="95.4" filter="url(#f33)"/>
<rect x="25.8" y="635.2" width="86.2" height="95.4" filter="url(#f34)"/>
<rect x="25.8" y="635.2" width="86.2" height="95.4" filter="url(#f35)"/>
<rect x="25.8" y="635.2" width="86.2" height="95.4" filter="url(#f36)"/>
</g>
<rect x="25.8" y="690" width="86.2" height="41" fill="#000" opacity="0.3"/>
<clipPath id="cp10"><path d="M34 648L50 645L58 660L56 680L44 684L36 670Z"/></clipPath>
<rect x="25.8" y="635.2" width="86.2" height="95.4" filter="url(#f37)" clip-path="url(#cp10)"/>
<rect x="25.8" y="635.2" width="86.2" height="95.4" filter="url(#f38)" clip-path="url(#cp9)"/>
<rect x="126.0" y="630.0" width="45.8" height="47.6" fill="#17122f"/>
<rect x="126.0" y="630.0" width="45.8" height="47.6" filter="url(#f39)"/>
<rect x="126.0" y="692.0" width="45.8" height="46.0" fill="#17122f"/>
<rect x="126.0" y="692.0" width="45.8" height="46.0" filter="url(#f40)"/>
<clipPath id="cp11"><path d="M126 692H160L150 720L126 725Z"/></clipPath>
<rect x="126.0" y="692.0" width="45.8" height="46.0" filter="url(#f41)" clip-path="url(#cp11)"/>
<g>
<rect x="188.0" y="633.7" width="94.0" height="98.3" fill="#000"/>
<rect x="188.0" y="633.7" width="94.0" height="98.3" filter="url(#f42)"/>
<rect x="188.0" y="633.7" width="94.0" height="98.3" filter="url(#f43)"/>
<rect x="188.0" y="633.7" width="94.0" height="98.3" filter="url(#f44)"/>
<rect x="188.0" y="633.7" width="94.0" height="98.3" filter="url(#f45)"/>
<rect x="188.0" y="633.7" width="94.0" height="98.3" filter="url(#f46)"/>
</g>
<path d="M238 633.7H282V731.9H232L228 700Z" fill="#000" opacity="0.4"/>
<ellipse cx="240" cy="692" rx="11" ry="24" fill="#000" opacity="0.9" filter="url(#blur2)"/>
<ellipse cx="268" cy="715" rx="14" ry="14" fill="#000" opacity="0.6" filter="url(#blur2)"/>
<clipPath id="cp12"><path d="M254 642L272 640L278 660L276 700L262 706L256 680Z M236 700L256 698L260 728H236Z"/></clipPath>
<rect x="188.0" y="633.7" width="94.0" height="98.3" filter="url(#f47)" clip-path="url(#cp12)"/>
<rect x="294.5" y="630.0" width="47.0" height="46.0" fill="#17122f"/>
<rect x="294.5" y="630.0" width="47.0" height="46.0" filter="url(#f48)"/>
<rect x="294.5" y="692.0" width="47.0" height="48.0" fill="#17122f"/>
<rect x="294.5" y="692.0" width="47.0" height="48.0" filter="url(#f49)"/>
<clipPath id="cp13"><path d="M328 700H341V740H318Z"/></clipPath>
<rect x="294.5" y="692.0" width="47.0" height="48.0" filter="url(#f50)" clip-path="url(#cp13)"/>
<g>
<rect x="361.0" y="632.0" width="91.0" height="98.6" fill="#000"/>
<rect x="361.0" y="632.0" width="91.0" height="98.6" filter="url(#f51)"/>
<rect x="361.0" y="632.0" width="91.0" height="98.6" filter="url(#f52)"/>
<rect x="361.0" y="632.0" width="91.0" height="98.6" filter="url(#f53)"/>
<rect x="361.0" y="632.0" width="91.0" height="98.6" filter="url(#f54)"/>
<rect x="361.0" y="632.0" width="91.0" height="98.6" filter="url(#f55)"/>
<rect x="361.0" y="632.0" width="91.0" height="98.6" filter="url(#f56)"/>
</g>
<g fill="none" stroke="#ea2230" stroke-width="3.2"><ellipse cx="419.8" cy="646.5" rx="6" ry="9.5"/><ellipse cx="428.5" cy="696" rx="7.5" ry="7.5"/><ellipse cx="377" cy="657" rx="5" ry="6"/><ellipse cx="392" cy="648" rx="4" ry="5"/></g>
<ellipse cx="395" cy="688" rx="12" ry="12" fill="#000" opacity="0.6" filter="url(#blur2)"/>
<clipPath id="cp14"><path d="M361 655H390V705H361Z"/></clipPath>
<rect x="361.0" y="632.0" width="91.0" height="98.6" filter="url(#f57)" clip-path="url(#cp14)"/>
<rect x="468.2" y="630.6" width="42.2" height="44.4" fill="#17122f"/>
<rect x="468.2" y="630.6" width="42.2" height="44.4" filter="url(#f58)"/>
<rect x="468.2" y="692.0" width="42.2" height="40.0" fill="#17122f"/>
<rect x="468.2" y="692.0" width="42.2" height="40.0" filter="url(#f59)"/>
<path d="M19.7 600.5H32.6M19.7 598.5V602.5M32.6 598.5V602.5" stroke="#bbb" stroke-width="0.7" fill="none"/>
<text transform="translate(34.2 602.8) scale(0.955 1)" font-size="9.20" fill="#fff">100 μm</text>
<path d="M187 599H200M187 597V601M200 597V601" stroke="#bbb" stroke-width="0.7" fill="none"/>
<text transform="translate(201.5 601.7) scale(0.955 1)" font-size="9.20" fill="#fff">100 μm</text>
<path d="M356.5 599.5H369.5M356.5 597.5V601.5M369.5 597.5V601.5" stroke="#bbb" stroke-width="0.7" fill="none"/>
<text transform="translate(371.0 602.3) scale(0.955 1)" font-size="9.20" fill="#fff">100 μm</text>
<path d="M19.7 741.5H32.6M19.7 739.5V743.5M32.6 739.5V743.5" stroke="#bbb" stroke-width="0.7" fill="none"/>
<text transform="translate(34.2 744.6) scale(0.955 1)" font-size="9.20" fill="#fff">100 μm</text>
<path d="M187 741H200M187 739V743M200 739V743" stroke="#bbb" stroke-width="0.7" fill="none"/>
<text transform="translate(201.5 744.0) scale(0.955 1)" font-size="9.20" fill="#fff">100 μm</text>
<path d="M356.5 741H369.5M356.5 739V743M369.5 739V743" stroke="#bbb" stroke-width="0.7" fill="none"/>
<text transform="translate(371.0 744.0) scale(0.955 1)" font-size="9.20" fill="#fff">100 μm</text>
<text transform="translate(114.2 543.7) scale(0.955 1)" font-size="9.20" fill="#fff">100 μm <tspan fill="#c41e1e">M1</tspan></text>
<text transform="translate(114.2 604.0) scale(0.955 1)" font-size="9.20" fill="#fff">100 μm <tspan fill="#2fb062">M2</tspan></text>
<line x1="126.2" y1="546.0" x2="166.2" y2="546.0" stroke="#888" stroke-width="0.6"/>
<text transform="translate(284.0 542.8) scale(0.955 1)" font-size="9.20" fill="#fff">100 μm <tspan fill="#c41e1e">M1</tspan></text>
<text transform="translate(284.0 603.3) scale(0.955 1)" font-size="9.20" fill="#fff">100 μm <tspan fill="#2fb062">M2</tspan></text>
<line x1="296.0" y1="545.1" x2="336.0" y2="545.1" stroke="#888" stroke-width="0.6"/>
<text transform="translate(455.0 542.8) scale(0.955 1)" font-size="9.20" fill="#fff">100 μm <tspan fill="#c41e1e">M1</tspan></text>
<text transform="translate(455.0 603.3) scale(0.955 1)" font-size="9.20" fill="#fff">100 μm <tspan fill="#2fb062">M2</tspan></text>
<line x1="467.0" y1="545.1" x2="507.0" y2="545.1" stroke="#888" stroke-width="0.6"/>
<text transform="translate(114.2 684.8) scale(0.955 1)" font-size="9.20" fill="#fff">100 μm <tspan fill="#c41e1e">M1</tspan></text>
<text transform="translate(114.2 745.0) scale(0.955 1)" font-size="9.20" fill="#fff">100 μm <tspan fill="#2fb062">M2</tspan></text>
<line x1="126.2" y1="687.1" x2="166.2" y2="687.1" stroke="#888" stroke-width="0.6"/>
<text transform="translate(284.0 684.8) scale(0.955 1)" font-size="9.20" fill="#fff">100 μm <tspan fill="#c41e1e">M1</tspan></text>
<text transform="translate(284.0 745.0) scale(0.955 1)" font-size="9.20" fill="#fff">100 μm <tspan fill="#2fb062">M2</tspan></text>
<line x1="296.0" y1="687.1" x2="336.0" y2="687.1" stroke="#888" stroke-width="0.6"/>
<text transform="translate(455.0 684.8) scale(0.955 1)" font-size="9.20" fill="#fff">100 μm <tspan fill="#c41e1e">M1</tspan></text>
<text transform="translate(455.0 745.0) scale(0.955 1)" font-size="9.20" fill="#fff">100 μm <tspan fill="#2fb062">M2</tspan></text>
<line x1="467.0" y1="687.1" x2="507.0" y2="687.1" stroke="#888" stroke-width="0.6"/>
<path d="M164.8 539.1H183.8V534.3L194.8 544.3L183.8 554.3V549.5H164.8Z" fill="url(#ag)"/>
<text transform="translate(166.4 546.9) scale(0.955 1)" font-size="8.26" fill="#fff">1 cycle</text>
<path d="M334.1 539.4H353.8V534.6L364.4 544.6L353.8 554.6V549.8H334.1Z" fill="url(#ag)"/>
<text transform="translate(335.7 547.2) scale(0.955 1)" font-size="7.63" fill="#fff">7 cycles</text>
<path d="M163.8 683.3H183.5V678.5L193.8 688.5L183.5 698.5V693.7H163.8Z" fill="url(#ag)"/>
<text transform="translate(165.4 691.1) scale(0.955 1)" font-size="8.26" fill="#fff">1 cycle</text>
<path d="M334.1 683.5H353.8V678.7L364.4 688.7L353.8 698.7V693.9H334.1Z" fill="url(#ag)"/>
<text transform="translate(335.7 691.3) scale(0.955 1)" font-size="7.63" fill="#fff">7 cycles</text>
<text transform="translate(95.2 618.5) scale(0.955 1)" font-size="9.20" fill="#231f20" stroke="#231f20" stroke-width="0.22" text-anchor="middle">Baseline</text>
<text transform="translate(263.0 618.5) scale(0.955 1)" font-size="9.20" fill="#231f20" stroke="#231f20" stroke-width="0.22" text-anchor="middle">Follow up 1</text>
<text transform="translate(434.6 618.5) scale(0.955 1)" font-size="9.20" fill="#231f20" stroke="#231f20" stroke-width="0.22" text-anchor="middle">Follow up 2</text>
<text transform="translate(95.2 760.5) scale(0.955 1)" font-size="9.20" fill="#231f20" stroke="#231f20" stroke-width="0.22" text-anchor="middle">Baseline</text>
<text transform="translate(263.0 760.5) scale(0.955 1)" font-size="9.20" fill="#231f20" stroke="#231f20" stroke-width="0.22" text-anchor="middle">Follow up 1</text>
<text transform="translate(434.6 760.5) scale(0.955 1)" font-size="9.20" fill="#231f20" stroke="#231f20" stroke-width="0.22" text-anchor="middle">Follow up 2</text>
<text transform="translate(8.2 543.5) rotate(-90) scale(0.955 1)" font-size="9.20" fill="#231f20" stroke="#231f20" stroke-width="0.22" text-anchor="middle">Slow progressor (E40)</text>
<text transform="translate(8.2 687.0) rotate(-90) scale(0.955 1)" font-size="9.20" fill="#231f20" stroke="#231f20" stroke-width="0.22" text-anchor="middle">Fast progressor (E41)</text>
<text x="1.4" y="783.0" font-size="10.6" fill="#000" font-weight="bold">F</text>
<rect x="50.2" y="795.4" width="114.2" height="159.8" fill="#fff" stroke="#bdbdbd" stroke-width="1"/>
<line x1="50.2" y1="928.2" x2="164.4" y2="928.2" stroke="#f4f4f4" stroke-width="0.6"/>
<line x1="50.2" y1="888.5" x2="164.4" y2="888.5" stroke="#f4f4f4" stroke-width="0.6"/>
<line x1="50.2" y1="848.8" x2="164.4" y2="848.8" stroke="#f4f4f4" stroke-width="0.6"/>
<line x1="50.2" y1="809.2" x2="164.4" y2="809.2" stroke="#f4f4f4" stroke-width="0.6"/>
<line x1="50.2" y1="948.0" x2="164.4" y2="948.0" stroke="#ebebeb" stroke-width="0.6"/>
<text transform="translate(45.0 951.2) scale(0.955 1)" font-size="9.20" fill="#231f20" stroke="#231f20" stroke-width="0.22" text-anchor="end">0</text>
<line x1="47.6" y1="948.0" x2="50.2" y2="948.0" stroke="#555" stroke-width="0.6"/>
<line x1="50.2" y1="908.3" x2="164.4" y2="908.3" stroke="#ebebeb" stroke-width="0.6"/>
<text transform="translate(45.0 911.5) scale(0.955 1)" font-size="9.20" fill="#231f20" stroke="#231f20" stroke-width="0.22" text-anchor="end">25</text>
<line x1="47.6" y1="908.3" x2="50.2" y2="908.3" stroke="#555" stroke-width="0.6"/>
<line x1="50.2" y1="868.7" x2="164.4" y2="868.7" stroke="#ebebeb" stroke-width="0.6"/>
<text transform="translate(45.0 871.9) scale(0.955 1)" font-size="9.20" fill="#231f20" stroke="#231f20" stroke-width="0.22" text-anchor="end">50</text>
<line x1="47.6" y1="868.7" x2="50.2" y2="868.7" stroke="#555" stroke-width="0.6"/>
<line x1="50.2" y1="829.0" x2="164.4" y2="829.0" stroke="#ebebeb" stroke-width="0.6"/>
<text transform="translate(45.0 832.2) scale(0.955 1)" font-size="9.20" fill="#231f20" stroke="#231f20" stroke-width="0.22" text-anchor="end">75</text>
<line x1="47.6" y1="829.0" x2="50.2" y2="829.0" stroke="#555" stroke-width="0.6"/>
<line x1="60.8" y1="795.4" x2="60.8" y2="955.2" stroke="#ebebeb" stroke-width="0.6"/>
<line x1="79.4" y1="795.4" x2="79.4" y2="955.2" stroke="#ebebeb" stroke-width="0.6"/>
<line x1="97.6" y1="795.4" x2="97.6" y2="955.2" stroke="#ebebeb" stroke-width="0.6"/>
<line x1="115.9" y1="795.4" x2="115.9" y2="955.2" stroke="#ebebeb" stroke-width="0.6"/>
<line x1="134.1" y1="795.4" x2="134.1" y2="955.2" stroke="#ebebeb" stroke-width="0.6"/>
<line x1="152.3" y1="795.4" x2="152.3" y2="955.2" stroke="#ebebeb" stroke-width="0.6"/>
<line x1="60.8" y1="923.7" x2="60.8" y2="932.4" stroke="#e58a4e" stroke-width="0.9"/>
<line x1="60.8" y1="943.0" x2="60.8" y2="947.0" stroke="#e58a4e" stroke-width="0.9"/>
<rect x="54.0" y="932.4" width="13.7" height="10.6" fill="none" stroke="#e58a4e" stroke-width="0.9"/>
<line x1="54.0" y1="940.3" x2="67.7" y2="940.3" stroke="#e58a4e" stroke-width="2.6"/>
<line x1="79.4" y1="880.6" x2="79.4" y2="909.4" stroke="#4b62b4" stroke-width="0.9"/>
<line x1="79.4" y1="934.8" x2="79.4" y2="947.8" stroke="#4b62b4" stroke-width="0.9"/>
<rect x="72.6" y="909.4" width="13.8" height="25.4" fill="none" stroke="#4b62b4" stroke-width="0.9"/>
<line x1="72.6" y1="924.8" x2="86.4" y2="924.8" stroke="#4b62b4" stroke-width="2.6"/>
<line x1="97.6" y1="927.5" x2="97.6" y2="937.4" stroke="#e58a4e" stroke-width="0.9"/>
<line x1="97.6" y1="945.2" x2="97.6" y2="946.3" stroke="#e58a4e" stroke-width="0.9"/>
<rect x="90.9" y="937.4" width="13.3" height="7.8" fill="none" stroke="#e58a4e" stroke-width="0.9"/>
<line x1="90.9" y1="943.0" x2="104.2" y2="943.0" stroke="#e58a4e" stroke-width="2.6"/>
<line x1="115.9" y1="802.3" x2="115.9" y2="844.1" stroke="#4b62b4" stroke-width="0.9"/>
<line x1="115.9" y1="927.0" x2="115.9" y2="947.8" stroke="#4b62b4" stroke-width="0.9"/>
<rect x="108.7" y="844.1" width="14.3" height="82.9" fill="none" stroke="#4b62b4" stroke-width="0.9"/>
<line x1="108.7" y1="907.6" x2="123.0" y2="907.6" stroke="#4b62b4" stroke-width="2.6"/>
<line x1="134.1" y1="925.3" x2="134.1" y2="933.0" stroke="#e58a4e" stroke-width="0.9"/>
<line x1="134.1" y1="944.0" x2="134.1" y2="945.2" stroke="#e58a4e" stroke-width="0.9"/>
<rect x="127.4" y="933.0" width="13.6" height="11.0" fill="none" stroke="#e58a4e" stroke-width="0.9"/>
<line x1="127.4" y1="941.9" x2="141.0" y2="941.9" stroke="#e58a4e" stroke-width="2.6"/>
<line x1="152.3" y1="896.1" x2="152.3" y2="917.5" stroke="#4b62b4" stroke-width="0.9"/>
<line x1="152.3" y1="941.2" x2="152.3" y2="947.4" stroke="#4b62b4" stroke-width="0.9"/>
<rect x="145.5" y="917.5" width="13.9" height="23.7" fill="none" stroke="#4b62b4" stroke-width="0.9"/>
<line x1="145.5" y1="931.9" x2="159.4" y2="931.9" stroke="#4b62b4" stroke-width="2.6"/>
<circle cx="60.8" cy="882.2" r="2.1" fill="#e06f2c"/>
<circle cx="60.8" cy="910.5" r="2.1" fill="#e06f2c"/>
<circle cx="60.8" cy="923.7" r="2.1" fill="#e06f2c"/>
<circle cx="60.8" cy="934.1" r="2.1" fill="#e06f2c"/>
<circle cx="60.8" cy="938.1" r="2.1" fill="#e06f2c"/>
<circle cx="60.8" cy="940.3" r="2.1" fill="#e06f2c"/>
<circle cx="60.8" cy="943" r="2.1" fill="#e06f2c"/>
<circle cx="60.8" cy="947" r="2.1" fill="#e06f2c"/>
<circle cx="79.4" cy="849.5" r="2.1" fill="#3450a2"/>
<circle cx="79.4" cy="854" r="2.1" fill="#3450a2"/>
<circle cx="79.4" cy="860.8" r="2.1" fill="#3450a2"/>
<circle cx="79.4" cy="881" r="2.1" fill="#3450a2"/>
<circle cx="79.4" cy="902" r="2.1" fill="#3450a2"/>
<circle cx="79.4" cy="909.8" r="2.1" fill="#3450a2"/>
<circle cx="79.4" cy="916" r="2.1" fill="#3450a2"/>
<circle cx="79.4" cy="919.1" r="2.1" fill="#3450a2"/>
<circle cx="79.4" cy="923.1" r="2.1" fill="#3450a2"/>
<circle cx="79.4" cy="926.4" r="2.1" fill="#3450a2"/>
<circle cx="79.4" cy="931.9" r="2.1" fill="#3450a2"/>
<circle cx="79.4" cy="935.2" r="2.1" fill="#3450a2"/>
<circle cx="79.4" cy="945.2" r="2.1" fill="#3450a2"/>
<circle cx="79.4" cy="947.8" r="2.1" fill="#3450a2"/>
<circle cx="97.6" cy="913.8" r="2.1" fill="#e06f2c"/>
<circle cx="97.6" cy="927.5" r="2.1" fill="#e06f2c"/>
<circle cx="97.6" cy="937.4" r="2.1" fill="#e06f2c"/>
<circle cx="97.6" cy="940.8" r="2.1" fill="#e06f2c"/>
<circle cx="97.6" cy="944.1" r="2.1" fill="#e06f2c"/>
<circle cx="97.6" cy="946.3" r="2.1" fill="#e06f2c"/>
<circle cx="115.9" cy="802.3" r="2.1" fill="#3450a2"/>
<circle cx="115.9" cy="806.1" r="2.1" fill="#3450a2"/>
<circle cx="115.9" cy="810.4" r="2.1" fill="#3450a2"/>
<circle cx="115.9" cy="817.7" r="2.1" fill="#3450a2"/>
<circle cx="115.9" cy="828.5" r="2.1" fill="#3450a2"/>
<circle cx="115.9" cy="843.3" r="2.1" fill="#3450a2"/>
<circle cx="115.9" cy="845.2" r="2.1" fill="#3450a2"/>
<circle cx="115.9" cy="849.5" r="2.1" fill="#3450a2"/>
<circle cx="115.9" cy="881.5" r="2.1" fill="#3450a2"/>
<circle cx="115.9" cy="889" r="2.1" fill="#3450a2"/>
<circle cx="115.9" cy="907.6" r="2.1" fill="#3450a2"/>
<circle cx="115.9" cy="916.4" r="2.1" fill="#3450a2"/>
<circle cx="115.9" cy="927" r="2.1" fill="#3450a2"/>
<circle cx="115.9" cy="938.6" r="2.1" fill="#3450a2"/>
<circle cx="115.9" cy="941.2" r="2.1" fill="#3450a2"/>
<circle cx="115.9" cy="944.7" r="2.1" fill="#3450a2"/>
<circle cx="115.9" cy="947.8" r="2.1" fill="#3450a2"/>
<circle cx="134.1" cy="874.2" r="2.1" fill="#e06f2c"/>
<circle cx="134.1" cy="925.3" r="2.1" fill="#e06f2c"/>
<circle cx="134.1" cy="934.1" r="2.1" fill="#e06f2c"/>
<circle cx="134.1" cy="941.9" r="2.1" fill="#e06f2c"/>
<circle cx="134.1" cy="945.2" r="2.1" fill="#e06f2c"/>
<circle cx="152.3" cy="874.2" r="2.1" fill="#3450a2"/>
<circle cx="152.3" cy="896.1" r="2.1" fill="#3450a2"/>
<circle cx="152.3" cy="899.9" r="2.1" fill="#3450a2"/>
<circle cx="152.3" cy="905.4" r="2.1" fill="#3450a2"/>
<circle cx="152.3" cy="917.5" r="2.1" fill="#3450a2"/>
<circle cx="152.3" cy="924.2" r="2.1" fill="#3450a2"/>
<circle cx="152.3" cy="927.9" r="2.1" fill="#3450a2"/>
<circle cx="152.3" cy="931.9" r="2.1" fill="#3450a2"/>
<circle cx="152.3" cy="936.3" r="2.1" fill="#3450a2"/>
<circle cx="152.3" cy="940.8" r="2.1" fill="#3450a2"/>
<circle cx="152.3" cy="944.1" r="2.1" fill="#3450a2"/>
<circle cx="152.3" cy="947.4" r="2.1" fill="#3450a2"/>
<rect x="57.1" y="960.5" width="7.4" height="7.4" fill="#e4702e" stroke="#111" stroke-width="1.3"/>
<rect x="75.7" y="960.5" width="7.4" height="7.4" fill="#3a55ae" stroke="#111" stroke-width="1.3"/>
<rect x="93.9" y="960.5" width="7.4" height="7.4" fill="#e4702e" stroke="#111" stroke-width="1.3"/>
<rect x="112.2" y="960.5" width="7.4" height="7.4" fill="#3a55ae" stroke="#111" stroke-width="1.3"/>
<rect x="130.4" y="960.5" width="7.4" height="7.4" fill="#e4702e" stroke="#111" stroke-width="1.3"/>
<rect x="148.6" y="960.5" width="7.4" height="7.4" fill="#3a55ae" stroke="#111" stroke-width="1.3"/>
<text transform="translate(59.4 977.2) scale(0.955 1)" font-size="8.67" fill="#231f20" stroke="#231f20" stroke-width="0.22" text-anchor="middle">Fast</text>
<text transform="translate(77.8 977.2) scale(0.955 1)" font-size="8.67" fill="#231f20" stroke="#231f20" stroke-width="0.22" text-anchor="middle">Slow</text>
<line x1="59.8" y1="980.4" x2="80.4" y2="980.4" stroke="#333" stroke-width="1.3"/>
<text transform="translate(70.1 991.2) scale(0.955 1)" font-size="9.20" fill="#231f20" stroke="#231f20" stroke-width="0.22" text-anchor="middle">BL</text>
<text transform="translate(96.2 977.2) scale(0.955 1)" font-size="8.67" fill="#231f20" stroke="#231f20" stroke-width="0.22" text-anchor="middle">Fast</text>
<text transform="translate(114.3 977.2) scale(0.955 1)" font-size="8.67" fill="#231f20" stroke="#231f20" stroke-width="0.22" text-anchor="middle">Slow</text>
<line x1="96.6" y1="980.4" x2="116.9" y2="980.4" stroke="#333" stroke-width="1.3"/>
<text transform="translate(106.8 991.2) scale(0.955 1)" font-size="9.20" fill="#231f20" stroke="#231f20" stroke-width="0.22" text-anchor="middle">FU1</text>
<text transform="translate(132.7 977.2) scale(0.955 1)" font-size="8.67" fill="#231f20" stroke="#231f20" stroke-width="0.22" text-anchor="middle">Fast</text>
<text transform="translate(150.7 977.2) scale(0.955 1)" font-size="8.67" fill="#231f20" stroke="#231f20" stroke-width="0.22" text-anchor="middle">Slow</text>
<line x1="133.1" y1="980.4" x2="153.3" y2="980.4" stroke="#333" stroke-width="1.3"/>
<text transform="translate(143.2 991.2) scale(0.955 1)" font-size="9.20" fill="#231f20" stroke="#231f20" stroke-width="0.22" text-anchor="middle">FU2</text>
<text transform="translate(22.8 876.3) rotate(-90) scale(0.955 1)" font-size="9.51" fill="#231f20" stroke="#231f20" stroke-width="0.22" text-anchor="middle">M1 proportion in multiplex IHC (%)</text>
<text transform="translate(61.0 787.6) scale(0.955 1)" font-size="9.20" fill="#231f20" stroke="#231f20" stroke-width="0.22">n.s.</text>
<line x1="61.5" y1="792.0" x2="76.0" y2="792.0" stroke="#333" stroke-width="1.4"/>
<text transform="translate(89.8 787.6) scale(0.955 1)" font-size="9.20" fill="#231f20" stroke="#231f20" stroke-width="0.22"><tspan font-style="italic">P</tspan> &lt; 0.05</text>
<line x1="97.9" y1="792.0" x2="114.0" y2="792.0" stroke="#333" stroke-width="1.4"/>
<text transform="translate(134.2 787.6) scale(0.955 1)" font-size="9.20" fill="#231f20" stroke="#231f20" stroke-width="0.22">n.s.</text>
<line x1="134.5" y1="792.0" x2="150.5" y2="792.0" stroke="#333" stroke-width="1.4"/>
<rect x="210" y="796" width="114.6" height="159.2" fill="#fff" stroke="#bdbdbd" stroke-width="1"/>
<line x1="210.0" y1="930.3" x2="324.6" y2="930.3" stroke="#f4f4f4" stroke-width="0.6"/>
<line x1="210.0" y1="893.9" x2="324.6" y2="893.9" stroke="#f4f4f4" stroke-width="0.6"/>
<line x1="210.0" y1="857.5" x2="324.6" y2="857.5" stroke="#f4f4f4" stroke-width="0.6"/>
<line x1="210.0" y1="821.1" x2="324.6" y2="821.1" stroke="#f4f4f4" stroke-width="0.6"/>
<line x1="210.0" y1="948.5" x2="324.6" y2="948.5" stroke="#ebebeb" stroke-width="0.6"/>
<text transform="translate(204.8 951.7) scale(0.955 1)" font-size="9.20" fill="#231f20" stroke="#231f20" stroke-width="0.22" text-anchor="end">0</text>
<line x1="207.4" y1="948.5" x2="210.0" y2="948.5" stroke="#555" stroke-width="0.6"/>
<line x1="210.0" y1="912.1" x2="324.6" y2="912.1" stroke="#ebebeb" stroke-width="0.6"/>
<text transform="translate(204.8 915.3) scale(0.955 1)" font-size="9.20" fill="#231f20" stroke="#231f20" stroke-width="0.22" text-anchor="end">10</text>
<line x1="207.4" y1="912.1" x2="210.0" y2="912.1" stroke="#555" stroke-width="0.6"/>
<line x1="210.0" y1="875.7" x2="324.6" y2="875.7" stroke="#ebebeb" stroke-width="0.6"/>
<text transform="translate(204.8 878.9) scale(0.955 1)" font-size="9.20" fill="#231f20" stroke="#231f20" stroke-width="0.22" text-anchor="end">20</text>
<line x1="207.4" y1="875.7" x2="210.0" y2="875.7" stroke="#555" stroke-width="0.6"/>
<line x1="210.0" y1="839.3" x2="324.6" y2="839.3" stroke="#ebebeb" stroke-width="0.6"/>
<text transform="translate(204.8 842.5) scale(0.955 1)" font-size="9.20" fill="#231f20" stroke="#231f20" stroke-width="0.22" text-anchor="end">30</text>
<line x1="207.4" y1="839.3" x2="210.0" y2="839.3" stroke="#555" stroke-width="0.6"/>
<line x1="210.0" y1="802.9" x2="324.6" y2="802.9" stroke="#ebebeb" stroke-width="0.6"/>
<text transform="translate(204.8 806.1) scale(0.955 1)" font-size="9.20" fill="#231f20" stroke="#231f20" stroke-width="0.22" text-anchor="end">40</text>
<line x1="207.4" y1="802.9" x2="210.0" y2="802.9" stroke="#555" stroke-width="0.6"/>
<line x1="221.8" y1="796.0" x2="221.8" y2="955.2" stroke="#ebebeb" stroke-width="0.6"/>
<line x1="240.3" y1="796.0" x2="240.3" y2="955.2" stroke="#ebebeb" stroke-width="0.6"/>
<line x1="258.5" y1="796.0" x2="258.5" y2="955.2" stroke="#ebebeb" stroke-width="0.6"/>
<line x1="276.7" y1="796.0" x2="276.7" y2="955.2" stroke="#ebebeb" stroke-width="0.6"/>
<line x1="295.1" y1="796.0" x2="295.1" y2="955.2" stroke="#ebebeb" stroke-width="0.6"/>
<line x1="313.6" y1="796.0" x2="313.6" y2="955.2" stroke="#ebebeb" stroke-width="0.6"/>
<line x1="221.8" y1="885.2" x2="221.8" y2="904.5" stroke="#e58a4e" stroke-width="0.9"/>
<line x1="221.8" y1="932.1" x2="221.8" y2="946.0" stroke="#e58a4e" stroke-width="0.9"/>
<rect x="214.6" y="904.5" width="14.9" height="27.6" fill="none" stroke="#e58a4e" stroke-width="0.9"/>
<line x1="214.6" y1="922.0" x2="229.5" y2="922.0" stroke="#e58a4e" stroke-width="2.6"/>
<line x1="240.3" y1="917.2" x2="240.3" y2="930.2" stroke="#4b62b4" stroke-width="0.9"/>
<line x1="240.3" y1="944.1" x2="240.3" y2="948.5" stroke="#4b62b4" stroke-width="0.9"/>
<rect x="233.4" y="930.2" width="14.4" height="13.9" fill="none" stroke="#4b62b4" stroke-width="0.9"/>
<line x1="233.4" y1="938.8" x2="247.8" y2="938.8" stroke="#4b62b4" stroke-width="2.6"/>
<line x1="258.5" y1="890.8" x2="258.5" y2="899.2" stroke="#e58a4e" stroke-width="0.9"/>
<line x1="258.5" y1="941.7" x2="258.5" y2="945.3" stroke="#e58a4e" stroke-width="0.9"/>
<rect x="251.4" y="899.2" width="14.2" height="42.5" fill="none" stroke="#e58a4e" stroke-width="0.9"/>
<line x1="251.4" y1="923.0" x2="265.6" y2="923.0" stroke="#e58a4e" stroke-width="2.6"/>
<line x1="276.7" y1="885.2" x2="276.7" y2="911.2" stroke="#4b62b4" stroke-width="0.9"/>
<line x1="276.7" y1="941.0" x2="276.7" y2="947.7" stroke="#4b62b4" stroke-width="0.9"/>
<rect x="269.9" y="911.2" width="13.9" height="29.8" fill="none" stroke="#4b62b4" stroke-width="0.9"/>
<line x1="269.9" y1="930.2" x2="283.8" y2="930.2" stroke="#4b62b4" stroke-width="2.6"/>
<line x1="295.1" y1="866.0" x2="295.1" y2="894.4" stroke="#e58a4e" stroke-width="0.9"/>
<line x1="295.1" y1="940.0" x2="295.1" y2="945.3" stroke="#e58a4e" stroke-width="0.9"/>
<rect x="288.0" y="894.4" width="14.4" height="45.6" fill="none" stroke="#e58a4e" stroke-width="0.9"/>
<line x1="288.0" y1="911.2" x2="302.4" y2="911.2" stroke="#e58a4e" stroke-width="2.6"/>
<line x1="313.6" y1="896.1" x2="313.6" y2="924.9" stroke="#4b62b4" stroke-width="0.9"/>
<line x1="313.6" y1="944.6" x2="313.6" y2="946.5" stroke="#4b62b4" stroke-width="0.9"/>
<rect x="306.4" y="924.9" width="14.5" height="19.7" fill="none" stroke="#4b62b4" stroke-width="0.9"/>
<line x1="306.4" y1="938.8" x2="320.9" y2="938.8" stroke="#4b62b4" stroke-width="2.6"/>
<circle cx="221.8" cy="802.2" r="2.1" fill="#e06f2c"/>
<circle cx="221.8" cy="885.2" r="2.1" fill="#e06f2c"/>
<circle cx="221.8" cy="887" r="2.1" fill="#e06f2c"/>
<circle cx="221.8" cy="888.8" r="2.1" fill="#e06f2c"/>
<circle cx="221.8" cy="910.5" r="2.1" fill="#e06f2c"/>
<circle cx="221.8" cy="922" r="2.1" fill="#e06f2c"/>
<circle cx="221.8" cy="923" r="2.1" fill="#e06f2c"/>
<circle cx="221.8" cy="929" r="2.1" fill="#e06f2c"/>
<circle cx="221.8" cy="941.7" r="2.1" fill="#e06f2c"/>
<circle cx="221.8" cy="944.1" r="2.1" fill="#e06f2c"/>
<circle cx="221.8" cy="946" r="2.1" fill="#e06f2c"/>
<circle cx="240.3" cy="917.2" r="2.1" fill="#3450a2"/>
<circle cx="240.3" cy="920.1" r="2.1" fill="#3450a2"/>
<circle cx="240.3" cy="923" r="2.1" fill="#3450a2"/>
<circle cx="240.3" cy="927.3" r="2.1" fill="#3450a2"/>
<circle cx="240.3" cy="930.9" r="2.1" fill="#3450a2"/>
<circle cx="240.3" cy="934.5" r="2.1" fill="#3450a2"/>
<circle cx="240.3" cy="936.9" r="2.1" fill="#3450a2"/>
<circle cx="240.3" cy="939.3" r="2.1" fill="#3450a2"/>
<circle cx="240.3" cy="941.7" r="2.1" fill="#3450a2"/>
<circle cx="240.3" cy="944.1" r="2.1" fill="#3450a2"/>
<circle cx="240.3" cy="946.5" r="2.1" fill="#3450a2"/>
<circle cx="240.3" cy="948.5" r="2.1" fill="#3450a2"/>
<circle cx="258.5" cy="890.8" r="2.1" fill="#e06f2c"/>
<circle cx="258.5" cy="894.9" r="2.1" fill="#e06f2c"/>
<circle cx="258.5" cy="911.7" r="2.1" fill="#e06f2c"/>
<circle cx="258.5" cy="920.1" r="2.1" fill="#e06f2c"/>
<circle cx="258.5" cy="937.4" r="2.1" fill="#e06f2c"/>
<circle cx="258.5" cy="940.5" r="2.1" fill="#e06f2c"/>
<circle cx="258.5" cy="945.3" r="2.1" fill="#e06f2c"/>
<circle cx="276.7" cy="885.2" r="2.1" fill="#3450a2"/>
<circle cx="276.7" cy="887.6" r="2.1" fill="#3450a2"/>
<circle cx="276.7" cy="890" r="2.1" fill="#3450a2"/>
<circle cx="276.7" cy="892.5" r="2.1" fill="#3450a2"/>
<circle cx="276.7" cy="894.9" r="2.1" fill="#3450a2"/>
<circle cx="276.7" cy="910.5" r="2.1" fill="#3450a2"/>
<circle cx="276.7" cy="917.7" r="2.1" fill="#3450a2"/>
<circle cx="276.7" cy="927.3" r="2.1" fill="#3450a2"/>
<circle cx="276.7" cy="929.7" r="2.1" fill="#3450a2"/>
<circle cx="276.7" cy="932.1" r="2.1" fill="#3450a2"/>
<circle cx="276.7" cy="934.5" r="2.1" fill="#3450a2"/>
<circle cx="276.7" cy="938.1" r="2.1" fill="#3450a2"/>
<circle cx="276.7" cy="941.7" r="2.1" fill="#3450a2"/>
<circle cx="276.7" cy="945.3" r="2.1" fill="#3450a2"/>
<circle cx="276.7" cy="947.7" r="2.1" fill="#3450a2"/>
<circle cx="295.1" cy="866" r="2.1" fill="#e06f2c"/>
<circle cx="295.1" cy="892.5" r="2.1" fill="#e06f2c"/>
<circle cx="295.1" cy="894.9" r="2.1" fill="#e06f2c"/>
<circle cx="295.1" cy="896.1" r="2.1" fill="#e06f2c"/>
<circle cx="295.1" cy="926.1" r="2.1" fill="#e06f2c"/>
<circle cx="295.1" cy="939.3" r="2.1" fill="#e06f2c"/>
<circle cx="295.1" cy="941.7" r="2.1" fill="#e06f2c"/>
<circle cx="295.1" cy="945.3" r="2.1" fill="#e06f2c"/>
<circle cx="313.6" cy="896.1" r="2.1" fill="#3450a2"/>
<circle cx="313.6" cy="913.4" r="2.1" fill="#3450a2"/>
<circle cx="313.6" cy="918.9" r="2.1" fill="#3450a2"/>
<circle cx="313.6" cy="924.9" r="2.1" fill="#3450a2"/>
<circle cx="313.6" cy="928.5" r="2.1" fill="#3450a2"/>
<circle cx="313.6" cy="932.1" r="2.1" fill="#3450a2"/>
<circle cx="313.6" cy="935.7" r="2.1" fill="#3450a2"/>
<circle cx="313.6" cy="938.1" r="2.1" fill="#3450a2"/>
<circle cx="313.6" cy="940.5" r="2.1" fill="#3450a2"/>
<circle cx="313.6" cy="944.1" r="2.1" fill="#3450a2"/>
<circle cx="313.6" cy="946.5" r="2.1" fill="#3450a2"/>
<rect x="218.1" y="960.5" width="7.4" height="7.4" fill="#e4702e" stroke="#111" stroke-width="1.3"/>
<rect x="236.6" y="960.5" width="7.4" height="7.4" fill="#3a55ae" stroke="#111" stroke-width="1.3"/>
<rect x="254.8" y="960.5" width="7.4" height="7.4" fill="#e4702e" stroke="#111" stroke-width="1.3"/>
<rect x="273.0" y="960.5" width="7.4" height="7.4" fill="#3a55ae" stroke="#111" stroke-width="1.3"/>
<rect x="291.4" y="960.5" width="7.4" height="7.4" fill="#e4702e" stroke="#111" stroke-width="1.3"/>
<rect x="309.9" y="960.5" width="7.4" height="7.4" fill="#3a55ae" stroke="#111" stroke-width="1.3"/>
<text transform="translate(220.4 977.2) scale(0.955 1)" font-size="8.67" fill="#231f20" stroke="#231f20" stroke-width="0.22" text-anchor="middle">Fast</text>
<text transform="translate(238.7 977.2) scale(0.955 1)" font-size="8.67" fill="#231f20" stroke="#231f20" stroke-width="0.22" text-anchor="middle">Slow</text>
<line x1="220.8" y1="980.4" x2="241.3" y2="980.4" stroke="#333" stroke-width="1.3"/>
<text transform="translate(231.1 991.2) scale(0.955 1)" font-size="9.20" fill="#231f20" stroke="#231f20" stroke-width="0.22" text-anchor="middle">BL</text>
<text transform="translate(257.1 977.2) scale(0.955 1)" font-size="8.67" fill="#231f20" stroke="#231f20" stroke-width="0.22" text-anchor="middle">Fast</text>
<text transform="translate(275.1 977.2) scale(0.955 1)" font-size="8.67" fill="#231f20" stroke="#231f20" stroke-width="0.22" text-anchor="middle">Slow</text>
<line x1="257.5" y1="980.4" x2="277.7" y2="980.4" stroke="#333" stroke-width="1.3"/>
<text transform="translate(267.6 991.2) scale(0.955 1)" font-size="9.20" fill="#231f20" stroke="#231f20" stroke-width="0.22" text-anchor="middle">FU1</text>
<text transform="translate(293.7 977.2) scale(0.955 1)" font-size="8.67" fill="#231f20" stroke="#231f20" stroke-width="0.22" text-anchor="middle">Fast</text>
<text transform="translate(312.0 977.2) scale(0.955 1)" font-size="8.67" fill="#231f20" stroke="#231f20" stroke-width="0.22" text-anchor="middle">Slow</text>
<line x1="294.1" y1="980.4" x2="314.6" y2="980.4" stroke="#333" stroke-width="1.3"/>
<text transform="translate(304.4 991.2) scale(0.955 1)" font-size="9.20" fill="#231f20" stroke="#231f20" stroke-width="0.22" text-anchor="middle">FU2</text>
<text transform="translate(183.8 876.3) rotate(-90) scale(0.955 1)" font-size="9.51" fill="#231f20" stroke="#231f20" stroke-width="0.22" text-anchor="middle">M2 proportion in multiplex IHC (%)</text>
<text transform="translate(214.6 787.6) scale(0.955 1)" font-size="9.20" fill="#231f20" stroke="#231f20" stroke-width="0.22"><tspan font-style="italic">P</tspan> &lt; 0.05</text>
<line x1="223.0" y1="791.7" x2="238.3" y2="791.7" stroke="#333" stroke-width="1.4"/>
<text transform="translate(259.8 787.6) scale(0.955 1)" font-size="9.20" fill="#231f20" stroke="#231f20" stroke-width="0.22">n.s.</text>
<line x1="260.0" y1="791.7" x2="274.6" y2="791.7" stroke="#333" stroke-width="1.4"/>
<text transform="translate(296.8 787.6) scale(0.955 1)" font-size="9.20" fill="#231f20" stroke="#231f20" stroke-width="0.22">n.s.</text>
<line x1="297.0" y1="791.7" x2="311.5" y2="791.7" stroke="#333" stroke-width="1.4"/>
<text transform="translate(336.2 800.8) scale(0.955 1)" font-size="9.20" fill="#231f20" stroke="#231f20" stroke-width="0.22">Progression status</text>
<circle cx="341.3" cy="811.6" r="3.7" fill="#e4702e" stroke="#111" stroke-width="1.2"/>
<text transform="translate(350.0 814.6) scale(0.955 1)" font-size="9.20" fill="#231f20" stroke="#231f20" stroke-width="0.22">Fast</text>
<circle cx="341.3" cy="823" r="3.7" fill="#3a55ae" stroke="#111" stroke-width="1.2"/>
<text transform="translate(350.0 826.0) scale(0.955 1)" font-size="9.20" fill="#231f20" stroke="#231f20" stroke-width="0.22">Slow</text>
<rect x="444.4" y="776" width="56.2" height="80.4" fill="#e4e9f4"/>
<text transform="translate(447.5 785.6) scale(0.955 1)" font-size="8.99" fill="#231f20" stroke="#231f20" stroke-width="0.22">Cell markers</text>
<circle cx="452.7" cy="796.1" r="3.9" fill="#e42427"/>
<text transform="translate(460.2 799.0) scale(0.955 1)" font-size="8.99" fill="#231f20" stroke="#231f20" stroke-width="0.22">panCK</text>
<circle cx="452.7" cy="806.9" r="3.9" fill="#f1e127"/>
<text transform="translate(460.2 809.8) scale(0.955 1)" font-size="8.99" fill="#231f20" stroke="#231f20" stroke-width="0.22">PD-L1</text>
<circle cx="452.7" cy="817.6" r="3.9" fill="#6cc5e2"/>
<text transform="translate(460.2 820.5) scale(0.955 1)" font-size="8.99" fill="#231f20" stroke="#231f20" stroke-width="0.22">CD8</text>
<circle cx="452.7" cy="828.4" r="3.9" fill="#f4b323"/>
<text transform="translate(460.2 831.2) scale(0.955 1)" font-size="8.99" fill="#231f20" stroke="#231f20" stroke-width="0.22">CD68</text>
<circle cx="452.7" cy="839.1" r="3.9" fill="#bd5cbc"/>
<text transform="translate(460.2 842.0) scale(0.955 1)" font-size="8.99" fill="#231f20" stroke="#231f20" stroke-width="0.22">CD14</text>
<circle cx="452.7" cy="849.9" r="3.9" fill="#58b548"/>
<text transform="translate(460.2 852.8) scale(0.955 1)" font-size="8.99" fill="#231f20" stroke="#231f20" stroke-width="0.22">CD163</text>
</svg></body></html>
